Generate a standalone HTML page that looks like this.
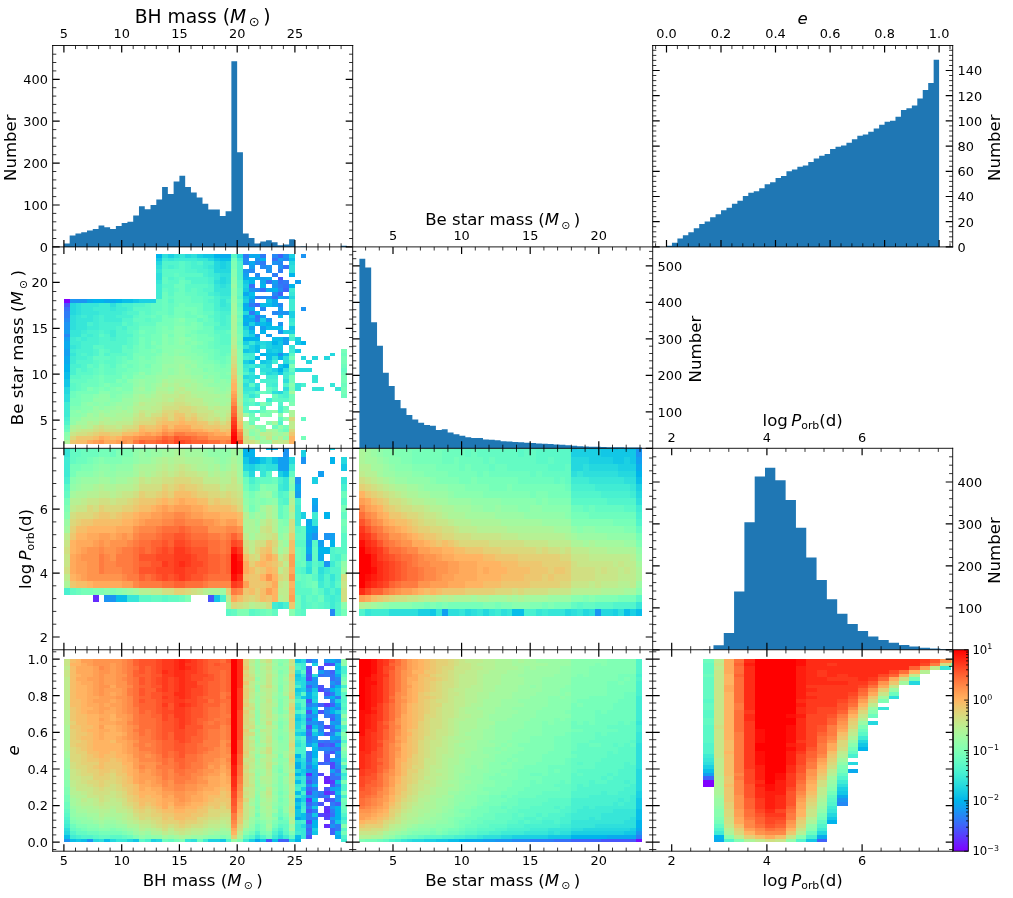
<!DOCTYPE html>
<html lang="en"><head><meta charset="utf-8"><title>Be-BH binaries corner plot</title>
<style>html,body{margin:0;padding:0;background:#fff}svg{display:block}</style></head>
<body>
<svg width="1013" height="898" viewBox="0 0 1013 898">
<rect width="1013" height="898" fill="#fff"/>
<defs>
<clipPath id="c00"><rect x="52.70" y="45.50" width="300.00" height="201.40"/></clipPath>
<clipPath id="c01"><rect x="352.70" y="45.50" width="300.00" height="201.40"/></clipPath>
<clipPath id="c02"><rect x="652.70" y="45.50" width="300.00" height="201.40"/></clipPath>
<clipPath id="c10"><rect x="52.70" y="246.90" width="300.00" height="201.40"/></clipPath>
<clipPath id="c11"><rect x="352.70" y="246.90" width="300.00" height="201.40"/></clipPath>
<clipPath id="c12"><rect x="652.70" y="246.90" width="300.00" height="201.40"/></clipPath>
<clipPath id="c20"><rect x="52.70" y="448.30" width="300.00" height="201.45"/></clipPath>
<clipPath id="c21"><rect x="352.70" y="448.30" width="300.00" height="201.45"/></clipPath>
<clipPath id="c22"><rect x="652.70" y="448.30" width="300.00" height="201.45"/></clipPath>
<clipPath id="c30"><rect x="52.70" y="649.75" width="300.00" height="201.45"/></clipPath>
<clipPath id="c31"><rect x="352.70" y="649.75" width="300.00" height="201.45"/></clipPath>
<clipPath id="c32"><rect x="652.70" y="649.75" width="300.00" height="201.45"/></clipPath>
<linearGradient id="cb" x1="0" y1="1" x2="0" y2="0">
<stop offset="0.000" stop-color="#8000ff"/>
<stop offset="0.025" stop-color="#7314ff"/>
<stop offset="0.050" stop-color="#6628fe"/>
<stop offset="0.075" stop-color="#593cfd"/>
<stop offset="0.100" stop-color="#4c4ffc"/>
<stop offset="0.125" stop-color="#4062fa"/>
<stop offset="0.150" stop-color="#3374f8"/>
<stop offset="0.175" stop-color="#2685f5"/>
<stop offset="0.200" stop-color="#1996f3"/>
<stop offset="0.225" stop-color="#0da6ef"/>
<stop offset="0.250" stop-color="#00b4ec"/>
<stop offset="0.275" stop-color="#0dc2e8"/>
<stop offset="0.300" stop-color="#19cee3"/>
<stop offset="0.325" stop-color="#26d9de"/>
<stop offset="0.350" stop-color="#33e3d9"/>
<stop offset="0.375" stop-color="#40ecd4"/>
<stop offset="0.400" stop-color="#4df3ce"/>
<stop offset="0.425" stop-color="#59f8c8"/>
<stop offset="0.450" stop-color="#66fcc2"/>
<stop offset="0.475" stop-color="#73febb"/>
<stop offset="0.500" stop-color="#80ffb4"/>
<stop offset="0.525" stop-color="#8cfead"/>
<stop offset="0.550" stop-color="#99fca6"/>
<stop offset="0.575" stop-color="#a6f89e"/>
<stop offset="0.600" stop-color="#b2f396"/>
<stop offset="0.625" stop-color="#bfec8e"/>
<stop offset="0.650" stop-color="#cce385"/>
<stop offset="0.675" stop-color="#d9d97d"/>
<stop offset="0.700" stop-color="#e5ce74"/>
<stop offset="0.725" stop-color="#f2c26b"/>
<stop offset="0.750" stop-color="#ffb462"/>
<stop offset="0.775" stop-color="#ffa658"/>
<stop offset="0.800" stop-color="#ff964f"/>
<stop offset="0.825" stop-color="#ff8545"/>
<stop offset="0.850" stop-color="#ff743c"/>
<stop offset="0.875" stop-color="#ff6232"/>
<stop offset="0.900" stop-color="#ff4f28"/>
<stop offset="0.925" stop-color="#ff3c1e"/>
<stop offset="0.950" stop-color="#ff2814"/>
<stop offset="0.975" stop-color="#ff140a"/>
<stop offset="1.000" stop-color="#ff0000"/>
</linearGradient>
</defs>
<g clip-path="url(#c10)" shape-rendering="crispEdges"><path fill="#8000ff" d="M63.9 299.3H69.7V303.1H63.9z"/><path fill="#4954fb" d="M63.9 303.1H69.7V306.9H63.9zM277.6 276.5H283.4V280.3H277.6z"/><path fill="#4062fa" d="M254.5 303.1H260.2V306.9H254.5zM277.6 291.7H283.4V295.5H277.6zM283.4 287.9H289.1V291.7H283.4zM277.6 253.7H283.4V257.5H277.6z"/><path fill="#376ff9" d="M254.5 314.5H260.2V318.3H254.5zM63.9 306.9H69.7V310.7H63.9zM271.8 295.5H277.6V299.3H271.8zM260.2 287.9H266V291.7H260.2zM248.7 284.1H254.5V287.9H248.7zM283.4 284.1H289.1V287.9H283.4zM266 280.3H271.8V284.1H266zM277.6 280.3H283.4V284.1H277.6zM283.4 265.1H289.1V268.9H283.4zM271.8 257.5H277.6V261.3H271.8z"/><path fill="#2e7bf7" d="M254.5 318.3H260.2V322.1H254.5zM63.9 314.5H69.7V318.3H63.9zM63.9 310.7H69.7V314.5H63.9zM248.7 310.7H254.5V314.5H248.7zM248.7 303.1H254.5V306.9H248.7zM254.5 295.5H260.2V299.3H254.5zM277.6 284.1H283.4V287.9H277.6zM283.4 280.3H289.1V284.1H283.4zM271.8 272.7H277.6V276.5H271.8zM277.6 268.9H283.4V272.7H277.6zM260.2 261.3H266V265.1H260.2zM242.9 253.7H248.7V257.5H242.9zM260.2 253.7H266V257.5H260.2z"/><path fill="#2488f5" d="M63.9 333.5H69.7V337.3H63.9zM63.9 318.3H69.7V322.1H63.9zM271.8 310.7H277.6V314.5H271.8zM260.2 306.9H266V310.7H260.2zM277.6 303.1H283.4V306.9H277.6zM260.2 295.5H266V299.3H260.2zM271.8 291.7H277.6V295.5H271.8zM254.5 287.9H260.2V291.7H254.5zM277.6 287.9H283.4V291.7H277.6zM254.5 272.7H260.2V276.5H254.5zM248.7 268.9H254.5V272.7H248.7zM260.2 265.1H266V268.9H260.2zM242.9 261.3H248.7V265.1H242.9zM254.5 261.3H260.2V265.1H254.5zM277.6 261.3H283.4V265.1H277.6zM242.9 257.5H248.7V261.3H242.9zM283.4 257.5H289.1V261.3H283.4zM271.8 253.7H277.6V257.5H271.8z"/><path fill="#1b94f3" d="M277.6 352.5H283.4V356.3H277.6zM254.5 333.5H260.2V337.3H254.5zM277.6 329.7H283.4V333.5H277.6zM63.9 325.9H69.7V329.7H63.9zM63.9 322.1H69.7V325.9H63.9zM277.6 322.1H283.4V325.9H277.6zM266 318.3H271.8V322.1H266zM277.6 310.7H289.1V314.5H277.6zM300.7 306.9H306.4V310.7H300.7zM69.7 299.3H87V303.1H69.7zM248.7 299.3H254.5V303.1H248.7zM266 295.5H271.8V299.3H266zM283.4 295.5H289.1V299.3H283.4zM248.7 287.9H254.5V291.7H248.7zM271.8 284.1H277.6V287.9H271.8zM242.9 268.9H248.7V272.7H242.9zM266 268.9H271.8V272.7H266zM266 265.1H271.8V268.9H266zM277.6 265.1H283.4V268.9H277.6zM271.8 261.3H277.6V265.1H271.8zM254.5 257.5H260.2V261.3H254.5zM283.4 253.7H289.1V257.5H283.4zM300.7 253.7H306.4V257.5H300.7z"/><path fill="#129ff1" d="M63.9 352.5H69.7V356.3H63.9zM63.9 348.7H69.7V352.5H63.9zM283.4 341.1H289.1V344.9H283.4zM63.9 337.3H69.7V341.1H63.9zM283.4 337.3H289.1V341.1H283.4zM266 333.5H271.8V337.3H266zM63.9 329.7H69.7V333.5H63.9zM248.7 325.9H254.5V329.7H248.7zM260.2 325.9H266V329.7H260.2zM260.2 314.5H266V318.3H260.2zM277.6 306.9H283.4V310.7H277.6zM271.8 280.3H277.6V284.1H271.8zM294.9 280.3H300.7V284.1H294.9zM260.2 276.5H266V280.3H260.2zM242.9 272.7H248.7V276.5H242.9zM248.7 265.1H254.5V268.9H248.7zM277.6 257.5H283.4V261.3H277.6z"/><path fill="#09aaee" d="M63.9 360.1H69.7V363.9H63.9zM63.9 356.3H69.7V360.1H63.9zM63.9 344.9H69.7V348.7H63.9zM63.9 341.1H69.7V344.9H63.9zM242.9 322.1H248.7V325.9H242.9zM254.5 322.1H260.2V325.9H254.5zM248.7 318.3H254.5V322.1H248.7zM242.9 314.5H248.7V318.3H242.9zM248.7 306.9H254.5V310.7H248.7zM242.9 303.1H248.7V306.9H242.9zM271.8 303.1H277.6V306.9H271.8zM87 299.3H92.8V303.1H87zM104.3 299.3H115.9V303.1H104.3zM271.8 299.3H277.6V303.1H271.8zM277.6 295.5H283.4V299.3H277.6zM242.9 291.7H248.7V295.5H242.9zM266 287.9H271.8V291.7H266zM260.2 280.3H266V284.1H260.2zM242.9 276.5H248.7V280.3H242.9zM254.5 276.5H260.2V280.3H254.5zM266 276.5H271.8V280.3H266zM248.7 261.3H254.5V265.1H248.7zM219.8 253.7H231.4V257.5H219.8zM248.7 253.7H260.2V257.5H248.7z"/><path fill="#00b4ec" d="M63.9 367.7H69.7V371.5H63.9zM277.6 367.7H283.4V371.5H277.6zM63.9 363.9H69.7V367.7H63.9zM283.4 363.9H289.1V367.7H283.4zM254.5 356.3H260.2V360.1H254.5zM277.6 356.3H283.4V360.1H277.6zM260.2 352.5H266V356.3H260.2zM271.8 341.1H277.6V344.9H271.8zM300.7 341.1H306.4V344.9H300.7zM242.9 337.3H260.2V341.1H242.9zM260.2 329.7H266V333.5H260.2zM266 322.1H271.8V325.9H266zM242.9 318.3H248.7V322.1H242.9zM254.5 310.7H260.2V314.5H254.5zM242.9 306.9H248.7V310.7H242.9zM92.8 299.3H104.3V303.1H92.8zM115.9 299.3H121.7V303.1H115.9zM248.7 295.5H254.5V299.3H248.7zM271.8 287.9H277.6V291.7H271.8zM260.2 284.1H266V287.9H260.2zM289.1 284.1H294.9V287.9H289.1zM248.7 280.3H254.5V284.1H248.7zM248.7 276.5H254.5V280.3H248.7zM289.1 272.7H294.9V276.5H289.1zM260.2 257.5H266V261.3H260.2zM156.3 253.7H162.1V257.5H156.3zM214.1 253.7H219.8V257.5H214.1z"/><path fill="#09bee9" d="M63.9 375.3H69.7V379.1H63.9zM63.9 371.5H69.7V375.3H63.9zM248.7 360.1H254.5V363.9H248.7zM266 356.3H271.8V360.1H266zM266 352.5H277.6V356.3H266zM283.4 352.5H289.1V356.3H283.4zM254.5 348.7H260.2V352.5H254.5zM254.5 344.9H260.2V348.7H254.5zM271.8 337.3H283.4V341.1H271.8zM248.7 329.7H254.5V333.5H248.7zM266 325.9H283.4V329.7H266zM260.2 322.1H266V325.9H260.2zM248.7 314.5H254.5V318.3H248.7zM277.6 314.5H283.4V318.3H277.6zM260.2 303.1H271.8V306.9H260.2zM121.7 299.3H133.2V303.1H121.7zM248.7 291.7H254.5V295.5H248.7zM219.8 257.5H231.4V261.3H219.8zM289.1 257.5H294.9V261.3H289.1z"/><path fill="#12c7e6" d="M63.9 382.9H69.7V386.7H63.9zM63.9 379.1H69.7V382.9H63.9zM277.6 371.5H283.4V375.3H277.6zM277.6 363.9H283.4V367.7H277.6zM260.2 360.1H266V363.9H260.2zM242.9 348.7H248.7V352.5H242.9zM266 348.7H271.8V352.5H266zM277.6 348.7H283.4V352.5H277.6zM294.9 348.7H300.7V352.5H294.9zM271.8 344.9H283.4V348.7H271.8zM277.6 341.1H283.4V344.9H277.6zM294.9 341.1H300.7V344.9H294.9zM289.1 325.9H294.9V329.7H289.1zM133.2 299.3H139V303.1H133.2zM266 299.3H271.8V303.1H266zM242.9 295.5H248.7V299.3H242.9zM242.9 287.9H248.7V291.7H242.9zM242.9 280.3H248.7V284.1H242.9zM156.3 257.5H162.1V261.3H156.3zM214.1 257.5H219.8V261.3H214.1zM202.5 253.7H214.1V257.5H202.5z"/><path fill="#1bd0e3" d="M248.7 367.7H254.5V371.5H248.7zM271.8 367.7H277.6V371.5H271.8zM242.9 360.1H248.7V363.9H242.9zM266 360.1H271.8V363.9H266zM248.7 348.7H254.5V352.5H248.7zM271.8 348.7H277.6V352.5H271.8zM248.7 344.9H254.5V348.7H248.7zM266 344.9H271.8V348.7H266zM242.9 341.1H248.7V344.9H242.9zM254.5 341.1H260.2V344.9H254.5zM266 341.1H271.8V344.9H266zM294.9 337.3H300.7V341.1H294.9zM248.7 333.5H254.5V337.3H248.7zM283.4 329.7H294.9V333.5H283.4zM242.9 325.9H248.7V329.7H242.9zM248.7 322.1H254.5V325.9H248.7zM260.2 318.3H266V322.1H260.2zM289.1 314.5H294.9V318.3H289.1zM289.1 310.7H294.9V314.5H289.1zM139 299.3H156.3V303.1H139zM242.9 299.3H248.7V303.1H242.9zM242.9 284.1H248.7V287.9H242.9zM219.8 265.1H225.6V268.9H219.8zM219.8 261.3H225.6V265.1H219.8zM167.8 253.7H173.6V257.5H167.8zM196.7 253.7H202.5V257.5H196.7zM289.1 253.7H294.9V257.5H289.1z"/><path fill="#24d8df" d="M63.9 390.5H69.7V394.3H63.9zM277.6 390.5H283.4V394.3H277.6zM63.9 386.7H69.7V390.5H63.9zM254.5 386.7H260.2V390.5H254.5zM242.9 375.3H248.7V379.1H242.9zM254.5 375.3H260.2V379.1H254.5zM266 371.5H271.8V375.3H266zM294.9 367.7H312.2V371.5H294.9zM266 363.9H271.8V367.7H266zM306.4 360.1H312.2V363.9H306.4zM300.7 356.3H306.4V360.1H300.7zM312.2 356.3H318V360.1H312.2zM323.8 356.3H329.6V360.1H323.8zM329.6 352.5H335.3V356.3H329.6zM260.2 341.1H266V344.9H260.2zM69.7 310.7H75.5V314.5H69.7zM242.9 310.7H248.7V314.5H242.9zM69.7 306.9H75.5V310.7H69.7zM69.7 303.1H75.5V306.9H69.7zM289.1 295.5H294.9V299.3H289.1zM219.8 280.3H225.6V284.1H219.8zM219.8 276.5H225.6V280.3H219.8zM214.1 268.9H231.4V272.7H214.1zM214.1 265.1H219.8V268.9H214.1zM225.6 265.1H231.4V268.9H225.6zM156.3 261.3H162.1V265.1H156.3zM214.1 261.3H219.8V265.1H214.1zM225.6 261.3H231.4V265.1H225.6zM289.1 261.3H294.9V265.1H289.1zM208.3 257.5H214.1V261.3H208.3zM185.2 253.7H191V257.5H185.2zM237.2 253.7H242.9V257.5H237.2z"/><path fill="#2edfdc" d="M63.9 398.1H69.7V401.9H63.9zM63.9 394.3H69.7V398.1H63.9zM271.8 390.5H277.6V394.3H271.8zM283.4 386.7H289.1V390.5H283.4zM242.9 382.9H248.7V386.7H242.9zM254.5 382.9H260.2V386.7H254.5zM248.7 379.1H254.5V382.9H248.7zM283.4 379.1H289.1V382.9H283.4zM248.7 375.3H254.5V379.1H248.7zM271.8 371.5H277.6V375.3H271.8zM260.2 367.7H271.8V371.5H260.2zM283.4 367.7H289.1V371.5H283.4zM254.5 363.9H260.2V367.7H254.5zM283.4 360.1H289.1V363.9H283.4zM271.8 356.3H277.6V360.1H271.8zM283.4 356.3H289.1V360.1H283.4zM260.2 344.9H266V348.7H260.2zM242.9 333.5H248.7V337.3H242.9zM242.9 329.7H248.7V333.5H242.9zM69.7 325.9H75.5V329.7H69.7zM69.7 322.1H75.5V325.9H69.7zM69.7 318.3H75.5V322.1H69.7zM69.7 314.5H75.5V318.3H69.7zM75.5 310.7H81.2V314.5H75.5zM75.5 306.9H81.2V310.7H75.5zM75.5 303.1H81.2V306.9H75.5zM110.1 303.1H115.9V306.9H110.1zM219.8 284.1H225.6V287.9H219.8zM214.1 280.3H219.8V284.1H214.1zM225.6 280.3H231.4V284.1H225.6zM156.3 276.5H162.1V280.3H156.3zM225.6 276.5H231.4V280.3H225.6zM156.3 272.7H162.1V276.5H156.3zM219.8 272.7H231.4V276.5H219.8zM289.1 268.9H294.9V272.7H289.1zM156.3 265.1H162.1V268.9H156.3zM289.1 265.1H294.9V268.9H289.1zM162.1 253.7H167.8V257.5H162.1zM173.6 253.7H179.4V257.5H173.6zM191 253.7H196.7V257.5H191z"/><path fill="#37e6d8" d="M248.7 394.3H254.5V398.1H248.7zM242.9 386.7H254.5V390.5H242.9zM294.9 386.7H300.7V390.5H294.9zM312.2 386.7H323.8V390.5H312.2zM335.3 386.7H341.1V390.5H335.3zM294.9 382.9H300.7V386.7H294.9zM329.6 382.9H335.3V386.7H329.6zM312.2 379.1H318V382.9H312.2zM312.2 375.3H318V379.1H312.2zM248.7 371.5H254.5V375.3H248.7zM242.9 363.9H248.7V367.7H242.9zM260.2 363.9H266V367.7H260.2zM69.7 352.5H75.5V356.3H69.7zM69.7 344.9H75.5V348.7H69.7zM242.9 344.9H248.7V348.7H242.9zM289.1 344.9H294.9V348.7H289.1zM248.7 341.1H254.5V344.9H248.7zM69.7 333.5H81.2V337.3H69.7zM69.7 329.7H81.2V333.5H69.7zM75.5 325.9H87V329.7H75.5zM75.5 322.1H87V325.9H75.5zM75.5 318.3H92.8V322.1H75.5zM289.1 318.3H294.9V322.1H289.1zM75.5 314.5H81.2V318.3H75.5zM87 314.5H92.8V318.3H87zM81.2 310.7H98.6V314.5H81.2zM81.2 306.9H92.8V310.7H81.2zM110.1 306.9H115.9V310.7H110.1zM81.2 303.1H98.6V306.9H81.2zM219.8 303.1H225.6V306.9H219.8zM219.8 299.3H225.6V303.1H219.8zM219.8 291.7H231.4V295.5H219.8zM289.1 291.7H294.9V295.5H289.1zM214.1 287.9H231.4V291.7H214.1zM214.1 284.1H219.8V287.9H214.1zM225.6 284.1H231.4V287.9H225.6zM156.3 280.3H162.1V284.1H156.3zM214.1 276.5H219.8V280.3H214.1zM214.1 272.7H219.8V276.5H214.1zM156.3 268.9H162.1V272.7H156.3zM208.3 265.1H214.1V268.9H208.3zM167.8 257.5H173.6V261.3H167.8zM196.7 257.5H208.3V261.3H196.7zM179.4 253.7H185.2V257.5H179.4z"/><path fill="#40ecd4" d="M63.9 413.3H69.7V417.1H63.9zM63.9 409.5H69.7V413.3H63.9zM63.9 405.7H69.7V409.5H63.9zM63.9 401.9H69.7V405.7H63.9zM266 398.1H271.8V401.9H266zM242.9 390.5H248.7V394.3H242.9zM271.8 382.9H277.6V386.7H271.8zM242.9 379.1H248.7V382.9H242.9zM266 375.3H277.6V379.1H266zM283.4 375.3H289.1V379.1H283.4zM260.2 371.5H266V375.3H260.2zM283.4 371.5H289.1V375.3H283.4zM242.9 367.7H248.7V371.5H242.9zM248.7 363.9H254.5V367.7H248.7zM69.7 360.1H75.5V363.9H69.7zM271.8 360.1H277.6V363.9H271.8zM69.7 356.3H75.5V360.1H69.7zM248.7 356.3H254.5V360.1H248.7zM242.9 352.5H254.5V356.3H242.9zM69.7 348.7H75.5V352.5H69.7zM289.1 348.7H294.9V352.5H289.1zM75.5 344.9H81.2V348.7H75.5zM69.7 341.1H81.2V344.9H69.7zM69.7 337.3H75.5V341.1H69.7zM81.2 337.3H87V341.1H81.2zM87 333.5H92.8V337.3H87zM110.1 333.5H115.9V337.3H110.1zM81.2 329.7H87V333.5H81.2zM110.1 329.7H115.9V333.5H110.1zM87 325.9H98.6V329.7H87zM92.8 322.1H98.6V325.9H92.8zM289.1 322.1H294.9V325.9H289.1zM92.8 318.3H98.6V322.1H92.8zM104.3 318.3H121.7V322.1H104.3zM81.2 314.5H87V318.3H81.2zM92.8 314.5H98.6V318.3H92.8zM104.3 314.5H115.9V318.3H104.3zM98.6 310.7H121.7V314.5H98.6zM92.8 306.9H110.1V310.7H92.8zM115.9 306.9H127.4V310.7H115.9zM219.8 306.9H231.4V310.7H219.8zM289.1 306.9H294.9V310.7H289.1zM98.6 303.1H110.1V306.9H98.6zM115.9 303.1H121.7V306.9H115.9zM225.6 303.1H231.4V306.9H225.6zM289.1 303.1H294.9V306.9H289.1zM289.1 299.3H294.9V303.1H289.1zM156.3 295.5H162.1V299.3H156.3zM219.8 295.5H231.4V299.3H219.8zM156.3 291.7H162.1V295.5H156.3zM214.1 291.7H219.8V295.5H214.1zM156.3 287.9H162.1V291.7H156.3zM289.1 287.9H294.9V291.7H289.1zM156.3 284.1H162.1V287.9H156.3zM208.3 272.7H214.1V276.5H208.3zM208.3 268.9H214.1V272.7H208.3zM202.5 265.1H208.3V268.9H202.5zM202.5 261.3H214.1V265.1H202.5zM162.1 257.5H167.8V261.3H162.1zM173.6 257.5H196.7V261.3H173.6zM237.2 257.5H242.9V261.3H237.2z"/><path fill="#49f1d0" d="M63.9 417.1H69.7V420.9H63.9zM254.5 409.5H260.2V413.3H254.5zM277.6 409.5H283.4V413.3H277.6zM277.6 405.7H283.4V409.5H277.6zM254.5 401.9H260.2V405.7H254.5zM254.5 394.3H260.2V398.1H254.5zM283.4 394.3H289.1V398.1H283.4zM248.7 390.5H254.5V394.3H248.7zM283.4 390.5H289.1V394.3H283.4zM266 382.9H271.8V386.7H266zM300.7 382.9H306.4V386.7H300.7zM260.2 379.1H277.6V382.9H260.2zM69.7 371.5H75.5V375.3H69.7zM69.7 367.7H75.5V371.5H69.7zM69.7 363.9H81.2V367.7H69.7zM75.5 356.3H87V360.1H75.5zM242.9 356.3H248.7V360.1H242.9zM75.5 352.5H81.2V356.3H75.5zM87 352.5H92.8V356.3H87zM75.5 348.7H92.8V352.5H75.5zM81.2 344.9H92.8V348.7H81.2zM81.2 341.1H98.6V344.9H81.2zM75.5 337.3H81.2V341.1H75.5zM87 337.3H98.6V341.1H87zM110.1 337.3H115.9V341.1H110.1zM289.1 337.3H294.9V341.1H289.1zM81.2 333.5H87V337.3H81.2zM92.8 333.5H98.6V337.3H92.8zM87 329.7H98.6V333.5H87zM104.3 329.7H110.1V333.5H104.3zM98.6 325.9H115.9V329.7H98.6zM121.7 325.9H127.4V329.7H121.7zM87 322.1H92.8V325.9H87zM98.6 322.1H121.7V325.9H98.6zM219.8 322.1H225.6V325.9H219.8zM98.6 318.3H104.3V322.1H98.6zM219.8 318.3H225.6V322.1H219.8zM98.6 314.5H104.3V318.3H98.6zM115.9 314.5H133.2V318.3H115.9zM219.8 314.5H225.6V318.3H219.8zM121.7 310.7H127.4V314.5H121.7zM219.8 310.7H231.4V314.5H219.8zM127.4 306.9H133.2V310.7H127.4zM214.1 306.9H219.8V310.7H214.1zM121.7 303.1H133.2V306.9H121.7zM214.1 303.1H219.8V306.9H214.1zM214.1 299.3H219.8V303.1H214.1zM225.6 299.3H231.4V303.1H225.6zM214.1 295.5H219.8V299.3H214.1zM208.3 291.7H214.1V295.5H208.3zM208.3 280.3H214.1V284.1H208.3zM208.3 276.5H214.1V280.3H208.3zM202.5 272.7H208.3V276.5H202.5zM196.7 268.9H208.3V272.7H196.7zM167.8 265.1H173.6V268.9H167.8zM191 265.1H202.5V268.9H191zM191 261.3H196.7V265.1H191z"/><path fill="#52f5cc" d="M63.9 420.9H69.7V424.7H63.9zM277.6 420.9H283.4V424.7H277.6zM248.7 409.5H254.5V413.3H248.7zM242.9 401.9H248.7V405.7H242.9zM277.6 401.9H283.4V405.7H277.6zM242.9 394.3H248.7V398.1H242.9zM277.6 394.3H283.4V398.1H277.6zM271.8 386.7H277.6V390.5H271.8zM283.4 382.9H289.1V386.7H283.4zM242.9 371.5H248.7V375.3H242.9zM289.1 371.5H294.9V375.3H289.1zM81.2 367.7H87V371.5H81.2zM81.2 363.9H87V367.7H81.2zM75.5 360.1H92.8V363.9H75.5zM289.1 360.1H294.9V363.9H289.1zM87 356.3H92.8V360.1H87zM81.2 352.5H87V356.3H81.2zM92.8 352.5H98.6V356.3H92.8zM104.3 352.5H110.1V356.3H104.3zM92.8 348.7H98.6V352.5H92.8zM110.1 348.7H121.7V352.5H110.1zM104.3 344.9H121.7V348.7H104.3zM98.6 341.1H127.4V344.9H98.6zM98.6 337.3H110.1V341.1H98.6zM115.9 337.3H127.4V341.1H115.9zM104.3 333.5H110.1V337.3H104.3zM115.9 333.5H133.2V337.3H115.9zM98.6 329.7H104.3V333.5H98.6zM115.9 329.7H127.4V333.5H115.9zM115.9 325.9H121.7V329.7H115.9zM214.1 325.9H231.4V329.7H214.1zM127.4 322.1H133.2V325.9H127.4zM225.6 322.1H231.4V325.9H225.6zM121.7 318.3H133.2V322.1H121.7zM214.1 318.3H219.8V322.1H214.1zM225.6 318.3H231.4V322.1H225.6zM214.1 314.5H219.8V318.3H214.1zM225.6 314.5H231.4V318.3H225.6zM127.4 310.7H139V314.5H127.4zM214.1 310.7H219.8V314.5H214.1zM133.2 303.1H144.8V306.9H133.2zM208.3 299.3H214.1V303.1H208.3zM202.5 287.9H214.1V291.7H202.5zM208.3 284.1H214.1V287.9H208.3zM191 280.3H208.3V284.1H191zM167.8 276.5H173.6V280.3H167.8zM185.2 276.5H208.3V280.3H185.2zM237.2 276.5H242.9V280.3H237.2zM237.2 272.7H242.9V276.5H237.2zM185.2 268.9H196.7V272.7H185.2zM237.2 268.9H242.9V272.7H237.2zM162.1 265.1H167.8V268.9H162.1zM173.6 265.1H179.4V268.9H173.6zM185.2 265.1H191V268.9H185.2zM237.2 265.1H242.9V268.9H237.2zM162.1 261.3H179.4V265.1H162.1zM185.2 261.3H191V265.1H185.2zM196.7 261.3H202.5V265.1H196.7zM237.2 261.3H242.9V265.1H237.2z"/><path fill="#5bf9c7" d="M242.9 409.5H248.7V413.3H242.9zM260.2 405.7H266V409.5H260.2zM248.7 401.9H254.5V405.7H248.7zM242.9 398.1H248.7V401.9H242.9zM277.6 398.1H289.1V401.9H277.6zM266 390.5H271.8V394.3H266zM69.7 386.7H75.5V390.5H69.7zM69.7 382.9H75.5V386.7H69.7zM248.7 382.9H254.5V386.7H248.7zM69.7 375.3H81.2V379.1H69.7zM75.5 371.5H92.8V375.3H75.5zM75.5 367.7H81.2V371.5H75.5zM87 367.7H92.8V371.5H87zM92.8 363.9H98.6V367.7H92.8zM110.1 363.9H115.9V367.7H110.1zM92.8 360.1H98.6V363.9H92.8zM104.3 360.1H115.9V363.9H104.3zM110.1 356.3H115.9V360.1H110.1zM110.1 352.5H127.4V356.3H110.1zM289.1 352.5H294.9V356.3H289.1zM104.3 348.7H110.1V352.5H104.3zM92.8 344.9H104.3V348.7H92.8zM127.4 344.9H133.2V348.7H127.4zM127.4 341.1H133.2V344.9H127.4zM219.8 341.1H231.4V344.9H219.8zM127.4 337.3H133.2V341.1H127.4zM219.8 337.3H231.4V341.1H219.8zM98.6 333.5H104.3V337.3H98.6zM219.8 333.5H231.4V337.3H219.8zM289.1 333.5H294.9V337.3H289.1zM127.4 329.7H133.2V333.5H127.4zM214.1 329.7H225.6V333.5H214.1zM127.4 325.9H139V329.7H127.4zM121.7 322.1H127.4V325.9H121.7zM133.2 322.1H139V325.9H133.2zM214.1 322.1H219.8V325.9H214.1zM144.8 318.3H150.5V322.1H144.8zM133.2 314.5H139V318.3H133.2zM208.3 314.5H214.1V318.3H208.3zM144.8 310.7H150.5V314.5H144.8zM133.2 306.9H150.5V310.7H133.2zM202.5 306.9H214.1V310.7H202.5zM144.8 303.1H150.5V306.9H144.8zM202.5 303.1H214.1V306.9H202.5zM167.8 299.3H173.6V303.1H167.8zM202.5 299.3H208.3V303.1H202.5zM202.5 295.5H214.1V299.3H202.5zM237.2 295.5H242.9V299.3H237.2zM167.8 291.7H173.6V295.5H167.8zM196.7 291.7H208.3V295.5H196.7zM167.8 287.9H173.6V291.7H167.8zM185.2 287.9H191V291.7H185.2zM196.7 287.9H202.5V291.7H196.7zM162.1 284.1H173.6V287.9H162.1zM185.2 284.1H208.3V287.9H185.2zM237.2 284.1H242.9V287.9H237.2zM167.8 280.3H179.4V284.1H167.8zM237.2 280.3H242.9V284.1H237.2zM173.6 276.5H179.4V280.3H173.6zM162.1 272.7H173.6V276.5H162.1zM179.4 272.7H202.5V276.5H179.4zM162.1 268.9H185.2V272.7H162.1zM179.4 265.1H185.2V268.9H179.4zM179.4 261.3H185.2V265.1H179.4zM231.4 253.7H237.2V257.5H231.4z"/><path fill="#64fbc3" d="M63.9 424.7H69.7V428.5H63.9zM277.6 417.1H283.4V420.9H277.6zM300.7 417.1H306.4V420.9H300.7zM242.9 405.7H248.7V409.5H242.9zM266 401.9H271.8V405.7H266zM271.8 398.1H277.6V401.9H271.8zM254.5 390.5H260.2V394.3H254.5zM75.5 386.7H81.2V390.5H75.5zM266 386.7H271.8V390.5H266zM75.5 382.9H81.2V386.7H75.5zM69.7 379.1H87V382.9H69.7zM81.2 375.3H92.8V379.1H81.2zM92.8 371.5H98.6V375.3H92.8zM104.3 371.5H115.9V375.3H104.3zM92.8 367.7H98.6V371.5H92.8zM104.3 367.7H115.9V371.5H104.3zM289.1 367.7H294.9V371.5H289.1zM341.1 367.7H346.9V371.5H341.1zM87 363.9H92.8V367.7H87zM104.3 363.9H110.1V367.7H104.3zM98.6 360.1H104.3V363.9H98.6zM115.9 360.1H121.7V363.9H115.9zM92.8 356.3H110.1V360.1H92.8zM115.9 356.3H121.7V360.1H115.9zM127.4 356.3H133.2V360.1H127.4zM98.6 352.5H104.3V356.3H98.6zM127.4 352.5H133.2V356.3H127.4zM219.8 352.5H225.6V356.3H219.8zM98.6 348.7H104.3V352.5H98.6zM121.7 348.7H133.2V352.5H121.7zM219.8 348.7H231.4V352.5H219.8zM121.7 344.9H127.4V348.7H121.7zM214.1 344.9H231.4V348.7H214.1zM133.2 341.1H139V344.9H133.2zM214.1 341.1H219.8V344.9H214.1zM133.2 337.3H139V341.1H133.2zM214.1 337.3H219.8V341.1H214.1zM133.2 333.5H139V337.3H133.2zM214.1 333.5H219.8V337.3H214.1zM133.2 329.7H139V333.5H133.2zM225.6 329.7H231.4V333.5H225.6zM139 322.1H156.3V325.9H139zM202.5 322.1H214.1V325.9H202.5zM133.2 318.3H144.8V322.1H133.2zM150.5 318.3H162.1V322.1H150.5zM196.7 318.3H202.5V322.1H196.7zM208.3 318.3H214.1V322.1H208.3zM139 314.5H150.5V318.3H139zM156.3 314.5H162.1V318.3H156.3zM139 310.7H144.8V314.5H139zM150.5 310.7H156.3V314.5H150.5zM167.8 310.7H173.6V314.5H167.8zM202.5 310.7H214.1V314.5H202.5zM150.5 306.9H162.1V310.7H150.5zM167.8 306.9H173.6V310.7H167.8zM150.5 303.1H162.1V306.9H150.5zM167.8 303.1H173.6V306.9H167.8zM237.2 303.1H242.9V306.9H237.2zM156.3 299.3H162.1V303.1H156.3zM191 299.3H202.5V303.1H191zM167.8 295.5H173.6V299.3H167.8zM191 295.5H202.5V299.3H191zM185.2 291.7H196.7V295.5H185.2zM237.2 291.7H242.9V295.5H237.2zM162.1 287.9H167.8V291.7H162.1zM173.6 287.9H179.4V291.7H173.6zM191 287.9H196.7V291.7H191zM237.2 287.9H242.9V291.7H237.2zM162.1 280.3H167.8V284.1H162.1zM185.2 280.3H191V284.1H185.2zM162.1 276.5H167.8V280.3H162.1zM179.4 276.5H185.2V280.3H179.4zM173.6 272.7H179.4V276.5H173.6z"/><path fill="#6dfdbe" d="M63.9 428.5H69.7V432.3H63.9zM283.4 428.5H289.1V432.3H283.4zM271.8 424.7H277.6V428.5H271.8zM248.7 420.9H254.5V424.7H248.7zM254.5 417.1H260.2V420.9H254.5zM248.7 413.3H254.5V417.1H248.7zM260.2 409.5H266V413.3H260.2zM283.4 405.7H289.1V409.5H283.4zM248.7 398.1H254.5V401.9H248.7zM69.7 394.3H75.5V398.1H69.7zM271.8 394.3H277.6V398.1H271.8zM341.1 394.3H346.9V398.1H341.1zM69.7 390.5H75.5V394.3H69.7zM260.2 390.5H266V394.3H260.2zM81.2 386.7H87V390.5H81.2zM81.2 382.9H98.6V386.7H81.2zM341.1 382.9H346.9V386.7H341.1zM87 379.1H98.6V382.9H87zM104.3 379.1H115.9V382.9H104.3zM92.8 375.3H98.6V379.1H92.8zM104.3 375.3H121.7V379.1H104.3zM98.6 371.5H104.3V375.3H98.6zM115.9 371.5H121.7V375.3H115.9zM341.1 371.5H346.9V375.3H341.1zM98.6 367.7H104.3V371.5H98.6zM115.9 367.7H127.4V371.5H115.9zM98.6 363.9H104.3V367.7H98.6zM115.9 363.9H121.7V367.7H115.9zM127.4 363.9H133.2V367.7H127.4zM341.1 363.9H346.9V367.7H341.1zM121.7 360.1H127.4V363.9H121.7zM219.8 360.1H225.6V363.9H219.8zM121.7 356.3H127.4V360.1H121.7zM214.1 356.3H225.6V360.1H214.1zM214.1 352.5H219.8V356.3H214.1zM225.6 352.5H231.4V356.3H225.6zM341.1 352.5H346.9V356.3H341.1zM133.2 348.7H139V352.5H133.2zM214.1 348.7H219.8V352.5H214.1zM133.2 344.9H139V348.7H133.2zM144.8 344.9H150.5V348.7H144.8zM208.3 344.9H214.1V348.7H208.3zM144.8 341.1H150.5V344.9H144.8zM208.3 341.1H214.1V344.9H208.3zM144.8 337.3H150.5V341.1H144.8zM139 333.5H150.5V337.3H139zM208.3 333.5H214.1V337.3H208.3zM144.8 329.7H156.3V333.5H144.8zM196.7 329.7H214.1V333.5H196.7zM139 325.9H156.3V329.7H139zM202.5 325.9H214.1V329.7H202.5zM237.2 322.1H242.9V325.9H237.2zM202.5 318.3H208.3V322.1H202.5zM150.5 314.5H156.3V318.3H150.5zM167.8 314.5H173.6V318.3H167.8zM185.2 314.5H196.7V318.3H185.2zM202.5 314.5H208.3V318.3H202.5zM237.2 314.5H242.9V318.3H237.2zM156.3 310.7H167.8V314.5H156.3zM185.2 310.7H191V314.5H185.2zM196.7 310.7H202.5V314.5H196.7zM162.1 306.9H167.8V310.7H162.1zM196.7 306.9H202.5V310.7H196.7zM237.2 306.9H242.9V310.7H237.2zM162.1 303.1H167.8V306.9H162.1zM173.6 303.1H179.4V306.9H173.6zM185.2 303.1H202.5V306.9H185.2zM162.1 299.3H167.8V303.1H162.1zM173.6 299.3H191V303.1H173.6zM237.2 299.3H242.9V303.1H237.2zM162.1 295.5H167.8V299.3H162.1zM173.6 295.5H191V299.3H173.6zM162.1 291.7H167.8V295.5H162.1zM173.6 291.7H185.2V295.5H173.6zM179.4 287.9H185.2V291.7H179.4zM173.6 284.1H185.2V287.9H173.6zM179.4 280.3H185.2V284.1H179.4z"/><path fill="#76ffb9" d="M300.7 436.1H306.4V439.9H300.7zM283.4 424.7H289.1V428.5H283.4zM248.7 417.1H254.5V420.9H248.7zM283.4 409.5H289.1V413.3H283.4zM69.7 401.9H81.2V405.7H69.7zM69.7 398.1H81.2V401.9H69.7zM289.1 398.1H294.9V401.9H289.1zM75.5 394.3H81.2V398.1H75.5zM289.1 394.3H294.9V398.1H289.1zM75.5 390.5H98.6V394.3H75.5zM341.1 390.5H346.9V394.3H341.1zM92.8 386.7H98.6V390.5H92.8zM104.3 386.7H110.1V390.5H104.3zM341.1 386.7H346.9V390.5H341.1zM98.6 382.9H104.3V386.7H98.6zM110.1 382.9H121.7V386.7H110.1zM98.6 379.1H104.3V382.9H98.6zM121.7 379.1H127.4V382.9H121.7zM289.1 379.1H294.9V382.9H289.1zM341.1 379.1H346.9V382.9H341.1zM98.6 375.3H104.3V379.1H98.6zM127.4 375.3H133.2V379.1H127.4zM289.1 375.3H294.9V379.1H289.1zM341.1 375.3H346.9V379.1H341.1zM121.7 371.5H133.2V375.3H121.7zM127.4 367.7H139V371.5H127.4zM121.7 363.9H127.4V367.7H121.7zM133.2 363.9H139V367.7H133.2zM144.8 363.9H150.5V367.7H144.8zM219.8 363.9H225.6V367.7H219.8zM127.4 360.1H139V363.9H127.4zM214.1 360.1H219.8V363.9H214.1zM225.6 360.1H231.4V363.9H225.6zM341.1 360.1H346.9V363.9H341.1zM133.2 356.3H139V360.1H133.2zM144.8 356.3H150.5V360.1H144.8zM208.3 356.3H214.1V360.1H208.3zM225.6 356.3H231.4V360.1H225.6zM289.1 356.3H294.9V360.1H289.1zM341.1 356.3H346.9V360.1H341.1zM133.2 352.5H156.3V356.3H133.2zM208.3 352.5H214.1V356.3H208.3zM139 348.7H150.5V352.5H139zM156.3 348.7H162.1V352.5H156.3zM202.5 348.7H214.1V352.5H202.5zM341.1 348.7H346.9V352.5H341.1zM139 344.9H144.8V348.7H139zM150.5 344.9H156.3V348.7H150.5zM196.7 344.9H208.3V348.7H196.7zM139 341.1H144.8V344.9H139zM156.3 341.1H162.1V344.9H156.3zM202.5 341.1H208.3V344.9H202.5zM237.2 341.1H242.9V344.9H237.2zM139 337.3H144.8V341.1H139zM150.5 337.3H162.1V341.1H150.5zM196.7 337.3H214.1V341.1H196.7zM150.5 333.5H162.1V337.3H150.5zM167.8 333.5H173.6V337.3H167.8zM185.2 333.5H191V337.3H185.2zM196.7 333.5H208.3V337.3H196.7zM139 329.7H144.8V333.5H139zM156.3 329.7H162.1V333.5H156.3zM191 329.7H196.7V333.5H191zM237.2 329.7H242.9V333.5H237.2zM156.3 325.9H162.1V329.7H156.3zM167.8 325.9H173.6V329.7H167.8zM196.7 325.9H202.5V329.7H196.7zM237.2 325.9H242.9V329.7H237.2zM156.3 322.1H173.6V325.9H156.3zM185.2 322.1H191V325.9H185.2zM196.7 322.1H202.5V325.9H196.7zM162.1 318.3H173.6V322.1H162.1zM185.2 318.3H196.7V322.1H185.2zM237.2 318.3H242.9V322.1H237.2zM162.1 314.5H167.8V318.3H162.1zM173.6 314.5H185.2V318.3H173.6zM196.7 314.5H202.5V318.3H196.7zM173.6 310.7H185.2V314.5H173.6zM191 310.7H196.7V314.5H191zM237.2 310.7H242.9V314.5H237.2zM173.6 306.9H196.7V310.7H173.6zM179.4 303.1H185.2V306.9H179.4zM231.4 257.5H237.2V261.3H231.4z"/><path fill="#80ffb4" d="M260.2 428.5H266V432.3H260.2zM277.6 428.5H283.4V432.3H277.6zM260.2 424.7H266V428.5H260.2zM266 413.3H271.8V417.1H266zM266 409.5H271.8V413.3H266zM69.7 405.7H81.2V409.5H69.7zM260.2 401.9H266V405.7H260.2zM289.1 401.9H294.9V405.7H289.1zM81.2 398.1H92.8V401.9H81.2zM81.2 394.3H92.8V398.1H81.2zM110.1 394.3H115.9V398.1H110.1zM110.1 390.5H121.7V394.3H110.1zM87 386.7H92.8V390.5H87zM98.6 386.7H104.3V390.5H98.6zM110.1 386.7H115.9V390.5H110.1zM121.7 386.7H133.2V390.5H121.7zM289.1 386.7H294.9V390.5H289.1zM104.3 382.9H110.1V386.7H104.3zM121.7 382.9H133.2V386.7H121.7zM115.9 379.1H121.7V382.9H115.9zM121.7 375.3H127.4V379.1H121.7zM219.8 375.3H231.4V379.1H219.8zM133.2 371.5H139V375.3H133.2zM144.8 371.5H150.5V375.3H144.8zM219.8 371.5H225.6V375.3H219.8zM139 367.7H150.5V371.5H139zM202.5 367.7H208.3V371.5H202.5zM214.1 367.7H231.4V371.5H214.1zM139 363.9H144.8V367.7H139zM214.1 363.9H219.8V367.7H214.1zM225.6 363.9H231.4V367.7H225.6zM289.1 363.9H294.9V367.7H289.1zM139 360.1H156.3V363.9H139zM202.5 360.1H214.1V363.9H202.5zM139 356.3H144.8V360.1H139zM150.5 356.3H156.3V360.1H150.5zM202.5 356.3H208.3V360.1H202.5zM156.3 352.5H162.1V356.3H156.3zM196.7 352.5H208.3V356.3H196.7zM150.5 348.7H156.3V352.5H150.5zM191 348.7H202.5V352.5H191zM156.3 344.9H162.1V348.7H156.3zM191 344.9H196.7V348.7H191zM237.2 344.9H242.9V348.7H237.2zM150.5 341.1H156.3V344.9H150.5zM167.8 341.1H173.6V344.9H167.8zM185.2 341.1H191V344.9H185.2zM196.7 341.1H202.5V344.9H196.7zM167.8 337.3H173.6V341.1H167.8zM191 337.3H196.7V341.1H191zM237.2 337.3H242.9V341.1H237.2zM191 333.5H196.7V337.3H191zM237.2 333.5H242.9V337.3H237.2zM162.1 329.7H173.6V333.5H162.1zM185.2 329.7H191V333.5H185.2zM162.1 325.9H167.8V329.7H162.1zM185.2 325.9H196.7V329.7H185.2zM173.6 322.1H185.2V325.9H173.6zM191 322.1H196.7V325.9H191zM173.6 318.3H179.4V322.1H173.6zM231.4 265.1H237.2V268.9H231.4zM231.4 261.3H237.2V265.1H231.4z"/><path fill="#89ffaf" d="M63.9 432.3H69.7V436.1H63.9zM248.7 432.3H254.5V436.1H248.7zM254.5 424.7H260.2V428.5H254.5zM266 420.9H271.8V424.7H266zM283.4 417.1H289.1V420.9H283.4zM69.7 413.3H81.2V417.1H69.7zM260.2 413.3H266V417.1H260.2zM277.6 413.3H283.4V417.1H277.6zM69.7 409.5H75.5V413.3H69.7zM81.2 409.5H87V413.3H81.2zM81.2 405.7H92.8V409.5H81.2zM81.2 401.9H87V405.7H81.2zM92.8 401.9H98.6V405.7H92.8zM104.3 401.9H110.1V405.7H104.3zM110.1 398.1H121.7V401.9H110.1zM92.8 394.3H98.6V398.1H92.8zM115.9 394.3H121.7V398.1H115.9zM98.6 390.5H110.1V394.3H98.6zM121.7 390.5H133.2V394.3H121.7zM115.9 386.7H121.7V390.5H115.9zM289.1 382.9H294.9V386.7H289.1zM127.4 379.1H133.2V382.9H127.4zM214.1 379.1H219.8V382.9H214.1zM225.6 379.1H231.4V382.9H225.6zM133.2 375.3H144.8V379.1H133.2zM202.5 375.3H208.3V379.1H202.5zM214.1 375.3H219.8V379.1H214.1zM150.5 371.5H156.3V375.3H150.5zM208.3 371.5H219.8V375.3H208.3zM225.6 371.5H231.4V375.3H225.6zM150.5 367.7H162.1V371.5H150.5zM208.3 367.7H214.1V371.5H208.3zM150.5 363.9H162.1V367.7H150.5zM196.7 363.9H214.1V367.7H196.7zM156.3 360.1H162.1V363.9H156.3zM196.7 360.1H202.5V363.9H196.7zM237.2 360.1H242.9V363.9H237.2zM156.3 356.3H162.1V360.1H156.3zM191 356.3H202.5V360.1H191zM237.2 356.3H242.9V360.1H237.2zM167.8 352.5H173.6V356.3H167.8zM179.4 352.5H196.7V356.3H179.4zM237.2 352.5H242.9V356.3H237.2zM162.1 348.7H173.6V352.5H162.1zM185.2 348.7H191V352.5H185.2zM237.2 348.7H242.9V352.5H237.2zM162.1 344.9H191V348.7H162.1zM162.1 341.1H167.8V344.9H162.1zM173.6 341.1H179.4V344.9H173.6zM191 341.1H196.7V344.9H191zM162.1 337.3H167.8V341.1H162.1zM173.6 337.3H179.4V341.1H173.6zM185.2 337.3H191V341.1H185.2zM162.1 333.5H167.8V337.3H162.1zM173.6 333.5H185.2V337.3H173.6zM173.6 329.7H185.2V333.5H173.6zM173.6 325.9H185.2V329.7H173.6zM179.4 318.3H185.2V322.1H179.4zM231.4 272.7H237.2V276.5H231.4zM231.4 268.9H237.2V272.7H231.4z"/><path fill="#92fdaa" d="M63.9 436.1H69.7V439.9H63.9zM254.5 436.1H260.2V439.9H254.5zM283.4 436.1H289.1V439.9H283.4zM248.7 428.5H254.5V432.3H248.7zM277.6 424.7H283.4V428.5H277.6zM69.7 420.9H75.5V424.7H69.7zM69.7 417.1H81.2V420.9H69.7zM81.2 413.3H87V417.1H81.2zM75.5 409.5H81.2V413.3H75.5zM87 409.5H92.8V413.3H87zM271.8 409.5H277.6V413.3H271.8zM98.6 405.7H104.3V409.5H98.6zM87 401.9H92.8V405.7H87zM98.6 401.9H104.3V405.7H98.6zM110.1 401.9H115.9V405.7H110.1zM92.8 398.1H110.1V401.9H92.8zM98.6 394.3H110.1V398.1H98.6zM121.7 394.3H133.2V398.1H121.7zM144.8 386.7H150.5V390.5H144.8zM219.8 386.7H225.6V390.5H219.8zM133.2 382.9H139V386.7H133.2zM144.8 382.9H150.5V386.7H144.8zM208.3 382.9H231.4V386.7H208.3zM133.2 379.1H139V382.9H133.2zM144.8 379.1H156.3V382.9H144.8zM219.8 379.1H225.6V382.9H219.8zM144.8 375.3H156.3V379.1H144.8zM208.3 375.3H214.1V379.1H208.3zM139 371.5H144.8V375.3H139zM156.3 371.5H162.1V375.3H156.3zM167.8 371.5H173.6V375.3H167.8zM191 371.5H208.3V375.3H191zM237.2 371.5H242.9V375.3H237.2zM167.8 367.7H173.6V371.5H167.8zM191 367.7H202.5V371.5H191zM237.2 367.7H242.9V371.5H237.2zM185.2 363.9H191V367.7H185.2zM237.2 363.9H242.9V367.7H237.2zM162.1 360.1H173.6V363.9H162.1zM191 360.1H196.7V363.9H191zM162.1 356.3H173.6V360.1H162.1zM185.2 356.3H191V360.1H185.2zM162.1 352.5H167.8V356.3H162.1zM173.6 352.5H179.4V356.3H173.6zM173.6 348.7H185.2V352.5H173.6zM179.4 341.1H185.2V344.9H179.4zM179.4 337.3H185.2V341.1H179.4zM231.4 291.7H237.2V295.5H231.4zM231.4 287.9H237.2V291.7H231.4zM231.4 280.3H237.2V284.1H231.4zM231.4 276.5H237.2V280.3H231.4z"/><path fill="#9bfba5" d="M260.2 439.9H271.8V443.7H260.2zM271.8 436.1H277.6V439.9H271.8zM254.5 432.3H260.2V436.1H254.5zM277.6 432.3H283.4V436.1H277.6zM92.8 413.3H98.6V417.1H92.8zM242.9 413.3H248.7V417.1H242.9zM92.8 409.5H98.6V413.3H92.8zM104.3 409.5H110.1V413.3H104.3zM92.8 405.7H98.6V409.5H92.8zM104.3 405.7H115.9V409.5H104.3zM121.7 405.7H127.4V409.5H121.7zM115.9 401.9H133.2V405.7H115.9zM121.7 398.1H133.2V401.9H121.7zM133.2 390.5H150.5V394.3H133.2zM214.1 390.5H225.6V394.3H214.1zM133.2 386.7H139V390.5H133.2zM150.5 386.7H156.3V390.5H150.5zM214.1 386.7H219.8V390.5H214.1zM225.6 386.7H231.4V390.5H225.6zM139 382.9H144.8V386.7H139zM150.5 382.9H156.3V386.7H150.5zM202.5 382.9H208.3V386.7H202.5zM139 379.1H144.8V382.9H139zM156.3 379.1H162.1V382.9H156.3zM196.7 379.1H214.1V382.9H196.7zM156.3 375.3H167.8V379.1H156.3zM191 375.3H202.5V379.1H191zM162.1 371.5H167.8V375.3H162.1zM173.6 371.5H179.4V375.3H173.6zM185.2 371.5H191V375.3H185.2zM162.1 367.7H167.8V371.5H162.1zM173.6 367.7H179.4V371.5H173.6zM185.2 367.7H191V371.5H185.2zM162.1 363.9H179.4V367.7H162.1zM191 363.9H196.7V367.7H191zM173.6 360.1H191V363.9H173.6zM173.6 356.3H185.2V360.1H173.6zM231.4 299.3H237.2V303.1H231.4zM231.4 295.5H237.2V299.3H231.4zM231.4 284.1H237.2V287.9H231.4z"/><path fill="#a4f99f" d="M260.2 436.1H266V439.9H260.2zM254.5 428.5H260.2V432.3H254.5zM271.8 428.5H277.6V432.3H271.8zM242.9 424.7H248.7V428.5H242.9zM75.5 420.9H87V424.7H75.5zM242.9 420.9H248.7V424.7H242.9zM271.8 420.9H277.6V424.7H271.8zM81.2 417.1H98.6V420.9H81.2zM87 413.3H92.8V417.1H87zM104.3 413.3H115.9V417.1H104.3zM98.6 409.5H104.3V413.3H98.6zM110.1 409.5H121.7V413.3H110.1zM127.4 409.5H133.2V413.3H127.4zM115.9 405.7H121.7V409.5H115.9zM127.4 405.7H133.2V409.5H127.4zM219.8 401.9H225.6V405.7H219.8zM133.2 398.1H139V401.9H133.2zM214.1 398.1H231.4V401.9H214.1zM133.2 394.3H139V398.1H133.2zM144.8 394.3H150.5V398.1H144.8zM219.8 394.3H225.6V398.1H219.8zM150.5 390.5H156.3V394.3H150.5zM208.3 390.5H214.1V394.3H208.3zM225.6 390.5H231.4V394.3H225.6zM289.1 390.5H294.9V394.3H289.1zM139 386.7H144.8V390.5H139zM167.8 386.7H173.6V390.5H167.8zM196.7 386.7H214.1V390.5H196.7zM156.3 382.9H162.1V386.7H156.3zM185.2 382.9H191V386.7H185.2zM196.7 382.9H202.5V386.7H196.7zM167.8 379.1H173.6V382.9H167.8zM191 379.1H196.7V382.9H191zM237.2 379.1H242.9V382.9H237.2zM167.8 375.3H191V379.1H167.8zM237.2 375.3H242.9V379.1H237.2zM179.4 371.5H185.2V375.3H179.4zM179.4 367.7H185.2V371.5H179.4zM179.4 363.9H185.2V367.7H179.4zM231.4 310.7H237.2V314.5H231.4zM231.4 306.9H237.2V310.7H231.4zM231.4 303.1H237.2V306.9H231.4z"/><path fill="#adf599" d="M63.9 439.9H69.7V443.7H63.9zM248.7 436.1H254.5V439.9H248.7zM271.8 432.3H277.6V436.1H271.8zM283.4 432.3H289.1V436.1H283.4zM266 428.5H271.8V432.3H266zM69.7 424.7H75.5V428.5H69.7zM81.2 424.7H87V428.5H81.2zM248.7 424.7H254.5V428.5H248.7zM92.8 420.9H98.6V424.7H92.8zM98.6 417.1H104.3V420.9H98.6zM110.1 417.1H121.7V420.9H110.1zM98.6 413.3H104.3V417.1H98.6zM115.9 413.3H133.2V417.1H115.9zM289.1 413.3H294.9V417.1H289.1zM121.7 409.5H127.4V413.3H121.7zM289.1 409.5H294.9V413.3H289.1zM133.2 401.9H139V405.7H133.2zM208.3 401.9H219.8V405.7H208.3zM225.6 401.9H231.4V405.7H225.6zM139 398.1H150.5V401.9H139zM202.5 398.1H214.1V401.9H202.5zM139 394.3H144.8V398.1H139zM150.5 394.3H156.3V398.1H150.5zM196.7 394.3H219.8V398.1H196.7zM225.6 394.3H231.4V398.1H225.6zM167.8 390.5H173.6V394.3H167.8zM191 390.5H208.3V394.3H191zM156.3 386.7H167.8V390.5H156.3zM185.2 386.7H196.7V390.5H185.2zM167.8 382.9H173.6V386.7H167.8zM179.4 382.9H185.2V386.7H179.4zM191 382.9H196.7V386.7H191zM237.2 382.9H242.9V386.7H237.2zM162.1 379.1H167.8V382.9H162.1zM173.6 379.1H191V382.9H173.6zM231.4 333.5H237.2V337.3H231.4zM231.4 329.7H237.2V333.5H231.4zM231.4 325.9H237.2V329.7H231.4zM231.4 322.1H237.2V325.9H231.4zM231.4 318.3H237.2V322.1H231.4zM231.4 314.5H237.2V318.3H231.4z"/><path fill="#b6f194" d="M277.6 436.1H283.4V439.9H277.6zM69.7 428.5H75.5V432.3H69.7zM75.5 424.7H81.2V428.5H75.5zM87 424.7H92.8V428.5H87zM87 420.9H92.8V424.7H87zM104.3 420.9H115.9V424.7H104.3zM104.3 417.1H110.1V420.9H104.3zM121.7 417.1H133.2V420.9H121.7zM219.8 413.3H225.6V417.1H219.8zM133.2 409.5H139V413.3H133.2zM214.1 409.5H225.6V413.3H214.1zM133.2 405.7H150.5V409.5H133.2zM208.3 405.7H214.1V409.5H208.3zM219.8 405.7H231.4V409.5H219.8zM144.8 401.9H156.3V405.7H144.8zM202.5 401.9H208.3V405.7H202.5zM150.5 398.1H162.1V401.9H150.5zM167.8 398.1H173.6V401.9H167.8zM237.2 398.1H242.9V401.9H237.2zM156.3 394.3H162.1V398.1H156.3zM191 394.3H196.7V398.1H191zM156.3 390.5H167.8V394.3H156.3zM179.4 390.5H185.2V394.3H179.4zM237.2 390.5H242.9V394.3H237.2zM173.6 386.7H179.4V390.5H173.6zM237.2 386.7H242.9V390.5H237.2zM162.1 382.9H167.8V386.7H162.1zM173.6 382.9H179.4V386.7H173.6zM231.4 341.1H237.2V344.9H231.4zM231.4 337.3H237.2V341.1H231.4z"/><path fill="#bfec8e" d="M254.5 439.9H260.2V443.7H254.5zM277.6 439.9H283.4V443.7H277.6zM242.9 432.3H248.7V436.1H242.9zM260.2 432.3H271.8V436.1H260.2zM75.5 428.5H81.2V432.3H75.5zM242.9 428.5H248.7V432.3H242.9zM115.9 424.7H121.7V428.5H115.9zM289.1 424.7H294.9V428.5H289.1zM98.6 420.9H104.3V424.7H98.6zM115.9 420.9H133.2V424.7H115.9zM289.1 420.9H294.9V424.7H289.1zM219.8 417.1H225.6V420.9H219.8zM133.2 413.3H139V417.1H133.2zM144.8 413.3H150.5V417.1H144.8zM214.1 413.3H219.8V417.1H214.1zM144.8 409.5H156.3V413.3H144.8zM225.6 409.5H231.4V413.3H225.6zM150.5 405.7H162.1V409.5H150.5zM214.1 405.7H219.8V409.5H214.1zM139 401.9H144.8V405.7H139zM156.3 401.9H162.1V405.7H156.3zM191 401.9H202.5V405.7H191zM237.2 401.9H242.9V405.7H237.2zM162.1 398.1H167.8V401.9H162.1zM185.2 398.1H202.5V401.9H185.2zM162.1 394.3H179.4V398.1H162.1zM185.2 394.3H191V398.1H185.2zM237.2 394.3H242.9V398.1H237.2zM173.6 390.5H179.4V394.3H173.6zM185.2 390.5H191V394.3H185.2zM179.4 386.7H185.2V390.5H179.4zM231.4 344.9H237.2V348.7H231.4z"/><path fill="#c8e688" d="M271.8 439.9H277.6V443.7H271.8zM283.4 439.9H289.1V443.7H283.4zM266 436.1H271.8V439.9H266zM69.7 432.3H75.5V436.1H69.7zM81.2 428.5H92.8V432.3H81.2zM92.8 424.7H98.6V428.5H92.8zM104.3 424.7H115.9V428.5H104.3zM133.2 417.1H139V420.9H133.2zM208.3 417.1H214.1V420.9H208.3zM208.3 413.3H214.1V417.1H208.3zM225.6 413.3H231.4V417.1H225.6zM139 409.5H144.8V413.3H139zM156.3 409.5H162.1V413.3H156.3zM196.7 409.5H214.1V413.3H196.7zM196.7 405.7H208.3V409.5H196.7zM162.1 401.9H173.6V405.7H162.1zM185.2 401.9H191V405.7H185.2zM173.6 398.1H185.2V401.9H173.6zM179.4 394.3H185.2V398.1H179.4zM231.4 352.5H237.2V356.3H231.4zM231.4 348.7H237.2V352.5H231.4z"/><path fill="#d1df82" d="M242.9 439.9H254.5V443.7H242.9zM242.9 436.1H248.7V439.9H242.9zM75.5 432.3H87V436.1H75.5zM92.8 428.5H98.6V432.3H92.8zM104.3 428.5H121.7V432.3H104.3zM98.6 424.7H104.3V428.5H98.6zM121.7 424.7H133.2V428.5H121.7zM133.2 420.9H139V424.7H133.2zM219.8 420.9H225.6V424.7H219.8zM139 417.1H150.5V420.9H139zM202.5 417.1H208.3V420.9H202.5zM214.1 417.1H219.8V420.9H214.1zM225.6 417.1H231.4V420.9H225.6zM139 413.3H144.8V417.1H139zM150.5 413.3H162.1V417.1H150.5zM196.7 413.3H208.3V417.1H196.7zM191 409.5H196.7V413.3H191zM237.2 409.5H242.9V413.3H237.2zM162.1 405.7H179.4V409.5H162.1zM191 405.7H196.7V409.5H191zM237.2 405.7H242.9V409.5H237.2zM173.6 401.9H185.2V405.7H173.6zM231.4 360.1H237.2V363.9H231.4zM231.4 356.3H237.2V360.1H231.4z"/><path fill="#dbd87b" d="M69.7 436.1H75.5V439.9H69.7zM87 432.3H92.8V436.1H87zM98.6 428.5H104.3V432.3H98.6zM121.7 428.5H127.4V432.3H121.7zM289.1 428.5H294.9V432.3H289.1zM133.2 424.7H139V428.5H133.2zM139 420.9H156.3V424.7H139zM208.3 420.9H214.1V424.7H208.3zM150.5 417.1H156.3V420.9H150.5zM167.8 417.1H173.6V420.9H167.8zM196.7 417.1H202.5V420.9H196.7zM289.1 417.1H294.9V420.9H289.1zM167.8 413.3H173.6V417.1H167.8zM185.2 413.3H191V417.1H185.2zM237.2 413.3H242.9V417.1H237.2zM162.1 409.5H173.6V413.3H162.1zM179.4 409.5H191V413.3H179.4zM179.4 405.7H191V409.5H179.4zM231.4 363.9H237.2V367.7H231.4z"/><path fill="#e4d075" d="M92.8 432.3H98.6V436.1H92.8zM110.1 432.3H121.7V436.1H110.1zM127.4 428.5H139V432.3H127.4zM219.8 424.7H231.4V428.5H219.8zM214.1 420.9H219.8V424.7H214.1zM225.6 420.9H231.4V424.7H225.6zM156.3 417.1H162.1V420.9H156.3zM185.2 417.1H191V420.9H185.2zM237.2 417.1H242.9V420.9H237.2zM162.1 413.3H167.8V417.1H162.1zM191 413.3H196.7V417.1H191zM173.6 409.5H179.4V413.3H173.6zM231.4 371.5H237.2V375.3H231.4zM231.4 367.7H237.2V371.5H231.4z"/><path fill="#edc76f" d="M69.7 439.9H75.5V443.7H69.7zM75.5 436.1H92.8V439.9H75.5zM98.6 432.3H110.1V436.1H98.6zM289.1 432.3H294.9V436.1H289.1zM219.8 428.5H225.6V432.3H219.8zM144.8 424.7H156.3V428.5H144.8zM202.5 424.7H219.8V428.5H202.5zM156.3 420.9H162.1V424.7H156.3zM196.7 420.9H208.3V424.7H196.7zM162.1 417.1H167.8V420.9H162.1zM173.6 417.1H179.4V420.9H173.6zM191 417.1H196.7V420.9H191zM173.6 413.3H185.2V417.1H173.6zM231.4 375.3H237.2V379.1H231.4z"/><path fill="#f6be68" d="M75.5 439.9H87V443.7H75.5zM92.8 436.1H98.6V439.9H92.8zM110.1 436.1H115.9V439.9H110.1zM121.7 432.3H133.2V436.1H121.7zM144.8 428.5H156.3V432.3H144.8zM208.3 428.5H214.1V432.3H208.3zM225.6 428.5H231.4V432.3H225.6zM139 424.7H144.8V428.5H139zM156.3 424.7H162.1V428.5H156.3zM167.8 424.7H173.6V428.5H167.8zM191 424.7H202.5V428.5H191zM162.1 420.9H179.4V424.7H162.1zM185.2 420.9H196.7V424.7H185.2zM237.2 420.9H242.9V424.7H237.2zM179.4 417.1H185.2V420.9H179.4zM231.4 379.1H237.2V382.9H231.4z"/><path fill="#ffb462" d="M289.1 439.9H294.9V443.7H289.1zM104.3 436.1H110.1V439.9H104.3zM115.9 436.1H121.7V439.9H115.9zM289.1 436.1H294.9V439.9H289.1zM133.2 432.3H139V436.1H133.2zM225.6 432.3H231.4V436.1H225.6zM139 428.5H144.8V432.3H139zM156.3 428.5H162.1V432.3H156.3zM202.5 428.5H208.3V432.3H202.5zM214.1 428.5H219.8V432.3H214.1zM237.2 424.7H242.9V428.5H237.2zM179.4 420.9H185.2V424.7H179.4zM231.4 386.7H237.2V390.5H231.4zM231.4 382.9H237.2V386.7H231.4z"/><path fill="#ffaa5b" d="M87 439.9H92.8V443.7H87zM104.3 439.9H115.9V443.7H104.3zM98.6 436.1H104.3V439.9H98.6zM139 432.3H144.8V436.1H139zM150.5 432.3H156.3V436.1H150.5zM214.1 432.3H225.6V436.1H214.1zM167.8 428.5H173.6V432.3H167.8zM191 428.5H202.5V432.3H191zM162.1 424.7H167.8V428.5H162.1zM173.6 424.7H191V428.5H173.6zM231.4 390.5H237.2V394.3H231.4z"/><path fill="#ff9f54" d="M92.8 439.9H98.6V443.7H92.8zM115.9 439.9H121.7V443.7H115.9zM127.4 439.9H133.2V443.7H127.4zM121.7 436.1H133.2V439.9H121.7zM144.8 432.3H150.5V436.1H144.8zM156.3 432.3H162.1V436.1H156.3zM208.3 432.3H214.1V436.1H208.3zM162.1 428.5H167.8V432.3H162.1zM173.6 428.5H191V432.3H173.6zM231.4 394.3H237.2V398.1H231.4z"/><path fill="#ff944d" d="M98.6 439.9H104.3V443.7H98.6zM121.7 439.9H127.4V443.7H121.7zM133.2 436.1H139V439.9H133.2zM208.3 436.1H231.4V439.9H208.3zM167.8 432.3H173.6V436.1H167.8zM196.7 432.3H208.3V436.1H196.7zM237.2 428.5H242.9V432.3H237.2zM231.4 398.1H237.2V401.9H231.4z"/><path fill="#ff8847" d="M219.8 439.9H225.6V443.7H219.8zM139 436.1H156.3V439.9H139zM162.1 432.3H167.8V436.1H162.1zM185.2 432.3H196.7V436.1H185.2zM231.4 401.9H237.2V405.7H231.4z"/><path fill="#ff7b40" d="M133.2 439.9H139V443.7H133.2zM225.6 439.9H231.4V443.7H225.6zM156.3 436.1H162.1V439.9H156.3zM196.7 436.1H208.3V439.9H196.7zM173.6 432.3H185.2V436.1H173.6zM237.2 432.3H242.9V436.1H237.2z"/><path fill="#ff6f39" d="M144.8 439.9H156.3V443.7H144.8zM208.3 439.9H219.8V443.7H208.3zM167.8 436.1H173.6V439.9H167.8zM191 436.1H196.7V439.9H191zM237.2 436.1H242.9V439.9H237.2zM231.4 409.5H237.2V413.3H231.4zM231.4 405.7H237.2V409.5H231.4z"/><path fill="#ff6232" d="M139 439.9H144.8V443.7H139zM156.3 439.9H162.1V443.7H156.3zM167.8 439.9H173.6V443.7H167.8zM191 439.9H208.3V443.7H191zM162.1 436.1H167.8V439.9H162.1zM179.4 436.1H191V439.9H179.4zM231.4 413.3H237.2V417.1H231.4z"/><path fill="#ff542b" d="M162.1 439.9H167.8V443.7H162.1zM185.2 439.9H191V443.7H185.2zM173.6 436.1H179.4V439.9H173.6z"/><path fill="#ff4724" d="M173.6 439.9H185.2V443.7H173.6zM237.2 439.9H242.9V443.7H237.2zM231.4 417.1H237.2V420.9H231.4z"/><path fill="#ff391d" d="M231.4 420.9H237.2V424.7H231.4z"/><path fill="#ff2b15" d="M231.4 424.7H237.2V428.5H231.4z"/><path fill="#ff1d0e" d="M231.4 428.5H237.2V432.3H231.4z"/><path fill="#ff0e07" d="M231.4 432.3H237.2V436.1H231.4z"/><path fill="#ff0000" d="M231.4 439.9H237.2V443.7H231.4zM231.4 436.1H237.2V439.9H231.4z"/></g>
<g clip-path="url(#c20)" shape-rendering="crispEdges"><path fill="#642bfe" d="M92.8 595.1H98.6V602H92.8z"/><path fill="#4954fb" d="M208.3 595.1H214.1V602H208.3z"/><path fill="#2488f5" d="M329.6 609H335.3V615.9H329.6z"/><path fill="#1b94f3" d="M104.3 595.1H115.9V602H104.3zM323.8 560.5H329.6V567.4H323.8zM306.4 553.6H312.2V560.5H306.4zM312.2 532.8H318V539.7H312.2zM323.8 532.8H329.6V539.7H323.8zM294.9 477.4H300.7V484.3H294.9zM300.7 456.6H306.4V463.5H300.7zM283.4 449.7H289.1V456.6H283.4zM283.4 442.8H289.1V449.7H283.4z"/><path fill="#129ff1" d="M306.4 539.7H312.2V546.6H306.4zM318 539.7H323.8V546.6H318zM329.6 532.8H335.3V539.7H329.6zM312.2 505.1H318V512H312.2zM294.9 491.2H300.7V498.2H294.9zM318 470.5H323.8V477.4H318zM277.6 463.5H289.1V470.5H277.6zM277.6 456.6H289.1V463.5H277.6zM248.7 442.8H254.5V449.7H248.7z"/><path fill="#09aaee" d="M318 553.6H323.8V560.5H318zM306.4 546.6H312.2V553.6H306.4zM306.4 532.8H312.2V539.7H306.4zM312.2 525.9H318V532.8H312.2zM306.4 518.9H312.2V525.9H306.4zM312.2 498.2H318V505.1H312.2zM294.9 484.3H300.7V491.2H294.9zM248.7 456.6H254.5V463.5H248.7zM242.9 442.8H248.7V449.7H242.9zM271.8 442.8H277.6V449.7H271.8z"/><path fill="#00b4ec" d="M318 546.6H329.6V553.6H318zM329.6 539.7H335.3V546.6H329.6zM306.4 525.9H312.2V532.8H306.4zM323.8 512H329.6V518.9H323.8zM254.5 456.6H260.2V463.5H254.5zM329.6 456.6H335.3V463.5H329.6zM242.9 449.7H254.5V456.6H242.9zM266 442.8H271.8V449.7H266z"/><path fill="#09bee9" d="M115.9 595.1H127.4V602H115.9zM283.4 470.5H289.1V477.4H283.4zM271.8 456.6H277.6V463.5H271.8z"/><path fill="#12c7e6" d="M214.1 595.1H219.8V602H214.1zM341.1 463.5H346.9V470.5H341.1zM242.9 456.6H248.7V463.5H242.9zM260.2 456.6H266V463.5H260.2z"/><path fill="#1bd0e3" d="M300.7 512H306.4V518.9H300.7zM312.2 477.4H318V484.3H312.2zM277.6 470.5H283.4V477.4H277.6zM248.7 463.5H254.5V470.5H248.7zM300.7 449.7H306.4V456.6H300.7zM329.6 442.8H335.3V449.7H329.6z"/><path fill="#24d8df" d="M248.7 470.5H254.5V477.4H248.7zM242.9 463.5H248.7V470.5H242.9zM266 456.6H271.8V463.5H266zM289.1 456.6H294.9V463.5H289.1zM341.1 456.6H346.9V463.5H341.1z"/><path fill="#2edfdc" d="M306.4 567.4H312.2V574.3H306.4zM318 567.4H323.8V574.3H318zM254.5 463.5H260.2V470.5H254.5zM266 463.5H277.6V470.5H266z"/><path fill="#37e6d8" d="M277.6 602H283.4V609H277.6zM127.4 595.1H139V602H127.4zM318 574.3H323.8V581.3H318zM329.6 574.3H335.3V581.3H329.6zM306.4 560.5H312.2V567.4H306.4zM312.2 518.9H318V525.9H312.2zM283.4 484.3H289.1V491.2H283.4zM283.4 477.4H289.1V484.3H283.4zM341.1 477.4H346.9V484.3H341.1zM260.2 470.5H266V477.4H260.2zM260.2 463.5H266V470.5H260.2zM63.9 449.7H69.7V456.6H63.9zM63.9 442.8H69.7V449.7H63.9z"/><path fill="#40ecd4" d="M271.8 602H277.6V609H271.8zM329.6 602H335.3V609H329.6zM329.6 595.1H335.3V602H329.6zM323.8 588.2H329.6V595.1H323.8zM335.3 588.2H341.1V595.1H335.3zM318 581.3H323.8V588.2H318zM329.6 581.3H335.3V588.2H329.6zM323.8 567.4H329.6V574.3H323.8zM329.6 560.5H335.3V567.4H329.6zM294.9 518.9H300.7V525.9H294.9zM294.9 512H300.7V518.9H294.9zM312.2 512H318V518.9H312.2zM294.9 505.1H300.7V512H294.9zM277.6 484.3H283.4V491.2H277.6zM63.9 470.5H69.7V477.4H63.9zM63.9 463.5H69.7V470.5H63.9zM289.1 463.5H294.9V470.5H289.1zM63.9 456.6H69.7V463.5H63.9z"/><path fill="#49f1d0" d="M283.4 602H289.1V609H283.4zM219.8 595.1H225.6V602H219.8zM323.8 595.1H329.6V602H323.8zM335.3 595.1H341.1V602H335.3zM63.9 588.2H69.7V595.1H63.9zM318 560.5H323.8V567.4H318zM335.3 553.6H341.1V560.5H335.3zM294.9 498.2H300.7V505.1H294.9zM341.1 484.3H346.9V491.2H341.1zM63.9 477.4H69.7V484.3H63.9zM248.7 477.4H254.5V484.3H248.7zM277.6 477.4H283.4V484.3H277.6zM242.9 470.5H248.7V477.4H242.9z"/><path fill="#52f5cc" d="M335.3 609H341.1V615.9H335.3zM300.7 602H306.4V609H300.7zM323.8 602H329.6V609H323.8zM335.3 602H341.1V609H335.3zM300.7 595.1H306.4V602H300.7zM329.6 588.2H335.3V595.1H329.6zM323.8 581.3H329.6V588.2H323.8zM323.8 574.3H329.6V581.3H323.8zM335.3 574.3H341.1V581.3H335.3zM300.7 567.4H306.4V574.3H300.7zM329.6 567.4H341.1V574.3H329.6zM329.6 553.6H335.3V560.5H329.6zM329.6 546.6H335.3V553.6H329.6zM283.4 498.2H289.1V505.1H283.4zM277.6 491.2H283.4V498.2H277.6zM69.7 442.8H75.5V449.7H69.7z"/><path fill="#5bf9c7" d="M225.6 609H231.4V615.9H225.6zM248.7 609H254.5V615.9H248.7zM300.7 609H306.4V615.9H300.7zM306.4 602H312.2V609H306.4zM318 602H323.8V609H318zM139 595.1H150.5V602H139zM162.1 595.1H167.8V602H162.1zM312.2 595.1H318V602H312.2zM294.9 588.2H312.2V595.1H294.9zM318 588.2H323.8V595.1H318zM294.9 581.3H300.7V588.2H294.9zM335.3 581.3H341.1V588.2H335.3zM312.2 574.3H318V581.3H312.2zM294.9 567.4H300.7V574.3H294.9zM312.2 560.5H318V567.4H312.2zM335.3 560.5H341.1V567.4H335.3zM335.3 546.6H346.9V553.6H335.3zM294.9 539.7H306.4V546.6H294.9zM312.2 539.7H318V546.6H312.2zM341.1 539.7H346.9V546.6H341.1zM341.1 532.8H346.9V539.7H341.1zM294.9 525.9H300.7V532.8H294.9zM277.6 498.2H283.4V505.1H277.6zM341.1 498.2H346.9V505.1H341.1zM283.4 491.2H289.1V498.2H283.4zM63.9 484.3H69.7V491.2H63.9zM248.7 484.3H254.5V491.2H248.7zM254.5 477.4H260.2V484.3H254.5zM266 470.5H271.8V477.4H266zM75.5 442.8H81.2V449.7H75.5z"/><path fill="#64fbc3" d="M231.4 609H237.2V615.9H231.4zM254.5 609H260.2V615.9H254.5zM271.8 609H277.6V615.9H271.8zM294.9 609H300.7V615.9H294.9zM312.2 602H318V609H312.2zM150.5 595.1H162.1V602H150.5zM167.8 595.1H179.4V602H167.8zM306.4 595.1H312.2V602H306.4zM69.7 588.2H75.5V595.1H69.7zM300.7 581.3H306.4V588.2H300.7zM300.7 574.3H306.4V581.3H300.7zM312.2 567.4H318V574.3H312.2zM294.9 560.5H300.7V567.4H294.9zM300.7 553.6H306.4V560.5H300.7zM312.2 553.6H318V560.5H312.2zM300.7 546.6H306.4V553.6H300.7zM312.2 546.6H318V553.6H312.2zM294.9 532.8H306.4V539.7H294.9zM300.7 525.9H306.4V532.8H300.7zM277.6 512H283.4V518.9H277.6zM341.1 512H346.9V518.9H341.1zM277.6 505.1H283.4V512H277.6zM63.9 491.2H69.7V498.2H63.9zM254.5 484.3H260.2V491.2H254.5zM260.2 477.4H271.8V484.3H260.2zM289.1 470.5H294.9V477.4H289.1zM69.7 456.6H75.5V463.5H69.7zM69.7 449.7H81.2V456.6H69.7zM81.2 442.8H98.6V449.7H81.2z"/><path fill="#6dfdbe" d="M260.2 609H266V615.9H260.2zM294.9 602H300.7V609H294.9zM179.4 595.1H185.2V602H179.4zM294.9 595.1H300.7V602H294.9zM318 595.1H323.8V602H318zM75.5 588.2H81.2V595.1H75.5zM312.2 588.2H318V595.1H312.2zM306.4 581.3H312.2V588.2H306.4zM294.9 574.3H300.7V581.3H294.9zM306.4 574.3H312.2V581.3H306.4zM300.7 560.5H306.4V567.4H300.7zM294.9 553.6H300.7V560.5H294.9zM341.1 553.6H346.9V560.5H341.1zM294.9 546.6H300.7V553.6H294.9zM341.1 525.9H346.9V532.8H341.1zM341.1 491.2H346.9V498.2H341.1zM242.9 477.4H248.7V484.3H242.9zM271.8 477.4H277.6V484.3H271.8zM75.5 456.6H87V463.5H75.5zM81.2 449.7H98.6V456.6H81.2zM110.1 449.7H115.9V456.6H110.1zM98.6 442.8H121.7V449.7H98.6z"/><path fill="#76ffb9" d="M266 609H271.8V615.9H266zM341.1 609H346.9V615.9H341.1zM81.2 588.2H92.8V595.1H81.2zM312.2 581.3H318V588.2H312.2zM341.1 518.9H346.9V525.9H341.1zM283.4 512H289.1V518.9H283.4zM248.7 505.1H254.5V512H248.7zM283.4 505.1H289.1V512H283.4zM341.1 505.1H346.9V512H341.1zM63.9 498.2H69.7V505.1H63.9zM248.7 491.2H254.5V498.2H248.7zM271.8 491.2H277.6V498.2H271.8zM242.9 484.3H248.7V491.2H242.9zM69.7 470.5H75.5V477.4H69.7zM69.7 463.5H81.2V470.5H69.7zM87 456.6H92.8V463.5H87zM98.6 449.7H110.1V456.6H98.6zM121.7 442.8H133.2V449.7H121.7z"/><path fill="#80ffb4" d="M237.2 609H248.7V615.9H237.2zM185.2 595.1H191V602H185.2zM92.8 588.2H104.3V595.1H92.8zM110.1 588.2H115.9V595.1H110.1zM283.4 518.9H289.1V525.9H283.4zM63.9 505.1H69.7V512H63.9zM248.7 498.2H254.5V505.1H248.7zM260.2 498.2H266V505.1H260.2zM266 484.3H277.6V491.2H266zM289.1 484.3H294.9V491.2H289.1zM81.2 463.5H92.8V470.5H81.2zM92.8 456.6H98.6V463.5H92.8zM104.3 456.6H121.7V463.5H104.3zM115.9 449.7H133.2V456.6H115.9zM133.2 442.8H139V449.7H133.2zM219.8 442.8H225.6V449.7H219.8z"/><path fill="#89ffaf" d="M289.1 609H294.9V615.9H289.1zM341.1 602H346.9V609H341.1zM104.3 588.2H110.1V595.1H104.3zM115.9 588.2H121.7V595.1H115.9zM277.6 525.9H283.4V532.8H277.6zM277.6 518.9H283.4V525.9H277.6zM63.9 512H69.7V518.9H63.9zM254.5 505.1H260.2V512H254.5zM254.5 498.2H260.2V505.1H254.5zM266 498.2H271.8V505.1H266zM242.9 491.2H248.7V498.2H242.9zM254.5 491.2H260.2V498.2H254.5zM260.2 484.3H266V491.2H260.2zM69.7 477.4H75.5V484.3H69.7zM289.1 477.4H294.9V484.3H289.1zM75.5 470.5H92.8V477.4H75.5zM92.8 463.5H98.6V470.5H92.8zM110.1 463.5H115.9V470.5H110.1zM98.6 456.6H104.3V463.5H98.6zM121.7 456.6H133.2V463.5H121.7zM139 442.8H150.5V449.7H139zM208.3 442.8H214.1V449.7H208.3zM225.6 442.8H231.4V449.7H225.6z"/><path fill="#92fdaa" d="M121.7 588.2H127.4V595.1H121.7zM341.1 560.5H346.9V567.4H341.1zM277.6 532.8H283.4V539.7H277.6zM283.4 525.9H289.1V532.8H283.4zM248.7 512H254.5V518.9H248.7zM242.9 498.2H248.7V505.1H242.9zM271.8 498.2H277.6V505.1H271.8zM260.2 491.2H266V498.2H260.2zM69.7 484.3H75.5V491.2H69.7zM75.5 477.4H81.2V484.3H75.5zM92.8 470.5H98.6V477.4H92.8zM104.3 470.5H115.9V477.4H104.3zM98.6 463.5H110.1V470.5H98.6zM115.9 463.5H133.2V470.5H115.9zM133.2 456.6H139V463.5H133.2zM219.8 456.6H225.6V463.5H219.8zM133.2 449.7H139V456.6H133.2zM144.8 449.7H150.5V456.6H144.8zM208.3 449.7H231.4V456.6H208.3zM150.5 442.8H156.3V449.7H150.5zM196.7 442.8H208.3V449.7H196.7zM214.1 442.8H219.8V449.7H214.1z"/><path fill="#9bfba5" d="M127.4 588.2H133.2V595.1H127.4zM219.8 588.2H225.6V595.1H219.8zM341.1 567.4H346.9V574.3H341.1zM283.4 539.7H289.1V546.6H283.4zM63.9 518.9H69.7V525.9H63.9zM254.5 518.9H260.2V525.9H254.5zM260.2 512H266V518.9H260.2zM242.9 505.1H248.7V512H242.9zM266 491.2H271.8V498.2H266zM75.5 484.3H81.2V491.2H75.5zM81.2 477.4H98.6V484.3H81.2zM110.1 477.4H115.9V484.3H110.1zM98.6 470.5H104.3V477.4H98.6zM115.9 470.5H133.2V477.4H115.9zM219.8 463.5H225.6V470.5H219.8zM139 456.6H150.5V463.5H139zM214.1 456.6H219.8V463.5H214.1zM225.6 456.6H231.4V463.5H225.6zM237.2 456.6H242.9V463.5H237.2zM139 449.7H144.8V456.6H139zM150.5 449.7H162.1V456.6H150.5zM202.5 449.7H208.3V456.6H202.5zM237.2 449.7H242.9V456.6H237.2zM156.3 442.8H173.6V449.7H156.3zM185.2 442.8H196.7V449.7H185.2zM237.2 442.8H242.9V449.7H237.2z"/><path fill="#a4f99f" d="M225.6 602H231.4V609H225.6zM133.2 588.2H139V595.1H133.2zM277.6 546.6H283.4V553.6H277.6zM248.7 532.8H254.5V539.7H248.7zM283.4 532.8H289.1V539.7H283.4zM63.9 525.9H69.7V532.8H63.9zM254.5 525.9H260.2V532.8H254.5zM254.5 512H260.2V518.9H254.5zM271.8 512H277.6V518.9H271.8zM260.2 505.1H266V512H260.2zM271.8 505.1H277.6V512H271.8zM69.7 491.2H75.5V498.2H69.7zM289.1 491.2H294.9V498.2H289.1zM81.2 484.3H92.8V491.2H81.2zM98.6 477.4H110.1V484.3H98.6zM115.9 477.4H127.4V484.3H115.9zM133.2 470.5H139V477.4H133.2zM237.2 470.5H242.9V477.4H237.2zM133.2 463.5H139V470.5H133.2zM208.3 463.5H214.1V470.5H208.3zM225.6 463.5H231.4V470.5H225.6zM237.2 463.5H242.9V470.5H237.2zM150.5 456.6H156.3V463.5H150.5zM202.5 456.6H214.1V463.5H202.5zM162.1 449.7H173.6V456.6H162.1zM185.2 449.7H202.5V456.6H185.2zM231.4 449.7H237.2V456.6H231.4zM173.6 442.8H179.4V449.7H173.6zM231.4 442.8H237.2V449.7H231.4z"/><path fill="#adf599" d="M208.3 588.2H219.8V595.1H208.3zM63.9 581.3H69.7V588.2H63.9zM277.6 539.7H283.4V546.6H277.6zM242.9 525.9H254.5V532.8H242.9zM242.9 518.9H254.5V525.9H242.9zM289.1 512H294.9V518.9H289.1zM75.5 491.2H87V498.2H75.5zM92.8 484.3H98.6V491.2H92.8zM104.3 484.3H115.9V491.2H104.3zM127.4 477.4H133.2V484.3H127.4zM237.2 477.4H242.9V484.3H237.2zM144.8 470.5H150.5V477.4H144.8zM208.3 470.5H214.1V477.4H208.3zM219.8 470.5H225.6V477.4H219.8zM139 463.5H156.3V470.5H139zM196.7 463.5H208.3V470.5H196.7zM214.1 463.5H219.8V470.5H214.1zM156.3 456.6H162.1V463.5H156.3zM167.8 456.6H173.6V463.5H167.8zM185.2 456.6H202.5V463.5H185.2zM231.4 456.6H237.2V463.5H231.4zM173.6 449.7H185.2V456.6H173.6zM179.4 442.8H185.2V449.7H179.4z"/><path fill="#b6f194" d="M248.7 602H254.5V609H248.7zM277.6 595.1H283.4V602H277.6zM139 588.2H150.5V595.1H139zM202.5 588.2H208.3V595.1H202.5zM283.4 546.6H289.1V553.6H283.4zM254.5 532.8H260.2V539.7H254.5zM271.8 525.9H277.6V532.8H271.8zM260.2 518.9H266V525.9H260.2zM271.8 518.9H277.6V525.9H271.8zM242.9 512H248.7V518.9H242.9zM266 512H271.8V518.9H266zM266 505.1H271.8V512H266zM69.7 498.2H81.2V505.1H69.7zM289.1 498.2H294.9V505.1H289.1zM87 491.2H98.6V498.2H87zM110.1 491.2H115.9V498.2H110.1zM98.6 484.3H104.3V491.2H98.6zM115.9 484.3H133.2V491.2H115.9zM133.2 477.4H139V484.3H133.2zM219.8 477.4H231.4V484.3H219.8zM139 470.5H144.8V477.4H139zM150.5 470.5H156.3V477.4H150.5zM214.1 470.5H219.8V477.4H214.1zM225.6 470.5H231.4V477.4H225.6zM156.3 463.5H162.1V470.5H156.3zM167.8 463.5H173.6V470.5H167.8zM191 463.5H196.7V470.5H191zM231.4 463.5H237.2V470.5H231.4zM162.1 456.6H167.8V463.5H162.1zM173.6 456.6H185.2V463.5H173.6z"/><path fill="#bfec8e" d="M254.5 602H266V609H254.5zM225.6 595.1H231.4V602H225.6zM283.4 595.1H289.1V602H283.4zM150.5 588.2H162.1V595.1H150.5zM277.6 588.2H289.1V595.1H277.6zM283.4 581.3H289.1V588.2H283.4zM63.9 574.3H69.7V581.3H63.9zM277.6 567.4H283.4V574.3H277.6zM283.4 560.5H289.1V567.4H283.4zM277.6 553.6H283.4V560.5H277.6zM248.7 546.6H254.5V553.6H248.7zM248.7 539.7H254.5V546.6H248.7zM63.9 532.8H69.7V539.7H63.9zM242.9 532.8H248.7V539.7H242.9zM260.2 532.8H266V539.7H260.2zM69.7 505.1H75.5V512H69.7zM289.1 505.1H294.9V512H289.1zM81.2 498.2H87V505.1H81.2zM98.6 491.2H110.1V498.2H98.6zM115.9 491.2H121.7V498.2H115.9zM133.2 484.3H139V491.2H133.2zM219.8 484.3H225.6V491.2H219.8zM237.2 484.3H242.9V491.2H237.2zM144.8 477.4H150.5V484.3H144.8zM202.5 477.4H219.8V484.3H202.5zM156.3 470.5H162.1V477.4H156.3zM167.8 470.5H173.6V477.4H167.8zM196.7 470.5H208.3V477.4H196.7zM231.4 470.5H237.2V477.4H231.4zM162.1 463.5H167.8V470.5H162.1zM173.6 463.5H179.4V470.5H173.6zM185.2 463.5H191V470.5H185.2z"/><path fill="#c8e688" d="M242.9 602H248.7V609H242.9zM196.7 588.2H202.5V595.1H196.7zM277.6 581.3H283.4V588.2H277.6zM341.1 581.3H346.9V588.2H341.1zM63.9 560.5H69.7V567.4H63.9zM63.9 553.6H69.7V560.5H63.9zM63.9 539.7H69.7V546.6H63.9zM266 532.8H271.8V539.7H266zM260.2 525.9H266V532.8H260.2zM266 518.9H271.8V525.9H266zM75.5 505.1H87V512H75.5zM87 498.2H98.6V505.1H87zM110.1 498.2H115.9V505.1H110.1zM121.7 491.2H133.2V498.2H121.7zM237.2 491.2H242.9V498.2H237.2zM225.6 484.3H237.2V491.2H225.6zM139 477.4H144.8V484.3H139zM150.5 477.4H162.1V484.3H150.5zM231.4 477.4H237.2V484.3H231.4zM162.1 470.5H167.8V477.4H162.1zM173.6 470.5H179.4V477.4H173.6zM185.2 470.5H196.7V477.4H185.2zM179.4 463.5H185.2V470.5H179.4z"/><path fill="#d1df82" d="M237.2 602H242.9V609H237.2zM266 602H271.8V609H266zM341.1 595.1H346.9V602H341.1zM162.1 588.2H173.6V595.1H162.1zM191 588.2H196.7V595.1H191zM341.1 588.2H346.9V595.1H341.1zM283.4 574.3H289.1V581.3H283.4zM341.1 574.3H346.9V581.3H341.1zM63.9 567.4H69.7V574.3H63.9zM283.4 567.4H289.1V574.3H283.4zM254.5 553.6H260.2V560.5H254.5zM283.4 553.6H289.1V560.5H283.4zM63.9 546.6H69.7V553.6H63.9zM271.8 546.6H277.6V553.6H271.8zM242.9 539.7H248.7V546.6H242.9zM254.5 539.7H266V546.6H254.5zM271.8 532.8H277.6V539.7H271.8zM266 525.9H271.8V532.8H266zM289.1 525.9H294.9V532.8H289.1zM289.1 518.9H294.9V525.9H289.1zM69.7 512H75.5V518.9H69.7zM92.8 505.1H98.6V512H92.8zM98.6 498.2H110.1V505.1H98.6zM115.9 498.2H127.4V505.1H115.9zM237.2 498.2H242.9V505.1H237.2zM133.2 491.2H139V498.2H133.2zM219.8 491.2H225.6V498.2H219.8zM231.4 491.2H237.2V498.2H231.4zM139 484.3H162.1V491.2H139zM202.5 484.3H219.8V491.2H202.5zM162.1 477.4H173.6V484.3H162.1zM191 477.4H202.5V484.3H191zM179.4 470.5H185.2V477.4H179.4z"/><path fill="#dbd87b" d="M231.4 602H237.2V609H231.4zM248.7 595.1H254.5V602H248.7zM185.2 588.2H191V595.1H185.2zM277.6 574.3H283.4V581.3H277.6zM277.6 560.5H283.4V567.4H277.6zM248.7 553.6H254.5V560.5H248.7zM242.9 546.6H248.7V553.6H242.9zM254.5 546.6H260.2V553.6H254.5zM271.8 539.7H277.6V546.6H271.8zM69.7 518.9H75.5V525.9H69.7zM75.5 512H92.8V518.9H75.5zM87 505.1H92.8V512H87zM104.3 505.1H121.7V512H104.3zM237.2 505.1H242.9V512H237.2zM127.4 498.2H133.2V505.1H127.4zM231.4 498.2H237.2V505.1H231.4zM144.8 491.2H156.3V498.2H144.8zM208.3 491.2H219.8V498.2H208.3zM225.6 491.2H231.4V498.2H225.6zM167.8 484.3H173.6V491.2H167.8zM196.7 484.3H202.5V491.2H196.7zM173.6 477.4H191V484.3H173.6z"/><path fill="#e4d075" d="M242.9 595.1H248.7V602H242.9zM254.5 595.1H260.2V602H254.5zM173.6 588.2H185.2V595.1H173.6zM225.6 588.2H231.4V595.1H225.6zM254.5 588.2H260.2V595.1H254.5zM254.5 567.4H260.2V574.3H254.5zM248.7 560.5H254.5V567.4H248.7zM289.1 532.8H294.9V539.7H289.1zM69.7 525.9H75.5V532.8H69.7zM75.5 518.9H81.2V525.9H75.5zM92.8 512H98.6V518.9H92.8zM110.1 512H115.9V518.9H110.1zM98.6 505.1H104.3V512H98.6zM121.7 505.1H133.2V512H121.7zM133.2 498.2H139V505.1H133.2zM208.3 498.2H214.1V505.1H208.3zM219.8 498.2H231.4V505.1H219.8zM139 491.2H144.8V498.2H139zM156.3 491.2H162.1V498.2H156.3zM167.8 491.2H173.6V498.2H167.8zM196.7 491.2H208.3V498.2H196.7zM162.1 484.3H167.8V491.2H162.1zM173.6 484.3H179.4V491.2H173.6zM185.2 484.3H196.7V491.2H185.2z"/><path fill="#edc76f" d="M289.1 602H294.9V609H289.1zM266 595.1H271.8V602H266zM242.9 588.2H248.7V595.1H242.9zM69.7 581.3H75.5V588.2H69.7zM248.7 581.3H266V588.2H248.7zM248.7 574.3H260.2V581.3H248.7zM260.2 567.4H266V574.3H260.2zM271.8 560.5H277.6V567.4H271.8zM260.2 546.6H266V553.6H260.2zM266 539.7H271.8V546.6H266zM69.7 532.8H75.5V539.7H69.7zM81.2 518.9H92.8V525.9H81.2zM98.6 512H110.1V518.9H98.6zM115.9 512H121.7V518.9H115.9zM133.2 505.1H139V512H133.2zM231.4 505.1H237.2V512H231.4zM139 498.2H156.3V505.1H139zM214.1 498.2H219.8V505.1H214.1zM162.1 491.2H167.8V498.2H162.1zM191 491.2H196.7V498.2H191zM179.4 484.3H185.2V491.2H179.4z"/><path fill="#f6be68" d="M237.2 595.1H242.9V602H237.2zM260.2 595.1H266V602H260.2zM248.7 588.2H254.5V595.1H248.7zM260.2 588.2H266V595.1H260.2zM75.5 581.3H87V588.2H75.5zM266 581.3H271.8V588.2H266zM242.9 574.3H248.7V581.3H242.9zM248.7 567.4H254.5V574.3H248.7zM271.8 567.4H277.6V574.3H271.8zM254.5 560.5H260.2V567.4H254.5zM266 560.5H271.8V567.4H266zM242.9 553.6H248.7V560.5H242.9zM260.2 553.6H266V560.5H260.2zM271.8 553.6H277.6V560.5H271.8zM266 546.6H271.8V553.6H266zM289.1 546.6H294.9V553.6H289.1zM289.1 539.7H294.9V546.6H289.1zM75.5 525.9H87V532.8H75.5zM92.8 518.9H121.7V525.9H92.8zM121.7 512H133.2V518.9H121.7zM237.2 512H242.9V518.9H237.2zM139 505.1H150.5V512H139zM208.3 505.1H231.4V512H208.3zM156.3 498.2H162.1V505.1H156.3zM167.8 498.2H173.6V505.1H167.8zM196.7 498.2H208.3V505.1H196.7zM173.6 491.2H191V498.2H173.6z"/><path fill="#ffb462" d="M271.8 595.1H277.6V602H271.8zM271.8 588.2H277.6V595.1H271.8zM87 581.3H92.8V588.2H87zM289.1 581.3H294.9V588.2H289.1zM69.7 574.3H75.5V581.3H69.7zM260.2 574.3H266V581.3H260.2zM271.8 574.3H277.6V581.3H271.8zM266 567.4H271.8V574.3H266zM260.2 560.5H266V567.4H260.2zM69.7 546.6H75.5V553.6H69.7zM69.7 539.7H75.5V546.6H69.7zM75.5 532.8H87V539.7H75.5zM87 525.9H115.9V532.8H87zM121.7 518.9H133.2V525.9H121.7zM237.2 518.9H242.9V525.9H237.2zM133.2 512H139V518.9H133.2zM219.8 512H237.2V518.9H219.8zM150.5 505.1H156.3V512H150.5zM202.5 505.1H208.3V512H202.5zM162.1 498.2H167.8V505.1H162.1zM173.6 498.2H179.4V505.1H173.6zM185.2 498.2H196.7V505.1H185.2z"/><path fill="#ffaa5b" d="M231.4 595.1H237.2V602H231.4zM289.1 588.2H294.9V595.1H289.1zM92.8 581.3H121.7V588.2H92.8zM271.8 581.3H277.6V588.2H271.8zM75.5 574.3H81.2V581.3H75.5zM69.7 567.4H75.5V574.3H69.7zM242.9 567.4H248.7V574.3H242.9zM289.1 567.4H294.9V574.3H289.1zM69.7 560.5H75.5V567.4H69.7zM242.9 560.5H248.7V567.4H242.9zM69.7 553.6H75.5V560.5H69.7zM266 553.6H271.8V560.5H266zM75.5 546.6H81.2V553.6H75.5zM75.5 539.7H92.8V546.6H75.5zM87 532.8H98.6V539.7H87zM110.1 532.8H115.9V539.7H110.1zM115.9 525.9H133.2V532.8H115.9zM133.2 518.9H139V525.9H133.2zM219.8 518.9H225.6V525.9H219.8zM139 512H150.5V518.9H139zM202.5 512H219.8V518.9H202.5zM156.3 505.1H162.1V512H156.3zM167.8 505.1H173.6V512H167.8zM191 505.1H202.5V512H191zM179.4 498.2H185.2V505.1H179.4z"/><path fill="#ff9f54" d="M289.1 595.1H294.9V602H289.1zM266 588.2H271.8V595.1H266zM121.7 581.3H133.2V588.2H121.7zM242.9 581.3H248.7V588.2H242.9zM81.2 574.3H87V581.3H81.2zM75.5 567.4H87V574.3H75.5zM75.5 560.5H87V567.4H75.5zM289.1 560.5H294.9V567.4H289.1zM75.5 553.6H81.2V560.5H75.5zM289.1 553.6H294.9V560.5H289.1zM81.2 546.6H87V553.6H81.2zM92.8 539.7H98.6V546.6H92.8zM104.3 539.7H110.1V546.6H104.3zM98.6 532.8H110.1V539.7H98.6zM115.9 532.8H121.7V539.7H115.9zM127.4 532.8H133.2V539.7H127.4zM139 518.9H144.8V525.9H139zM214.1 518.9H219.8V525.9H214.1zM225.6 518.9H237.2V525.9H225.6zM150.5 512H162.1V518.9H150.5zM191 512H202.5V518.9H191zM162.1 505.1H167.8V512H162.1zM173.6 505.1H191V512H173.6z"/><path fill="#ff944d" d="M87 574.3H121.7V581.3H87zM266 574.3H271.8V581.3H266zM289.1 574.3H294.9V581.3H289.1zM87 567.4H98.6V574.3H87zM87 560.5H98.6V567.4H87zM81.2 553.6H98.6V560.5H81.2zM110.1 553.6H115.9V560.5H110.1zM87 546.6H98.6V553.6H87zM104.3 546.6H115.9V553.6H104.3zM98.6 539.7H104.3V546.6H98.6zM110.1 539.7H127.4V546.6H110.1zM121.7 532.8H127.4V539.7H121.7zM133.2 525.9H139V532.8H133.2zM208.3 525.9H225.6V532.8H208.3zM237.2 525.9H242.9V532.8H237.2zM144.8 518.9H162.1V525.9H144.8zM202.5 518.9H214.1V525.9H202.5zM162.1 512H173.6V518.9H162.1zM185.2 512H191V518.9H185.2z"/><path fill="#ff8847" d="M237.2 588.2H242.9V595.1H237.2zM133.2 581.3H139V588.2H133.2zM208.3 581.3H231.4V588.2H208.3zM121.7 574.3H127.4V581.3H121.7zM104.3 567.4H121.7V574.3H104.3zM104.3 560.5H115.9V567.4H104.3zM104.3 553.6H110.1V560.5H104.3zM98.6 546.6H104.3V553.6H98.6zM115.9 546.6H121.7V553.6H115.9zM127.4 539.7H133.2V546.6H127.4zM133.2 532.8H139V539.7H133.2zM219.8 532.8H225.6V539.7H219.8zM139 525.9H156.3V532.8H139zM225.6 525.9H237.2V532.8H225.6zM162.1 518.9H173.6V525.9H162.1zM185.2 518.9H202.5V525.9H185.2zM173.6 512H185.2V518.9H173.6z"/><path fill="#ff7b40" d="M231.4 588.2H237.2V595.1H231.4zM139 581.3H162.1V588.2H139zM202.5 581.3H208.3V588.2H202.5zM127.4 574.3H139V581.3H127.4zM98.6 567.4H104.3V574.3H98.6zM121.7 567.4H133.2V574.3H121.7zM98.6 560.5H104.3V567.4H98.6zM115.9 560.5H133.2V567.4H115.9zM98.6 553.6H104.3V560.5H98.6zM115.9 553.6H133.2V560.5H115.9zM121.7 546.6H133.2V553.6H121.7zM219.8 546.6H225.6V553.6H219.8zM133.2 539.7H139V546.6H133.2zM219.8 539.7H225.6V546.6H219.8zM139 532.8H156.3V539.7H139zM208.3 532.8H219.8V539.7H208.3zM225.6 532.8H231.4V539.7H225.6zM237.2 532.8H242.9V539.7H237.2zM156.3 525.9H162.1V532.8H156.3zM191 525.9H208.3V532.8H191zM173.6 518.9H185.2V525.9H173.6z"/><path fill="#ff6f39" d="M162.1 581.3H173.6V588.2H162.1zM185.2 581.3H202.5V588.2H185.2zM144.8 574.3H150.5V581.3H144.8zM208.3 574.3H231.4V581.3H208.3zM133.2 567.4H139V574.3H133.2zM219.8 567.4H225.6V574.3H219.8zM133.2 560.5H139V567.4H133.2zM219.8 560.5H225.6V567.4H219.8zM133.2 553.6H139V560.5H133.2zM219.8 553.6H225.6V560.5H219.8zM133.2 546.6H139V553.6H133.2zM144.8 546.6H150.5V553.6H144.8zM208.3 546.6H219.8V553.6H208.3zM225.6 546.6H231.4V553.6H225.6zM139 539.7H150.5V546.6H139zM208.3 539.7H219.8V546.6H208.3zM225.6 539.7H231.4V546.6H225.6zM156.3 532.8H162.1V539.7H156.3zM191 532.8H208.3V539.7H191zM162.1 525.9H179.4V532.8H162.1zM185.2 525.9H191V532.8H185.2z"/><path fill="#ff6232" d="M173.6 581.3H185.2V588.2H173.6zM139 574.3H144.8V581.3H139zM150.5 574.3H156.3V581.3H150.5zM202.5 574.3H208.3V581.3H202.5zM208.3 567.4H219.8V574.3H208.3zM225.6 567.4H231.4V574.3H225.6zM139 560.5H150.5V567.4H139zM208.3 560.5H219.8V567.4H208.3zM225.6 560.5H231.4V567.4H225.6zM208.3 553.6H219.8V560.5H208.3zM225.6 553.6H231.4V560.5H225.6zM139 546.6H144.8V553.6H139zM150.5 546.6H156.3V553.6H150.5zM150.5 539.7H162.1V546.6H150.5zM167.8 539.7H173.6V546.6H167.8zM191 539.7H208.3V546.6H191zM162.1 532.8H173.6V539.7H162.1zM185.2 532.8H191V539.7H185.2zM231.4 532.8H237.2V539.7H231.4zM179.4 525.9H185.2V532.8H179.4z"/><path fill="#ff542b" d="M156.3 574.3H162.1V581.3H156.3zM167.8 574.3H173.6V581.3H167.8zM191 574.3H202.5V581.3H191zM139 567.4H156.3V574.3H139zM196.7 567.4H208.3V574.3H196.7zM150.5 560.5H162.1V567.4H150.5zM202.5 560.5H208.3V567.4H202.5zM139 553.6H156.3V560.5H139zM196.7 553.6H208.3V560.5H196.7zM156.3 546.6H162.1V553.6H156.3zM167.8 546.6H173.6V553.6H167.8zM191 546.6H208.3V553.6H191zM162.1 539.7H167.8V546.6H162.1zM185.2 539.7H191V546.6H185.2zM237.2 539.7H242.9V546.6H237.2zM173.6 532.8H185.2V539.7H173.6z"/><path fill="#ff4724" d="M237.2 581.3H242.9V588.2H237.2zM162.1 574.3H167.8V581.3H162.1zM173.6 574.3H179.4V581.3H173.6zM185.2 574.3H191V581.3H185.2zM156.3 567.4H173.6V574.3H156.3zM185.2 567.4H196.7V574.3H185.2zM167.8 560.5H173.6V567.4H167.8zM191 560.5H202.5V567.4H191zM156.3 553.6H173.6V560.5H156.3zM191 553.6H196.7V560.5H191zM162.1 546.6H167.8V553.6H162.1zM185.2 546.6H191V553.6H185.2zM173.6 539.7H185.2V546.6H173.6zM231.4 539.7H237.2V546.6H231.4z"/><path fill="#ff391d" d="M231.4 581.3H237.2V588.2H231.4zM179.4 574.3H185.2V581.3H179.4zM173.6 567.4H185.2V574.3H173.6zM162.1 560.5H167.8V567.4H162.1zM173.6 560.5H179.4V567.4H173.6zM185.2 560.5H191V567.4H185.2zM173.6 553.6H191V560.5H173.6zM173.6 546.6H185.2V553.6H173.6zM237.2 546.6H242.9V553.6H237.2z"/><path fill="#ff2b15" d="M237.2 574.3H242.9V581.3H237.2zM179.4 560.5H185.2V567.4H179.4z"/><path fill="#ff1d0e" d="M237.2 553.6H242.9V560.5H237.2zM231.4 546.6H237.2V553.6H231.4z"/><path fill="#ff0e07" d="M231.4 574.3H237.2V581.3H231.4zM237.2 567.4H242.9V574.3H237.2zM237.2 560.5H242.9V567.4H237.2z"/><path fill="#ff0000" d="M231.4 567.4H237.2V574.3H231.4zM231.4 560.5H237.2V567.4H231.4zM231.4 553.6H237.2V560.5H231.4z"/></g>
<g clip-path="url(#c30)" shape-rendering="crispEdges"><path fill="#6d1dff" d="M323.8 779.9H329.6V783.6H323.8z"/><path fill="#642bfe" d="M323.8 823.9H329.6V827.6H323.8zM323.8 809.2H329.6V812.9H323.8zM323.8 790.9H329.6V794.6H323.8zM323.8 776.3H329.6V779.9H323.8zM306.4 772.6H312.2V776.3H306.4z"/><path fill="#5b39fd" d="M323.8 812.9H329.6V816.6H323.8zM323.8 805.6H329.6V809.2H323.8zM306.4 798.3H312.2V801.9H306.4zM329.6 779.9H335.3V783.6H329.6zM323.8 703H329.6V706.7H323.8z"/><path fill="#5247fc" d="M306.4 820.2H312.2V823.9H306.4zM323.8 816.6H329.6V820.2H323.8zM318 812.9H323.8V816.6H318zM323.8 798.3H329.6V801.9H323.8zM306.4 790.9H312.2V794.6H306.4zM329.6 790.9H335.3V794.6H329.6zM318 772.6H323.8V776.3H318zM329.6 765.3H335.3V769H329.6zM329.6 761.6H335.3V765.3H329.6zM306.4 725H312.2V728.7H306.4zM323.8 725H329.6V728.7H323.8zM318 688.4H323.8V692.1H318zM306.4 677.4H312.2V681.1H306.4zM306.4 670.1H312.2V673.7H306.4zM318 666.4H323.8V670.1H318zM323.8 662.8H329.6V666.4H323.8z"/><path fill="#4954fb" d="M266 838.5H271.8V842.2H266zM306.4 834.9H312.2V838.5H306.4zM306.4 809.2H312.2V812.9H306.4zM318 801.9H323.8V805.6H318zM323.8 787.3H329.6V790.9H323.8zM329.6 783.6H335.3V787.3H329.6zM306.4 779.9H312.2V783.6H306.4zM323.8 758H329.6V761.6H323.8zM323.8 754.3H329.6V758H323.8zM329.6 750.7H335.3V754.3H329.6zM318 743.3H323.8V747H318zM329.6 743.3H335.3V747H329.6zM323.8 732.3H329.6V736H323.8zM306.4 710.4H312.2V714H306.4zM318 710.4H323.8V714H318zM306.4 699.4H312.2V703H306.4zM323.8 692.1H329.6V695.7H323.8zM318 684.7H323.8V688.4H318zM306.4 673.7H312.2V677.4H306.4zM306.4 666.4H312.2V670.1H306.4zM329.6 662.8H335.3V666.4H329.6z"/><path fill="#4062fa" d="M277.6 838.5H289.1V842.2H277.6zM329.6 831.2H335.3V834.9H329.6zM306.4 827.6H312.2V831.2H306.4zM329.6 827.6H335.3V831.2H329.6zM306.4 801.9H312.2V805.6H306.4zM335.3 801.9H341.1V805.6H335.3zM329.6 798.3H335.3V801.9H329.6zM306.4 787.3H312.2V790.9H306.4zM318 761.6H323.8V765.3H318zM323.8 743.3H329.6V747H323.8zM306.4 732.3H312.2V736H306.4zM306.4 717.7H312.2V721.4H306.4zM329.6 717.7H335.3V721.4H329.6zM318 703H323.8V706.7H318zM329.6 703H335.3V706.7H329.6zM306.4 684.7H312.2V688.4H306.4zM329.6 670.1H335.3V673.7H329.6z"/><path fill="#376ff9" d="M306.4 831.2H312.2V834.9H306.4zM329.6 812.9H335.3V816.6H329.6zM318 794.6H323.8V798.3H318zM306.4 776.3H312.2V779.9H306.4zM329.6 776.3H341.1V779.9H329.6zM329.6 772.6H335.3V776.3H329.6zM335.3 769H341.1V772.6H335.3zM323.8 761.6H329.6V765.3H323.8zM323.8 750.7H329.6V754.3H323.8zM335.3 747H341.1V750.7H335.3zM323.8 739.7H329.6V743.3H323.8zM306.4 728.7H312.2V732.3H306.4zM329.6 728.7H335.3V732.3H329.6zM329.6 714H335.3V717.7H329.6zM323.8 688.4H329.6V692.1H323.8zM329.6 677.4H335.3V681.1H329.6zM318 673.7H323.8V677.4H318zM329.6 673.7H335.3V677.4H329.6zM306.4 659.1H312.2V662.8H306.4z"/><path fill="#2e7bf7" d="M335.3 827.6H341.1V831.2H335.3zM306.4 823.9H312.2V827.6H306.4zM335.3 823.9H341.1V827.6H335.3zM329.6 820.2H335.3V823.9H329.6zM306.4 816.6H312.2V820.2H306.4zM306.4 812.9H312.2V816.6H306.4zM312.2 809.2H318V812.9H312.2zM329.6 809.2H335.3V812.9H329.6zM306.4 805.6H312.2V809.2H306.4zM329.6 801.9H335.3V805.6H329.6zM323.8 794.6H329.6V798.3H323.8zM318 790.9H323.8V794.6H318zM312.2 787.3H318V790.9H312.2zM306.4 765.3H312.2V769H306.4zM306.4 758H312.2V761.6H306.4zM306.4 754.3H312.2V758H306.4zM306.4 750.7H312.2V754.3H306.4zM329.6 747H335.3V750.7H329.6zM318 739.7H323.8V743.3H318zM335.3 739.7H341.1V743.3H335.3zM306.4 736H312.2V739.7H306.4zM329.6 725H335.3V728.7H329.6zM318 721.4H323.8V725H318zM323.8 714H329.6V717.7H323.8zM323.8 706.7H329.6V710.4H323.8zM306.4 703H312.2V706.7H306.4zM335.3 695.7H341.1V699.4H335.3zM329.6 692.1H335.3V695.7H329.6zM329.6 684.7H335.3V688.4H329.6zM335.3 681.1H341.1V684.7H335.3zM323.8 673.7H329.6V677.4H323.8zM323.8 670.1H329.6V673.7H323.8z"/><path fill="#2488f5" d="M312.2 816.6H318V820.2H312.2zM312.2 801.9H318V805.6H312.2zM306.4 783.6H312.2V787.3H306.4zM335.3 783.6H341.1V787.3H335.3zM312.2 779.9H318V783.6H312.2zM312.2 776.3H318V779.9H312.2zM335.3 765.3H341.1V769H335.3zM335.3 754.3H341.1V758H335.3zM318 747H329.6V750.7H318zM306.4 739.7H312.2V743.3H306.4zM329.6 739.7H335.3V743.3H329.6zM329.6 732.3H335.3V736H329.6zM318 728.7H323.8V732.3H318zM335.3 728.7H341.1V732.3H335.3zM318 725H323.8V728.7H318zM306.4 721.4H312.2V725H306.4zM306.4 714H312.2V717.7H306.4zM323.8 710.4H329.6V714H323.8zM335.3 706.7H341.1V710.4H335.3zM329.6 699.4H335.3V703H329.6zM323.8 695.7H329.6V699.4H323.8zM306.4 688.4H312.2V692.1H306.4zM335.3 677.4H341.1V681.1H335.3z"/><path fill="#1b94f3" d="M63.9 838.5H69.7V842.2H63.9zM87 838.5H92.8V842.2H87zM329.6 823.9H335.3V827.6H329.6zM329.6 805.6H335.3V809.2H329.6zM306.4 794.6H318V798.3H306.4zM335.3 794.6H341.1V798.3H335.3zM312.2 790.9H318V794.6H312.2zM312.2 772.6H318V776.3H312.2zM335.3 772.6H341.1V776.3H335.3zM312.2 769H318V772.6H312.2zM306.4 761.6H312.2V765.3H306.4zM335.3 761.6H341.1V765.3H335.3zM329.6 758H335.3V761.6H329.6zM312.2 736H318V739.7H312.2zM312.2 721.4H318V725H312.2zM335.3 721.4H341.1V725H335.3zM312.2 714H318V717.7H312.2zM312.2 703H318V706.7H312.2zM312.2 684.7H318V688.4H312.2zM306.4 681.1H318V684.7H306.4zM329.6 681.1H335.3V684.7H329.6zM312.2 677.4H318V681.1H312.2zM312.2 659.1H318V662.8H312.2zM323.8 659.1H329.6V662.8H323.8zM335.3 659.1H341.1V662.8H335.3z"/><path fill="#129ff1" d="M329.6 816.6H335.3V820.2H329.6zM335.3 798.3H341.1V801.9H335.3zM329.6 787.3H335.3V790.9H329.6zM306.4 769H312.2V772.6H306.4zM329.6 769H335.3V772.6H329.6zM335.3 758H341.1V761.6H335.3zM335.3 750.7H341.1V754.3H335.3zM306.4 743.3H312.2V747H306.4zM312.2 739.7H318V743.3H312.2zM335.3 736H341.1V739.7H335.3zM318 732.3H323.8V736H318zM329.6 721.4H335.3V725H329.6zM335.3 717.7H341.1V721.4H335.3zM335.3 714H341.1V717.7H335.3zM306.4 706.7H312.2V710.4H306.4zM318 670.1H323.8V673.7H318z"/><path fill="#09aaee" d="M254.5 838.5H260.2V842.2H254.5zM335.3 834.9H341.1V838.5H335.3zM294.9 816.6H300.7V820.2H294.9zM294.9 798.3H300.7V801.9H294.9zM335.3 787.3H341.1V790.9H335.3zM294.9 765.3H300.7V769H294.9zM335.3 743.3H341.1V747H335.3zM329.6 736H335.3V739.7H329.6zM329.6 706.7H335.3V710.4H329.6zM335.3 703H341.1V706.7H335.3zM306.4 695.7H312.2V699.4H306.4zM306.4 692.1H312.2V695.7H306.4zM335.3 673.7H341.1V677.4H335.3zM329.6 659.1H335.3V662.8H329.6z"/><path fill="#00b4ec" d="M294.9 838.5H300.7V842.2H294.9zM312.2 823.9H318V827.6H312.2zM312.2 820.2H318V823.9H312.2zM335.3 816.6H341.1V820.2H335.3zM335.3 812.9H341.1V816.6H335.3zM335.3 809.2H341.1V812.9H335.3zM294.9 805.6H300.7V809.2H294.9zM335.3 805.6H341.1V809.2H335.3zM294.9 772.6H300.7V776.3H294.9zM312.2 765.3H318V769H312.2zM294.9 761.6H300.7V765.3H294.9zM294.9 754.3H300.7V758H294.9zM312.2 754.3H318V758H312.2zM312.2 750.7H318V754.3H312.2zM312.2 717.7H318V721.4H312.2zM329.6 710.4H335.3V714H329.6zM329.6 695.7H335.3V699.4H329.6zM329.6 688.4H335.3V692.1H329.6zM335.3 684.7H341.1V688.4H335.3z"/><path fill="#09bee9" d="M69.7 838.5H75.5V842.2H69.7zM81.2 838.5H87V842.2H81.2zM104.3 838.5H110.1V842.2H104.3zM271.8 838.5H277.6V842.2H271.8zM63.9 834.9H69.7V838.5H63.9zM294.9 834.9H300.7V838.5H294.9zM335.3 831.2H341.1V834.9H335.3zM300.7 816.6H306.4V820.2H300.7zM300.7 812.9H306.4V816.6H300.7zM312.2 798.3H318V801.9H312.2zM294.9 790.9H300.7V794.6H294.9zM335.3 790.9H341.1V794.6H335.3zM312.2 783.6H318V787.3H312.2zM294.9 779.9H300.7V783.6H294.9zM335.3 779.9H341.1V783.6H335.3zM312.2 747H318V750.7H312.2zM312.2 725H318V728.7H312.2zM335.3 725H341.1V728.7H335.3zM312.2 710.4H318V714H312.2zM312.2 706.7H318V710.4H312.2zM335.3 666.4H341.1V670.1H335.3z"/><path fill="#12c7e6" d="M75.5 838.5H81.2V842.2H75.5zM133.2 838.5H139V842.2H133.2zM219.8 838.5H225.6V842.2H219.8zM260.2 838.5H266V842.2H260.2zM312.2 831.2H318V834.9H312.2zM335.3 820.2H341.1V823.9H335.3zM294.9 812.9H300.7V816.6H294.9zM312.2 812.9H318V816.6H312.2zM294.9 809.2H300.7V812.9H294.9zM312.2 805.6H318V809.2H312.2zM294.9 801.9H300.7V805.6H294.9zM300.7 769H306.4V772.6H300.7zM312.2 761.6H318V765.3H312.2zM312.2 743.3H318V747H312.2zM300.7 732.3H306.4V736H300.7zM312.2 732.3H318V736H312.2zM294.9 717.7H300.7V721.4H294.9zM300.7 695.7H306.4V699.4H300.7zM335.3 692.1H341.1V695.7H335.3zM294.9 688.4H300.7V692.1H294.9zM312.2 688.4H318V692.1H312.2zM335.3 688.4H341.1V692.1H335.3zM294.9 673.7H300.7V677.4H294.9zM335.3 670.1H341.1V673.7H335.3zM335.3 662.8H341.1V666.4H335.3zM294.9 659.1H300.7V662.8H294.9z"/><path fill="#1bd0e3" d="M150.5 838.5H156.3V842.2H150.5zM208.3 838.5H219.8V842.2H208.3zM248.7 838.5H254.5V842.2H248.7zM312.2 827.6H318V831.2H312.2zM300.7 798.3H306.4V801.9H300.7zM300.7 787.3H306.4V790.9H300.7zM300.7 772.6H306.4V776.3H300.7zM294.9 758H300.7V761.6H294.9zM312.2 758H318V761.6H312.2zM294.9 732.3H300.7V736H294.9zM335.3 732.3H341.1V736H335.3zM294.9 714H300.7V717.7H294.9zM335.3 710.4H341.1V714H335.3zM335.3 699.4H341.1V703H335.3zM312.2 695.7H318V699.4H312.2zM300.7 688.4H306.4V692.1H300.7zM294.9 677.4H300.7V681.1H294.9zM312.2 662.8H318V666.4H312.2z"/><path fill="#24d8df" d="M92.8 838.5H98.6V842.2H92.8zM110.1 838.5H115.9V842.2H110.1zM127.4 838.5H133.2V842.2H127.4zM156.3 838.5H162.1V842.2H156.3zM289.1 838.5H294.9V842.2H289.1zM277.6 834.9H283.4V838.5H277.6zM63.9 831.2H69.7V834.9H63.9zM300.7 823.9H306.4V827.6H300.7zM300.7 794.6H306.4V798.3H300.7zM294.9 769H300.7V772.6H294.9zM300.7 765.3H306.4V769H300.7zM300.7 761.6H306.4V765.3H300.7zM294.9 725H300.7V728.7H294.9zM294.9 721.4H300.7V725H294.9zM312.2 699.4H318V703H312.2zM294.9 692.1H300.7V695.7H294.9zM312.2 692.1H318V695.7H312.2zM300.7 684.7H306.4V688.4H300.7zM300.7 681.1H306.4V684.7H300.7zM300.7 677.4H306.4V681.1H300.7zM300.7 659.1H306.4V662.8H300.7z"/><path fill="#2edfdc" d="M98.6 838.5H104.3V842.2H98.6zM191 838.5H196.7V842.2H191zM63.9 827.6H69.7V831.2H63.9zM294.9 776.3H300.7V779.9H294.9zM300.7 758H306.4V761.6H300.7zM294.9 743.3H300.7V747H294.9zM300.7 717.7H306.4V721.4H300.7zM294.9 706.7H300.7V710.4H294.9zM294.9 681.1H300.7V684.7H294.9zM312.2 673.7H318V677.4H312.2zM294.9 670.1H300.7V673.7H294.9z"/><path fill="#37e6d8" d="M115.9 838.5H127.4V842.2H115.9zM185.2 838.5H191V842.2H185.2zM254.5 834.9H260.2V838.5H254.5zM300.7 834.9H306.4V838.5H300.7zM277.6 831.2H283.4V834.9H277.6zM300.7 831.2H306.4V834.9H300.7zM294.9 827.6H306.4V831.2H294.9zM294.9 823.9H300.7V827.6H294.9zM300.7 801.9H306.4V805.6H300.7zM300.7 779.9H306.4V783.6H300.7zM300.7 776.3H306.4V779.9H300.7zM341.1 772.6H346.9V776.3H341.1zM294.9 739.7H300.7V743.3H294.9zM294.9 728.7H306.4V732.3H294.9zM312.2 728.7H318V732.3H312.2zM300.7 721.4H306.4V725H300.7zM300.7 714H306.4V717.7H300.7zM294.9 703H300.7V706.7H294.9zM294.9 695.7H300.7V699.4H294.9zM300.7 673.7H306.4V677.4H300.7z"/><path fill="#40ecd4" d="M202.5 838.5H208.3V842.2H202.5zM242.9 838.5H248.7V842.2H242.9zM341.1 838.5H346.9V842.2H341.1zM69.7 834.9H75.5V838.5H69.7zM271.8 834.9H277.6V838.5H271.8zM283.4 834.9H289.1V838.5H283.4zM294.9 831.2H300.7V834.9H294.9zM63.9 823.9H69.7V827.6H63.9zM294.9 820.2H300.7V823.9H294.9zM341.1 816.6H346.9V820.2H341.1zM300.7 805.6H306.4V809.2H300.7zM294.9 794.6H300.7V798.3H294.9zM294.9 783.6H300.7V787.3H294.9zM300.7 754.3H306.4V758H300.7zM300.7 666.4H306.4V670.1H300.7zM300.7 662.8H306.4V666.4H300.7z"/><path fill="#49f1d0" d="M144.8 838.5H150.5V842.2H144.8zM75.5 834.9H81.2V838.5H75.5zM277.6 827.6H283.4V831.2H277.6zM63.9 820.2H69.7V823.9H63.9zM300.7 820.2H306.4V823.9H300.7zM300.7 809.2H306.4V812.9H300.7zM341.1 794.6H346.9V798.3H341.1zM300.7 790.9H306.4V794.6H300.7zM294.9 787.3H300.7V790.9H294.9zM300.7 783.6H306.4V787.3H300.7zM341.1 776.3H346.9V779.9H341.1zM341.1 765.3H346.9V769H341.1zM294.9 750.7H306.4V754.3H294.9zM294.9 747H306.4V750.7H294.9zM300.7 743.3H306.4V747H300.7zM294.9 736H300.7V739.7H294.9zM300.7 725H306.4V728.7H300.7zM300.7 706.7H306.4V710.4H300.7zM294.9 684.7H300.7V688.4H294.9zM341.1 684.7H346.9V688.4H341.1zM341.1 670.1H346.9V673.7H341.1zM341.1 666.4H346.9V670.1H341.1zM294.9 662.8H300.7V666.4H294.9z"/><path fill="#52f5cc" d="M225.6 838.5H231.4V842.2H225.6zM81.2 834.9H92.8V838.5H81.2zM260.2 834.9H266V838.5H260.2zM341.1 834.9H346.9V838.5H341.1zM69.7 831.2H75.5V834.9H69.7zM254.5 831.2H260.2V834.9H254.5zM271.8 831.2H277.6V834.9H271.8zM341.1 820.2H346.9V823.9H341.1zM63.9 816.6H69.7V820.2H63.9zM341.1 812.9H346.9V816.6H341.1zM341.1 787.3H346.9V790.9H341.1zM341.1 783.6H346.9V787.3H341.1zM300.7 739.7H306.4V743.3H300.7zM341.1 739.7H346.9V743.3H341.1zM341.1 725H346.9V728.7H341.1zM294.9 710.4H300.7V714H294.9zM341.1 706.7H346.9V710.4H341.1zM294.9 699.4H300.7V703H294.9zM341.1 699.4H346.9V703H341.1zM294.9 666.4H300.7V670.1H294.9z"/><path fill="#5bf9c7" d="M139 838.5H144.8V842.2H139zM92.8 834.9H98.6V838.5H92.8zM110.1 834.9H121.7V838.5H110.1zM248.7 834.9H254.5V838.5H248.7zM283.4 831.2H289.1V834.9H283.4zM341.1 827.6H346.9V831.2H341.1zM277.6 823.9H283.4V827.6H277.6zM277.6 816.6H283.4V820.2H277.6zM63.9 812.9H69.7V816.6H63.9zM341.1 758H346.9V761.6H341.1zM300.7 736H306.4V739.7H300.7zM300.7 703H306.4V706.7H300.7zM341.1 703H346.9V706.7H341.1zM300.7 699.4H306.4V703H300.7zM341.1 695.7H346.9V699.4H341.1zM300.7 692.1H306.4V695.7H300.7zM341.1 692.1H346.9V695.7H341.1zM300.7 670.1H306.4V673.7H300.7z"/><path fill="#64fbc3" d="M167.8 838.5H173.6V842.2H167.8zM98.6 834.9H110.1V838.5H98.6zM121.7 834.9H127.4V838.5H121.7zM289.1 834.9H294.9V838.5H289.1zM75.5 831.2H87V834.9H75.5zM69.7 827.6H75.5V831.2H69.7zM271.8 827.6H277.6V831.2H271.8zM283.4 827.6H289.1V831.2H283.4zM283.4 823.9H289.1V827.6H283.4zM63.9 809.2H69.7V812.9H63.9zM341.1 809.2H346.9V812.9H341.1zM341.1 769H346.9V772.6H341.1zM341.1 728.7H346.9V732.3H341.1zM300.7 710.4H306.4V714H300.7zM341.1 710.4H346.9V714H341.1zM341.1 673.7H346.9V677.4H341.1z"/><path fill="#6dfdbe" d="M162.1 838.5H167.8V842.2H162.1zM196.7 838.5H202.5V842.2H196.7zM127.4 834.9H133.2V838.5H127.4zM242.9 834.9H248.7V838.5H242.9zM266 834.9H271.8V838.5H266zM87 831.2H98.6V834.9H87zM75.5 827.6H81.2V831.2H75.5zM254.5 827.6H260.2V831.2H254.5zM69.7 823.9H75.5V827.6H69.7zM254.5 823.9H260.2V827.6H254.5zM277.6 820.2H289.1V823.9H277.6zM277.6 812.9H283.4V816.6H277.6zM277.6 809.2H283.4V812.9H277.6zM63.9 805.6H69.7V809.2H63.9zM341.1 805.6H346.9V809.2H341.1zM63.9 801.9H69.7V805.6H63.9zM341.1 801.9H346.9V805.6H341.1zM341.1 717.7H346.9V721.4H341.1z"/><path fill="#76ffb9" d="M173.6 838.5H179.4V842.2H173.6zM98.6 831.2H121.7V834.9H98.6zM248.7 831.2H254.5V834.9H248.7zM260.2 831.2H266V834.9H260.2zM341.1 831.2H346.9V834.9H341.1zM81.2 827.6H87V831.2H81.2zM271.8 823.9H277.6V827.6H271.8zM283.4 816.6H289.1V820.2H283.4zM254.5 812.9H260.2V816.6H254.5zM277.6 805.6H283.4V809.2H277.6zM63.9 798.3H69.7V801.9H63.9zM277.6 798.3H283.4V801.9H277.6zM341.1 798.3H346.9V801.9H341.1zM63.9 794.6H69.7V798.3H63.9zM277.6 790.9H283.4V794.6H277.6zM277.6 769H283.4V772.6H277.6zM341.1 754.3H346.9V758H341.1zM341.1 736H346.9V739.7H341.1zM341.1 677.4H346.9V681.1H341.1z"/><path fill="#80ffb4" d="M179.4 838.5H185.2V842.2H179.4zM237.2 838.5H242.9V842.2H237.2zM133.2 834.9H139V838.5H133.2zM219.8 834.9H225.6V838.5H219.8zM121.7 831.2H127.4V834.9H121.7zM266 831.2H271.8V834.9H266zM289.1 831.2H294.9V834.9H289.1zM87 827.6H98.6V831.2H87zM110.1 827.6H115.9V831.2H110.1zM260.2 827.6H266V831.2H260.2zM75.5 823.9H87V827.6H75.5zM260.2 823.9H266V827.6H260.2zM69.7 820.2H75.5V823.9H69.7zM254.5 820.2H260.2V823.9H254.5zM271.8 820.2H277.6V823.9H271.8zM271.8 812.9H277.6V816.6H271.8zM283.4 812.9H289.1V816.6H283.4zM254.5 805.6H260.2V809.2H254.5zM277.6 801.9H283.4V805.6H277.6zM277.6 794.6H283.4V798.3H277.6zM63.9 790.9H69.7V794.6H63.9zM341.1 790.9H346.9V794.6H341.1zM63.9 787.3H69.7V790.9H63.9zM277.6 787.3H283.4V790.9H277.6zM277.6 783.6H283.4V787.3H277.6zM277.6 779.9H283.4V783.6H277.6zM341.1 779.9H346.9V783.6H341.1zM277.6 776.3H283.4V779.9H277.6zM277.6 765.3H283.4V769H277.6zM277.6 754.3H283.4V758H277.6zM341.1 750.7H346.9V754.3H341.1zM341.1 743.3H346.9V747H341.1zM277.6 736H283.4V739.7H277.6zM277.6 725H283.4V728.7H277.6zM277.6 721.4H283.4V725H277.6zM277.6 710.4H283.4V714H277.6zM277.6 706.7H283.4V710.4H277.6zM277.6 703H283.4V706.7H277.6zM277.6 699.4H283.4V703H277.6zM277.6 688.4H283.4V692.1H277.6zM341.1 688.4H346.9V692.1H341.1zM277.6 684.7H283.4V688.4H277.6zM277.6 670.1H283.4V673.7H277.6zM277.6 662.8H283.4V666.4H277.6z"/><path fill="#89ffaf" d="M144.8 834.9H150.5V838.5H144.8zM208.3 834.9H219.8V838.5H208.3zM225.6 834.9H231.4V838.5H225.6zM127.4 831.2H133.2V834.9H127.4zM242.9 831.2H248.7V834.9H242.9zM98.6 827.6H110.1V831.2H98.6zM115.9 827.6H121.7V831.2H115.9zM248.7 827.6H254.5V831.2H248.7zM87 823.9H98.6V827.6H87zM341.1 823.9H346.9V827.6H341.1zM75.5 820.2H81.2V823.9H75.5zM260.2 820.2H266V823.9H260.2zM69.7 816.6H75.5V820.2H69.7zM254.5 816.6H260.2V820.2H254.5zM254.5 809.2H260.2V812.9H254.5zM271.8 805.6H277.6V809.2H271.8zM254.5 801.9H260.2V805.6H254.5zM283.4 801.9H289.1V805.6H283.4zM254.5 798.3H260.2V801.9H254.5zM283.4 798.3H289.1V801.9H283.4zM254.5 794.6H260.2V798.3H254.5zM283.4 790.9H289.1V794.6H283.4zM63.9 783.6H69.7V787.3H63.9zM63.9 779.9H69.7V783.6H63.9zM277.6 772.6H289.1V776.3H277.6zM277.6 761.6H283.4V765.3H277.6zM341.1 761.6H346.9V765.3H341.1zM277.6 758H283.4V761.6H277.6zM277.6 739.7H283.4V743.3H277.6zM277.6 732.3H283.4V736H277.6zM341.1 732.3H346.9V736H341.1zM277.6 728.7H283.4V732.3H277.6zM277.6 717.7H283.4V721.4H277.6zM277.6 695.7H283.4V699.4H277.6zM277.6 692.1H283.4V695.7H277.6zM277.6 681.1H283.4V684.7H277.6zM341.1 681.1H346.9V684.7H341.1zM277.6 677.4H283.4V681.1H277.6zM277.6 673.7H283.4V677.4H277.6zM277.6 659.1H283.4V662.8H277.6z"/><path fill="#92fdaa" d="M139 834.9H144.8V838.5H139zM150.5 834.9H162.1V838.5H150.5zM202.5 834.9H208.3V838.5H202.5zM121.7 827.6H127.4V831.2H121.7zM104.3 823.9H115.9V827.6H104.3zM248.7 823.9H254.5V827.6H248.7zM81.2 820.2H92.8V823.9H81.2zM75.5 816.6H87V820.2H75.5zM271.8 816.6H277.6V820.2H271.8zM69.7 812.9H75.5V816.6H69.7zM69.7 809.2H75.5V812.9H69.7zM283.4 809.2H289.1V812.9H283.4zM283.4 805.6H289.1V809.2H283.4zM271.8 801.9H277.6V805.6H271.8zM283.4 794.6H289.1V798.3H283.4zM254.5 790.9H260.2V794.6H254.5zM271.8 790.9H277.6V794.6H271.8zM283.4 787.3H289.1V790.9H283.4zM254.5 783.6H260.2V787.3H254.5zM271.8 783.6H277.6V787.3H271.8zM283.4 783.6H289.1V787.3H283.4zM254.5 779.9H260.2V783.6H254.5zM63.9 776.3H69.7V779.9H63.9zM63.9 772.6H69.7V776.3H63.9zM254.5 772.6H260.2V776.3H254.5zM63.9 769H69.7V772.6H63.9zM271.8 769H277.6V772.6H271.8zM271.8 765.3H277.6V769H271.8zM283.4 758H289.1V761.6H283.4zM254.5 754.3H260.2V758H254.5zM277.6 750.7H283.4V754.3H277.6zM277.6 747H289.1V750.7H277.6zM341.1 747H346.9V750.7H341.1zM277.6 743.3H289.1V747H277.6zM254.5 739.7H260.2V743.3H254.5zM283.4 739.7H289.1V743.3H283.4zM254.5 736H260.2V739.7H254.5zM283.4 736H289.1V739.7H283.4zM283.4 732.3H289.1V736H283.4zM254.5 728.7H260.2V732.3H254.5zM254.5 721.4H260.2V725H254.5zM283.4 721.4H289.1V725H283.4zM341.1 721.4H346.9V725H341.1zM254.5 717.7H260.2V721.4H254.5zM254.5 714H260.2V717.7H254.5zM277.6 714H283.4V717.7H277.6zM341.1 714H346.9V717.7H341.1zM254.5 710.4H260.2V714H254.5zM283.4 710.4H289.1V714H283.4zM283.4 695.7H289.1V699.4H283.4zM254.5 688.4H260.2V692.1H254.5zM254.5 684.7H260.2V688.4H254.5zM254.5 677.4H260.2V681.1H254.5zM283.4 670.1H289.1V673.7H283.4zM277.6 666.4H289.1V670.1H277.6zM341.1 662.8H346.9V666.4H341.1zM283.4 659.1H289.1V662.8H283.4zM341.1 659.1H346.9V662.8H341.1z"/><path fill="#9bfba5" d="M231.4 838.5H237.2V842.2H231.4zM167.8 834.9H173.6V838.5H167.8zM191 834.9H202.5V838.5H191zM133.2 831.2H139V834.9H133.2zM144.8 831.2H150.5V834.9H144.8zM214.1 831.2H231.4V834.9H214.1zM127.4 827.6H133.2V831.2H127.4zM242.9 827.6H248.7V831.2H242.9zM266 827.6H271.8V831.2H266zM98.6 823.9H104.3V827.6H98.6zM115.9 823.9H127.4V827.6H115.9zM289.1 823.9H294.9V827.6H289.1zM92.8 820.2H98.6V823.9H92.8zM104.3 820.2H115.9V823.9H104.3zM248.7 820.2H254.5V823.9H248.7zM266 820.2H271.8V823.9H266zM87 816.6H92.8V820.2H87zM248.7 816.6H254.5V820.2H248.7zM260.2 816.6H266V820.2H260.2zM75.5 812.9H87V816.6H75.5zM260.2 812.9H266V816.6H260.2zM271.8 809.2H277.6V812.9H271.8zM69.7 805.6H75.5V809.2H69.7zM271.8 798.3H277.6V801.9H271.8zM271.8 794.6H277.6V798.3H271.8zM254.5 787.3H266V790.9H254.5zM271.8 787.3H277.6V790.9H271.8zM271.8 779.9H277.6V783.6H271.8zM283.4 779.9H289.1V783.6H283.4zM254.5 776.3H260.2V779.9H254.5zM271.8 776.3H277.6V779.9H271.8zM283.4 776.3H289.1V779.9H283.4zM271.8 772.6H277.6V776.3H271.8zM254.5 769H260.2V772.6H254.5zM283.4 769H289.1V772.6H283.4zM63.9 765.3H69.7V769H63.9zM283.4 765.3H289.1V769H283.4zM63.9 761.6H69.7V765.3H63.9zM254.5 761.6H260.2V765.3H254.5zM283.4 761.6H289.1V765.3H283.4zM63.9 758H69.7V761.6H63.9zM254.5 758H260.2V761.6H254.5zM271.8 758H277.6V761.6H271.8zM271.8 750.7H277.6V754.3H271.8zM254.5 743.3H260.2V747H254.5zM271.8 736H277.6V739.7H271.8zM254.5 732.3H260.2V736H254.5zM271.8 732.3H277.6V736H271.8zM271.8 728.7H277.6V732.3H271.8zM283.4 728.7H289.1V732.3H283.4zM283.4 725H289.1V728.7H283.4zM271.8 721.4H277.6V725H271.8zM283.4 717.7H289.1V721.4H283.4zM271.8 710.4H277.6V714H271.8zM254.5 706.7H260.2V710.4H254.5zM271.8 706.7H277.6V710.4H271.8zM254.5 703H260.2V706.7H254.5zM283.4 703H289.1V706.7H283.4zM254.5 699.4H260.2V703H254.5zM283.4 699.4H289.1V703H283.4zM254.5 695.7H260.2V699.4H254.5zM271.8 695.7H277.6V699.4H271.8zM283.4 681.1H289.1V684.7H283.4zM283.4 673.7H289.1V677.4H283.4zM254.5 670.1H260.2V673.7H254.5zM254.5 666.4H260.2V670.1H254.5zM271.8 666.4H277.6V670.1H271.8zM254.5 662.8H260.2V666.4H254.5zM283.4 662.8H289.1V666.4H283.4zM254.5 659.1H260.2V662.8H254.5zM271.8 659.1H277.6V662.8H271.8z"/><path fill="#a4f99f" d="M162.1 834.9H167.8V838.5H162.1zM173.6 834.9H179.4V838.5H173.6zM185.2 834.9H191V838.5H185.2zM139 831.2H144.8V834.9H139zM208.3 831.2H214.1V834.9H208.3zM133.2 827.6H139V831.2H133.2zM219.8 827.6H225.6V831.2H219.8zM289.1 827.6H294.9V831.2H289.1zM266 823.9H271.8V827.6H266zM98.6 820.2H104.3V823.9H98.6zM115.9 820.2H121.7V823.9H115.9zM92.8 816.6H98.6V820.2H92.8zM104.3 816.6H115.9V820.2H104.3zM266 816.6H271.8V820.2H266zM87 812.9H98.6V816.6H87zM75.5 809.2H87V812.9H75.5zM260.2 809.2H266V812.9H260.2zM75.5 805.6H81.2V809.2H75.5zM260.2 805.6H266V809.2H260.2zM69.7 801.9H75.5V805.6H69.7zM248.7 801.9H254.5V805.6H248.7zM69.7 798.3H75.5V801.9H69.7zM260.2 798.3H266V801.9H260.2zM260.2 783.6H266V787.3H260.2zM260.2 772.6H266V776.3H260.2zM260.2 769H266V772.6H260.2zM254.5 765.3H260.2V769H254.5zM63.9 754.3H69.7V758H63.9zM260.2 754.3H266V758H260.2zM283.4 754.3H289.1V758H283.4zM63.9 750.7H69.7V754.3H63.9zM254.5 750.7H260.2V754.3H254.5zM283.4 750.7H289.1V754.3H283.4zM254.5 747H260.2V750.7H254.5zM271.8 747H277.6V750.7H271.8zM260.2 743.3H266V747H260.2zM271.8 743.3H277.6V747H271.8zM271.8 739.7H277.6V743.3H271.8zM254.5 725H266V728.7H254.5zM283.4 714H289.1V717.7H283.4zM283.4 706.7H289.1V710.4H283.4zM271.8 699.4H277.6V703H271.8zM254.5 692.1H260.2V695.7H254.5zM271.8 692.1H277.6V695.7H271.8zM283.4 688.4H289.1V692.1H283.4zM283.4 684.7H289.1V688.4H283.4zM254.5 681.1H260.2V684.7H254.5zM271.8 681.1H277.6V684.7H271.8zM271.8 677.4H277.6V681.1H271.8zM283.4 677.4H289.1V681.1H283.4zM254.5 673.7H260.2V677.4H254.5zM271.8 670.1H277.6V673.7H271.8zM271.8 662.8H277.6V666.4H271.8z"/><path fill="#adf599" d="M179.4 834.9H185.2V838.5H179.4zM237.2 834.9H242.9V838.5H237.2zM150.5 831.2H162.1V834.9H150.5zM202.5 831.2H208.3V834.9H202.5zM144.8 827.6H150.5V831.2H144.8zM208.3 827.6H214.1V831.2H208.3zM225.6 827.6H231.4V831.2H225.6zM127.4 823.9H139V827.6H127.4zM121.7 820.2H127.4V823.9H121.7zM98.6 816.6H104.3V820.2H98.6zM115.9 816.6H121.7V820.2H115.9zM289.1 816.6H294.9V820.2H289.1zM104.3 812.9H121.7V816.6H104.3zM248.7 812.9H254.5V816.6H248.7zM266 812.9H271.8V816.6H266zM87 809.2H98.6V812.9H87zM110.1 809.2H115.9V812.9H110.1zM248.7 809.2H254.5V812.9H248.7zM266 809.2H271.8V812.9H266zM81.2 805.6H92.8V809.2H81.2zM75.5 801.9H81.2V805.6H75.5zM260.2 801.9H271.8V805.6H260.2zM75.5 798.3H81.2V801.9H75.5zM248.7 798.3H254.5V801.9H248.7zM69.7 794.6H75.5V798.3H69.7zM260.2 794.6H266V798.3H260.2zM260.2 790.9H266V794.6H260.2zM266 783.6H271.8V787.3H266zM260.2 779.9H266V783.6H260.2zM260.2 765.3H266V769H260.2zM260.2 761.6H266V765.3H260.2zM271.8 761.6H277.6V765.3H271.8zM271.8 754.3H277.6V758H271.8zM63.9 747H69.7V750.7H63.9zM63.9 743.3H69.7V747H63.9zM63.9 739.7H69.7V743.3H63.9zM63.9 736H69.7V739.7H63.9zM260.2 736H266V739.7H260.2zM63.9 732.3H69.7V736H63.9zM260.2 732.3H266V736H260.2zM63.9 728.7H69.7V732.3H63.9zM63.9 725H69.7V728.7H63.9zM271.8 725H277.6V728.7H271.8zM260.2 721.4H266V725H260.2zM271.8 717.7H277.6V721.4H271.8zM260.2 714H266V717.7H260.2zM271.8 714H277.6V717.7H271.8zM271.8 703H277.6V706.7H271.8zM260.2 699.4H266V703H260.2zM260.2 692.1H266V695.7H260.2zM283.4 692.1H289.1V695.7H283.4zM271.8 688.4H277.6V692.1H271.8zM271.8 684.7H277.6V688.4H271.8zM260.2 681.1H266V684.7H260.2zM260.2 677.4H266V681.1H260.2zM260.2 673.7H266V677.4H260.2zM271.8 673.7H277.6V677.4H271.8zM260.2 670.1H266V673.7H260.2zM260.2 662.8H266V666.4H260.2z"/><path fill="#b6f194" d="M167.8 831.2H173.6V834.9H167.8zM191 831.2H202.5V834.9H191zM139 827.6H144.8V831.2H139zM150.5 827.6H156.3V831.2H150.5zM202.5 827.6H208.3V831.2H202.5zM214.1 827.6H219.8V831.2H214.1zM219.8 823.9H225.6V827.6H219.8zM242.9 823.9H248.7V827.6H242.9zM127.4 820.2H133.2V823.9H127.4zM242.9 820.2H248.7V823.9H242.9zM289.1 820.2H294.9V823.9H289.1zM121.7 816.6H127.4V820.2H121.7zM98.6 812.9H104.3V816.6H98.6zM121.7 812.9H127.4V816.6H121.7zM98.6 809.2H110.1V812.9H98.6zM92.8 805.6H98.6V809.2H92.8zM110.1 805.6H115.9V809.2H110.1zM248.7 805.6H254.5V809.2H248.7zM266 805.6H271.8V809.2H266zM81.2 801.9H92.8V805.6H81.2zM87 798.3H92.8V801.9H87zM266 798.3H271.8V801.9H266zM75.5 794.6H87V798.3H75.5zM69.7 790.9H81.2V794.6H69.7zM69.7 787.3H75.5V790.9H69.7zM266 779.9H271.8V783.6H266zM260.2 776.3H271.8V779.9H260.2zM248.7 769H254.5V772.6H248.7zM260.2 758H266V761.6H260.2zM248.7 750.7H254.5V754.3H248.7zM260.2 747H266V750.7H260.2zM260.2 739.7H266V743.3H260.2zM248.7 736H254.5V739.7H248.7zM248.7 728.7H254.5V732.3H248.7zM63.9 721.4H69.7V725H63.9zM63.9 717.7H69.7V721.4H63.9zM260.2 717.7H266V721.4H260.2zM63.9 714H69.7V717.7H63.9zM63.9 710.4H69.7V714H63.9zM260.2 710.4H266V714H260.2zM260.2 706.7H266V710.4H260.2zM260.2 703H266V706.7H260.2zM248.7 699.4H254.5V703H248.7zM260.2 695.7H266V699.4H260.2zM260.2 688.4H266V692.1H260.2zM260.2 666.4H266V670.1H260.2zM248.7 662.8H254.5V666.4H248.7z"/><path fill="#bfec8e" d="M162.1 831.2H167.8V834.9H162.1zM173.6 831.2H179.4V834.9H173.6zM185.2 831.2H191V834.9H185.2zM237.2 831.2H242.9V834.9H237.2zM156.3 827.6H162.1V831.2H156.3zM167.8 827.6H173.6V831.2H167.8zM191 827.6H202.5V831.2H191zM139 823.9H150.5V827.6H139zM208.3 823.9H219.8V827.6H208.3zM225.6 823.9H231.4V827.6H225.6zM133.2 820.2H139V823.9H133.2zM219.8 820.2H225.6V823.9H219.8zM127.4 816.6H133.2V820.2H127.4zM127.4 812.9H133.2V816.6H127.4zM289.1 812.9H294.9V816.6H289.1zM115.9 809.2H127.4V812.9H115.9zM98.6 805.6H110.1V809.2H98.6zM115.9 805.6H121.7V809.2H115.9zM92.8 801.9H98.6V805.6H92.8zM104.3 801.9H121.7V805.6H104.3zM289.1 801.9H294.9V805.6H289.1zM81.2 798.3H87V801.9H81.2zM92.8 798.3H98.6V801.9H92.8zM110.1 798.3H115.9V801.9H110.1zM289.1 798.3H294.9V801.9H289.1zM248.7 794.6H254.5V798.3H248.7zM266 794.6H271.8V798.3H266zM81.2 790.9H87V794.6H81.2zM248.7 790.9H254.5V794.6H248.7zM289.1 790.9H294.9V794.6H289.1zM248.7 787.3H254.5V790.9H248.7zM266 787.3H271.8V790.9H266zM289.1 787.3H294.9V790.9H289.1zM69.7 783.6H75.5V787.3H69.7zM289.1 783.6H294.9V787.3H289.1zM69.7 779.9H75.5V783.6H69.7zM248.7 779.9H254.5V783.6H248.7zM248.7 776.3H254.5V779.9H248.7zM266 772.6H271.8V776.3H266zM266 769H271.8V772.6H266zM289.1 769H294.9V772.6H289.1zM248.7 765.3H254.5V769H248.7zM248.7 761.6H254.5V765.3H248.7zM266 758H271.8V761.6H266zM248.7 754.3H254.5V758H248.7zM266 754.3H271.8V758H266zM260.2 750.7H266V754.3H260.2zM248.7 743.3H254.5V747H248.7zM266 743.3H271.8V747H266zM266 732.3H271.8V736H266zM260.2 728.7H271.8V732.3H260.2zM266 725H271.8V728.7H266zM248.7 717.7H254.5V721.4H248.7zM266 717.7H271.8V721.4H266zM248.7 710.4H254.5V714H248.7zM63.9 706.7H69.7V710.4H63.9zM266 706.7H271.8V710.4H266zM63.9 703H69.7V706.7H63.9zM266 703H271.8V706.7H266zM63.9 699.4H69.7V703H63.9zM63.9 695.7H69.7V699.4H63.9zM248.7 695.7H254.5V699.4H248.7zM266 695.7H271.8V699.4H266zM63.9 692.1H69.7V695.7H63.9zM248.7 692.1H254.5V695.7H248.7zM266 692.1H271.8V695.7H266zM63.9 688.4H69.7V692.1H63.9zM266 688.4H271.8V692.1H266zM63.9 684.7H69.7V688.4H63.9zM248.7 684.7H254.5V688.4H248.7zM260.2 684.7H266V688.4H260.2zM63.9 681.1H69.7V684.7H63.9zM248.7 681.1H254.5V684.7H248.7zM63.9 677.4H69.7V681.1H63.9zM248.7 670.1H254.5V673.7H248.7zM266 670.1H271.8V673.7H266zM63.9 666.4H69.7V670.1H63.9zM248.7 666.4H254.5V670.1H248.7zM266 662.8H271.8V666.4H266zM248.7 659.1H254.5V662.8H248.7zM260.2 659.1H266V662.8H260.2z"/><path fill="#c8e688" d="M179.4 831.2H185.2V834.9H179.4zM185.2 827.6H191V831.2H185.2zM150.5 823.9H156.3V827.6H150.5zM202.5 823.9H208.3V827.6H202.5zM139 820.2H150.5V823.9H139zM208.3 820.2H219.8V823.9H208.3zM225.6 820.2H231.4V823.9H225.6zM133.2 816.6H139V820.2H133.2zM219.8 816.6H231.4V820.2H219.8zM242.9 816.6H248.7V820.2H242.9zM242.9 812.9H248.7V816.6H242.9zM127.4 809.2H133.2V812.9H127.4zM242.9 809.2H248.7V812.9H242.9zM289.1 809.2H294.9V812.9H289.1zM121.7 805.6H127.4V809.2H121.7zM242.9 805.6H248.7V809.2H242.9zM289.1 805.6H294.9V809.2H289.1zM98.6 801.9H104.3V805.6H98.6zM242.9 801.9H248.7V805.6H242.9zM104.3 798.3H110.1V801.9H104.3zM115.9 798.3H121.7V801.9H115.9zM87 794.6H98.6V798.3H87zM104.3 794.6H115.9V798.3H104.3zM242.9 794.6H248.7V798.3H242.9zM289.1 794.6H294.9V798.3H289.1zM87 790.9H92.8V794.6H87zM110.1 790.9H115.9V794.6H110.1zM266 790.9H271.8V794.6H266zM75.5 787.3H92.8V790.9H75.5zM242.9 787.3H248.7V790.9H242.9zM75.5 783.6H87V787.3H75.5zM248.7 783.6H254.5V787.3H248.7zM75.5 779.9H81.2V783.6H75.5zM289.1 779.9H294.9V783.6H289.1zM69.7 776.3H81.2V779.9H69.7zM289.1 776.3H294.9V779.9H289.1zM69.7 772.6H75.5V776.3H69.7zM248.7 772.6H254.5V776.3H248.7zM69.7 769H75.5V772.6H69.7zM266 765.3H271.8V769H266zM289.1 765.3H294.9V769H289.1zM266 761.6H271.8V765.3H266zM242.9 758H254.5V761.6H242.9zM289.1 750.7H294.9V754.3H289.1zM248.7 747H254.5V750.7H248.7zM248.7 739.7H254.5V743.3H248.7zM266 739.7H271.8V743.3H266zM266 736H271.8V739.7H266zM289.1 736H294.9V739.7H289.1zM289.1 732.3H294.9V736H289.1zM248.7 721.4H254.5V725H248.7zM248.7 714H254.5V717.7H248.7zM266 714H271.8V717.7H266zM266 710.4H271.8V714H266zM248.7 703H254.5V706.7H248.7zM266 699.4H271.8V703H266zM289.1 699.4H294.9V703H289.1zM248.7 688.4H254.5V692.1H248.7zM266 681.1H271.8V684.7H266zM266 677.4H271.8V681.1H266zM63.9 673.7H69.7V677.4H63.9zM248.7 673.7H254.5V677.4H248.7zM266 673.7H271.8V677.4H266zM63.9 670.1H69.7V673.7H63.9zM266 666.4H271.8V670.1H266zM63.9 662.8H69.7V666.4H63.9zM289.1 662.8H294.9V666.4H289.1zM63.9 659.1H69.7V662.8H63.9z"/><path fill="#d1df82" d="M162.1 827.6H167.8V831.2H162.1zM173.6 827.6H185.2V831.2H173.6zM237.2 827.6H242.9V831.2H237.2zM156.3 823.9H162.1V827.6H156.3zM167.8 823.9H173.6V827.6H167.8zM191 823.9H202.5V827.6H191zM150.5 820.2H156.3V823.9H150.5zM202.5 820.2H208.3V823.9H202.5zM144.8 816.6H150.5V820.2H144.8zM208.3 816.6H219.8V820.2H208.3zM133.2 812.9H139V816.6H133.2zM219.8 812.9H231.4V816.6H219.8zM127.4 805.6H133.2V809.2H127.4zM121.7 801.9H127.4V805.6H121.7zM98.6 798.3H104.3V801.9H98.6zM121.7 798.3H127.4V801.9H121.7zM98.6 794.6H104.3V798.3H98.6zM115.9 794.6H121.7V798.3H115.9zM92.8 790.9H110.1V794.6H92.8zM115.9 790.9H121.7V794.6H115.9zM242.9 790.9H248.7V794.6H242.9zM92.8 787.3H98.6V790.9H92.8zM104.3 787.3H115.9V790.9H104.3zM87 783.6H92.8V787.3H87zM110.1 783.6H115.9V787.3H110.1zM81.2 779.9H87V783.6H81.2zM81.2 776.3H92.8V779.9H81.2zM75.5 772.6H81.2V776.3H75.5zM289.1 772.6H294.9V776.3H289.1zM75.5 769H81.2V772.6H75.5zM242.9 769H248.7V772.6H242.9zM69.7 765.3H75.5V769H69.7zM69.7 761.6H75.5V765.3H69.7zM242.9 761.6H248.7V765.3H242.9zM289.1 761.6H294.9V765.3H289.1zM289.1 754.3H294.9V758H289.1zM266 750.7H271.8V754.3H266zM266 747H271.8V750.7H266zM289.1 747H294.9V750.7H289.1zM289.1 739.7H294.9V743.3H289.1zM242.9 736H248.7V739.7H242.9zM248.7 732.3H254.5V736H248.7zM289.1 728.7H294.9V732.3H289.1zM242.9 725H254.5V728.7H242.9zM266 721.4H271.8V725H266zM289.1 714H294.9V717.7H289.1zM242.9 706.7H254.5V710.4H242.9zM289.1 688.4H294.9V692.1H289.1zM266 684.7H271.8V688.4H266zM289.1 684.7H294.9V688.4H289.1zM289.1 681.1H294.9V684.7H289.1zM248.7 677.4H254.5V681.1H248.7zM289.1 670.1H294.9V673.7H289.1zM266 659.1H271.8V662.8H266zM289.1 659.1H294.9V662.8H289.1z"/><path fill="#dbd87b" d="M162.1 823.9H167.8V827.6H162.1zM173.6 823.9H179.4V827.6H173.6zM185.2 823.9H191V827.6H185.2zM237.2 823.9H242.9V827.6H237.2zM156.3 820.2H162.1V823.9H156.3zM196.7 820.2H202.5V823.9H196.7zM139 816.6H144.8V820.2H139zM150.5 816.6H162.1V820.2H150.5zM196.7 816.6H208.3V820.2H196.7zM139 812.9H150.5V816.6H139zM208.3 812.9H219.8V816.6H208.3zM133.2 809.2H139V812.9H133.2zM144.8 809.2H150.5V812.9H144.8zM208.3 809.2H231.4V812.9H208.3zM219.8 805.6H225.6V809.2H219.8zM127.4 801.9H133.2V805.6H127.4zM242.9 798.3H248.7V801.9H242.9zM121.7 794.6H127.4V798.3H121.7zM121.7 790.9H127.4V794.6H121.7zM98.6 787.3H104.3V790.9H98.6zM115.9 787.3H121.7V790.9H115.9zM92.8 783.6H98.6V787.3H92.8zM104.3 783.6H110.1V787.3H104.3zM115.9 783.6H121.7V787.3H115.9zM242.9 783.6H248.7V787.3H242.9zM87 779.9H98.6V783.6H87zM104.3 779.9H115.9V783.6H104.3zM242.9 779.9H248.7V783.6H242.9zM110.1 776.3H115.9V779.9H110.1zM242.9 776.3H248.7V779.9H242.9zM81.2 772.6H92.8V776.3H81.2zM110.1 772.6H115.9V776.3H110.1zM242.9 772.6H248.7V776.3H242.9zM81.2 769H87V772.6H81.2zM75.5 765.3H87V769H75.5zM242.9 765.3H248.7V769H242.9zM75.5 761.6H81.2V765.3H75.5zM69.7 758H81.2V761.6H69.7zM289.1 758H294.9V761.6H289.1zM69.7 754.3H81.2V758H69.7zM242.9 754.3H248.7V758H242.9zM69.7 750.7H75.5V754.3H69.7zM69.7 747H75.5V750.7H69.7zM242.9 747H248.7V750.7H242.9zM242.9 743.3H248.7V747H242.9zM289.1 743.3H294.9V747H289.1zM242.9 739.7H248.7V743.3H242.9zM242.9 732.3H248.7V736H242.9zM289.1 725H294.9V728.7H289.1zM242.9 721.4H248.7V725H242.9zM289.1 721.4H294.9V725H289.1zM242.9 717.7H248.7V721.4H242.9zM289.1 717.7H294.9V721.4H289.1zM242.9 714H248.7V717.7H242.9zM289.1 710.4H294.9V714H289.1zM289.1 703H294.9V706.7H289.1zM242.9 699.4H248.7V703H242.9zM289.1 692.1H294.9V695.7H289.1zM242.9 684.7H248.7V688.4H242.9zM242.9 677.4H248.7V681.1H242.9zM289.1 677.4H294.9V681.1H289.1zM242.9 670.1H248.7V673.7H242.9zM289.1 666.4H294.9V670.1H289.1z"/><path fill="#e4d075" d="M231.4 834.9H237.2V838.5H231.4zM179.4 823.9H185.2V827.6H179.4zM162.1 820.2H179.4V823.9H162.1zM185.2 820.2H196.7V823.9H185.2zM167.8 816.6H173.6V820.2H167.8zM150.5 812.9H162.1V816.6H150.5zM202.5 812.9H208.3V816.6H202.5zM139 809.2H144.8V812.9H139zM150.5 809.2H156.3V812.9H150.5zM133.2 805.6H139V809.2H133.2zM144.8 805.6H150.5V809.2H144.8zM208.3 805.6H214.1V809.2H208.3zM133.2 801.9H139V805.6H133.2zM219.8 801.9H225.6V805.6H219.8zM127.4 798.3H133.2V801.9H127.4zM127.4 794.6H133.2V798.3H127.4zM121.7 787.3H127.4V790.9H121.7zM98.6 783.6H104.3V787.3H98.6zM98.6 779.9H104.3V783.6H98.6zM115.9 779.9H121.7V783.6H115.9zM92.8 776.3H110.1V779.9H92.8zM115.9 776.3H121.7V779.9H115.9zM92.8 772.6H98.6V776.3H92.8zM104.3 772.6H110.1V776.3H104.3zM87 769H98.6V772.6H87zM110.1 769H115.9V772.6H110.1zM87 765.3H92.8V769H87zM81.2 761.6H98.6V765.3H81.2zM81.2 758H87V761.6H81.2zM81.2 754.3H87V758H81.2zM75.5 750.7H87V754.3H75.5zM242.9 750.7H248.7V754.3H242.9zM75.5 747H81.2V750.7H75.5zM69.7 743.3H75.5V747H69.7zM69.7 739.7H81.2V743.3H69.7zM69.7 736H75.5V739.7H69.7zM69.7 732.3H75.5V736H69.7zM69.7 728.7H75.5V732.3H69.7zM242.9 728.7H248.7V732.3H242.9zM69.7 721.4H75.5V725H69.7zM242.9 710.4H248.7V714H242.9zM289.1 706.7H294.9V710.4H289.1zM242.9 703H248.7V706.7H242.9zM242.9 695.7H248.7V699.4H242.9zM289.1 695.7H294.9V699.4H289.1zM242.9 692.1H248.7V695.7H242.9zM242.9 688.4H248.7V692.1H242.9zM242.9 673.7H248.7V677.4H242.9zM289.1 673.7H294.9V677.4H289.1zM242.9 662.8H248.7V666.4H242.9zM242.9 659.1H248.7V662.8H242.9z"/><path fill="#edc76f" d="M179.4 820.2H185.2V823.9H179.4zM237.2 820.2H242.9V823.9H237.2zM162.1 816.6H167.8V820.2H162.1zM185.2 816.6H196.7V820.2H185.2zM237.2 816.6H242.9V820.2H237.2zM162.1 812.9H173.6V816.6H162.1zM191 812.9H202.5V816.6H191zM156.3 809.2H162.1V812.9H156.3zM196.7 809.2H208.3V812.9H196.7zM139 805.6H144.8V809.2H139zM150.5 805.6H156.3V809.2H150.5zM202.5 805.6H208.3V809.2H202.5zM214.1 805.6H219.8V809.2H214.1zM225.6 805.6H231.4V809.2H225.6zM144.8 801.9H150.5V805.6H144.8zM208.3 801.9H219.8V805.6H208.3zM225.6 801.9H231.4V805.6H225.6zM133.2 798.3H139V801.9H133.2zM214.1 798.3H231.4V801.9H214.1zM133.2 794.6H139V798.3H133.2zM219.8 794.6H225.6V798.3H219.8zM127.4 790.9H133.2V794.6H127.4zM219.8 790.9H225.6V794.6H219.8zM127.4 787.3H133.2V790.9H127.4zM121.7 783.6H133.2V787.3H121.7zM121.7 779.9H127.4V783.6H121.7zM121.7 776.3H127.4V779.9H121.7zM98.6 772.6H104.3V776.3H98.6zM115.9 772.6H127.4V776.3H115.9zM98.6 769H110.1V772.6H98.6zM115.9 769H121.7V772.6H115.9zM92.8 765.3H98.6V769H92.8zM104.3 765.3H121.7V769H104.3zM104.3 761.6H121.7V765.3H104.3zM87 758H98.6V761.6H87zM110.1 758H115.9V761.6H110.1zM87 754.3H92.8V758H87zM81.2 747H87V750.7H81.2zM75.5 743.3H87V747H75.5zM81.2 739.7H87V743.3H81.2zM75.5 736H81.2V739.7H75.5zM75.5 732.3H87V736H75.5zM75.5 728.7H81.2V732.3H75.5zM69.7 725H81.2V728.7H69.7zM69.7 717.7H75.5V721.4H69.7zM69.7 714H75.5V717.7H69.7zM69.7 710.4H75.5V714H69.7zM69.7 706.7H75.5V710.4H69.7zM242.9 681.1H248.7V684.7H242.9zM242.9 666.4H248.7V670.1H242.9z"/><path fill="#f6be68" d="M173.6 816.6H185.2V820.2H173.6zM173.6 812.9H191V816.6H173.6zM237.2 812.9H242.9V816.6H237.2zM162.1 809.2H173.6V812.9H162.1zM185.2 809.2H196.7V812.9H185.2zM156.3 805.6H162.1V809.2H156.3zM167.8 805.6H173.6V809.2H167.8zM196.7 805.6H202.5V809.2H196.7zM139 801.9H144.8V805.6H139zM150.5 801.9H156.3V805.6H150.5zM202.5 801.9H208.3V805.6H202.5zM139 798.3H156.3V801.9H139zM208.3 798.3H214.1V801.9H208.3zM144.8 794.6H150.5V798.3H144.8zM208.3 794.6H219.8V798.3H208.3zM225.6 794.6H231.4V798.3H225.6zM133.2 790.9H139V794.6H133.2zM225.6 790.9H231.4V794.6H225.6zM133.2 787.3H139V790.9H133.2zM219.8 787.3H225.6V790.9H219.8zM133.2 783.6H139V787.3H133.2zM127.4 779.9H133.2V783.6H127.4zM127.4 776.3H133.2V779.9H127.4zM121.7 769H127.4V772.6H121.7zM98.6 765.3H104.3V769H98.6zM121.7 765.3H127.4V769H121.7zM98.6 761.6H104.3V765.3H98.6zM98.6 758H110.1V761.6H98.6zM115.9 758H121.7V761.6H115.9zM92.8 754.3H98.6V758H92.8zM104.3 754.3H115.9V758H104.3zM87 750.7H98.6V754.3H87zM110.1 750.7H115.9V754.3H110.1zM87 747H92.8V750.7H87zM87 743.3H92.8V747H87zM87 739.7H92.8V743.3H87zM110.1 739.7H115.9V743.3H110.1zM81.2 736H92.8V739.7H81.2zM87 732.3H92.8V736H87zM81.2 728.7H87V732.3H81.2zM81.2 725H92.8V728.7H81.2zM75.5 721.4H87V725H75.5zM75.5 717.7H87V721.4H75.5zM75.5 714H87V717.7H75.5zM75.5 710.4H81.2V714H75.5zM75.5 706.7H81.2V710.4H75.5zM69.7 703H81.2V706.7H69.7zM69.7 699.4H81.2V703H69.7zM69.7 695.7H75.5V699.4H69.7zM69.7 692.1H75.5V695.7H69.7zM69.7 688.4H75.5V692.1H69.7zM69.7 684.7H75.5V688.4H69.7zM69.7 681.1H75.5V684.7H69.7zM69.7 677.4H75.5V681.1H69.7zM69.7 673.7H75.5V677.4H69.7zM69.7 670.1H75.5V673.7H69.7zM69.7 666.4H75.5V670.1H69.7zM69.7 659.1H75.5V662.8H69.7z"/><path fill="#ffb462" d="M231.4 831.2H237.2V834.9H231.4zM173.6 809.2H185.2V812.9H173.6zM237.2 809.2H242.9V812.9H237.2zM185.2 805.6H196.7V809.2H185.2zM156.3 801.9H162.1V805.6H156.3zM167.8 801.9H173.6V805.6H167.8zM191 801.9H202.5V805.6H191zM156.3 798.3H162.1V801.9H156.3zM202.5 798.3H208.3V801.9H202.5zM139 794.6H144.8V798.3H139zM150.5 794.6H162.1V798.3H150.5zM202.5 794.6H208.3V798.3H202.5zM139 790.9H156.3V794.6H139zM202.5 790.9H219.8V794.6H202.5zM144.8 787.3H150.5V790.9H144.8zM214.1 787.3H219.8V790.9H214.1zM225.6 787.3H231.4V790.9H225.6zM219.8 783.6H231.4V787.3H219.8zM219.8 779.9H225.6V783.6H219.8zM219.8 776.3H225.6V779.9H219.8zM127.4 772.6H133.2V776.3H127.4zM219.8 772.6H225.6V776.3H219.8zM127.4 769H133.2V772.6H127.4zM127.4 765.3H133.2V769H127.4zM121.7 761.6H133.2V765.3H121.7zM121.7 758H127.4V761.6H121.7zM98.6 754.3H104.3V758H98.6zM115.9 754.3H127.4V758H115.9zM98.6 750.7H110.1V754.3H98.6zM115.9 750.7H121.7V754.3H115.9zM92.8 747H121.7V750.7H92.8zM92.8 743.3H121.7V747H92.8zM92.8 739.7H110.1V743.3H92.8zM92.8 736H98.6V739.7H92.8zM104.3 736H115.9V739.7H104.3zM92.8 732.3H98.6V736H92.8zM104.3 732.3H121.7V736H104.3zM87 728.7H98.6V732.3H87zM110.1 728.7H115.9V732.3H110.1zM92.8 725H98.6V728.7H92.8zM104.3 725H115.9V728.7H104.3zM87 721.4H98.6V725H87zM87 717.7H98.6V721.4H87zM110.1 717.7H115.9V721.4H110.1zM87 714H98.6V717.7H87zM110.1 714H115.9V717.7H110.1zM81.2 710.4H87V714H81.2zM81.2 706.7H92.8V710.4H81.2zM81.2 703H87V706.7H81.2zM81.2 699.4H87V703H81.2zM75.5 695.7H87V699.4H75.5zM75.5 692.1H87V695.7H75.5zM75.5 688.4H87V692.1H75.5zM75.5 684.7H87V688.4H75.5zM75.5 681.1H81.2V684.7H75.5zM75.5 673.7H81.2V677.4H75.5zM69.7 662.8H81.2V666.4H69.7zM75.5 659.1H81.2V662.8H75.5z"/><path fill="#ffaa5b" d="M231.4 827.6H237.2V831.2H231.4zM162.1 805.6H167.8V809.2H162.1zM173.6 805.6H185.2V809.2H173.6zM237.2 805.6H242.9V809.2H237.2zM162.1 801.9H167.8V805.6H162.1zM185.2 801.9H191V805.6H185.2zM237.2 801.9H242.9V805.6H237.2zM162.1 798.3H173.6V801.9H162.1zM191 798.3H202.5V801.9H191zM167.8 794.6H173.6V798.3H167.8zM191 794.6H202.5V798.3H191zM156.3 790.9H162.1V794.6H156.3zM196.7 790.9H202.5V794.6H196.7zM139 787.3H144.8V790.9H139zM150.5 787.3H162.1V790.9H150.5zM202.5 787.3H214.1V790.9H202.5zM139 783.6H150.5V787.3H139zM208.3 783.6H219.8V787.3H208.3zM133.2 779.9H139V783.6H133.2zM144.8 779.9H150.5V783.6H144.8zM208.3 779.9H219.8V783.6H208.3zM225.6 779.9H231.4V783.6H225.6zM133.2 776.3H139V779.9H133.2zM208.3 776.3H219.8V779.9H208.3zM225.6 776.3H231.4V779.9H225.6zM133.2 772.6H139V776.3H133.2zM133.2 769H139V772.6H133.2zM219.8 769H225.6V772.6H219.8zM219.8 765.3H225.6V769H219.8zM127.4 758H133.2V761.6H127.4zM127.4 754.3H133.2V758H127.4zM121.7 750.7H127.4V754.3H121.7zM121.7 747H127.4V750.7H121.7zM121.7 743.3H127.4V747H121.7zM115.9 739.7H127.4V743.3H115.9zM98.6 736H104.3V739.7H98.6zM115.9 736H121.7V739.7H115.9zM98.6 732.3H104.3V736H98.6zM121.7 732.3H127.4V736H121.7zM98.6 728.7H110.1V732.3H98.6zM115.9 728.7H121.7V732.3H115.9zM115.9 725H121.7V728.7H115.9zM98.6 721.4H115.9V725H98.6zM104.3 717.7H110.1V721.4H104.3zM115.9 717.7H121.7V721.4H115.9zM98.6 714H110.1V717.7H98.6zM87 710.4H98.6V714H87zM104.3 710.4H115.9V714H104.3zM92.8 706.7H98.6V710.4H92.8zM110.1 706.7H115.9V710.4H110.1zM87 703H98.6V706.7H87zM104.3 703H110.1V706.7H104.3zM87 699.4H92.8V703H87zM110.1 699.4H115.9V703H110.1zM87 695.7H98.6V699.4H87zM87 692.1H92.8V695.7H87zM110.1 692.1H115.9V695.7H110.1zM87 688.4H92.8V692.1H87zM87 684.7H92.8V688.4H87zM110.1 684.7H115.9V688.4H110.1zM81.2 681.1H92.8V684.7H81.2zM75.5 677.4H87V681.1H75.5zM81.2 673.7H92.8V677.4H81.2zM75.5 670.1H92.8V673.7H75.5zM75.5 666.4H92.8V670.1H75.5zM81.2 662.8H87V666.4H81.2z"/><path fill="#ff9f54" d="M173.6 801.9H185.2V805.6H173.6zM173.6 798.3H179.4V801.9H173.6zM185.2 798.3H191V801.9H185.2zM237.2 798.3H242.9V801.9H237.2zM162.1 794.6H167.8V798.3H162.1zM185.2 794.6H191V798.3H185.2zM162.1 790.9H173.6V794.6H162.1zM185.2 790.9H196.7V794.6H185.2zM196.7 787.3H202.5V790.9H196.7zM150.5 783.6H162.1V787.3H150.5zM196.7 783.6H208.3V787.3H196.7zM139 779.9H144.8V783.6H139zM150.5 779.9H156.3V783.6H150.5zM139 776.3H156.3V779.9H139zM202.5 776.3H208.3V779.9H202.5zM139 772.6H150.5V776.3H139zM208.3 772.6H219.8V776.3H208.3zM225.6 772.6H231.4V776.3H225.6zM144.8 769H150.5V772.6H144.8zM214.1 769H219.8V772.6H214.1zM225.6 769H231.4V772.6H225.6zM133.2 765.3H139V769H133.2zM208.3 765.3H214.1V769H208.3zM133.2 761.6H139V765.3H133.2zM219.8 761.6H225.6V765.3H219.8zM133.2 758H139V761.6H133.2zM219.8 758H225.6V761.6H219.8zM127.4 750.7H133.2V754.3H127.4zM127.4 747H133.2V750.7H127.4zM127.4 743.3H133.2V747H127.4zM127.4 739.7H133.2V743.3H127.4zM121.7 736H127.4V739.7H121.7zM121.7 728.7H127.4V732.3H121.7zM98.6 725H104.3V728.7H98.6zM121.7 725H127.4V728.7H121.7zM115.9 721.4H127.4V725H115.9zM98.6 717.7H104.3V721.4H98.6zM121.7 717.7H127.4V721.4H121.7zM115.9 714H127.4V717.7H115.9zM98.6 710.4H104.3V714H98.6zM115.9 710.4H121.7V714H115.9zM98.6 706.7H110.1V710.4H98.6zM115.9 706.7H121.7V710.4H115.9zM98.6 703H104.3V706.7H98.6zM110.1 703H121.7V706.7H110.1zM92.8 699.4H110.1V703H92.8zM115.9 699.4H121.7V703H115.9zM98.6 695.7H115.9V699.4H98.6zM92.8 692.1H98.6V695.7H92.8zM104.3 692.1H110.1V695.7H104.3zM115.9 692.1H121.7V695.7H115.9zM92.8 688.4H98.6V692.1H92.8zM104.3 688.4H121.7V692.1H104.3zM92.8 684.7H98.6V688.4H92.8zM92.8 681.1H98.6V684.7H92.8zM104.3 681.1H115.9V684.7H104.3zM87 677.4H98.6V681.1H87zM104.3 677.4H115.9V681.1H104.3zM92.8 673.7H98.6V677.4H92.8zM104.3 673.7H115.9V677.4H104.3zM92.8 670.1H98.6V673.7H92.8zM110.1 670.1H115.9V673.7H110.1zM92.8 666.4H98.6V670.1H92.8zM110.1 666.4H115.9V670.1H110.1zM87 662.8H92.8V666.4H87zM110.1 662.8H115.9V666.4H110.1zM81.2 659.1H92.8V662.8H81.2z"/><path fill="#ff944d" d="M231.4 823.9H237.2V827.6H231.4zM179.4 798.3H185.2V801.9H179.4zM173.6 794.6H185.2V798.3H173.6zM237.2 794.6H242.9V798.3H237.2zM173.6 790.9H185.2V794.6H173.6zM237.2 790.9H242.9V794.6H237.2zM162.1 787.3H173.6V790.9H162.1zM185.2 787.3H196.7V790.9H185.2zM167.8 783.6H173.6V787.3H167.8zM185.2 783.6H196.7V787.3H185.2zM156.3 779.9H162.1V783.6H156.3zM167.8 779.9H173.6V783.6H167.8zM196.7 779.9H208.3V783.6H196.7zM156.3 776.3H162.1V779.9H156.3zM196.7 776.3H202.5V779.9H196.7zM150.5 772.6H156.3V776.3H150.5zM202.5 772.6H208.3V776.3H202.5zM139 769H144.8V772.6H139zM150.5 769H156.3V772.6H150.5zM202.5 769H214.1V772.6H202.5zM144.8 765.3H156.3V769H144.8zM214.1 765.3H219.8V769H214.1zM225.6 765.3H231.4V769H225.6zM139 761.6H156.3V765.3H139zM208.3 761.6H219.8V765.3H208.3zM225.6 761.6H231.4V765.3H225.6zM214.1 758H219.8V761.6H214.1zM133.2 754.3H139V758H133.2zM144.8 754.3H150.5V758H144.8zM219.8 754.3H231.4V758H219.8zM133.2 750.7H139V754.3H133.2zM219.8 750.7H225.6V754.3H219.8zM133.2 747H139V750.7H133.2zM219.8 747H225.6V750.7H219.8zM219.8 743.3H225.6V747H219.8zM133.2 739.7H139V743.3H133.2zM219.8 739.7H225.6V743.3H219.8zM127.4 736H133.2V739.7H127.4zM127.4 732.3H133.2V736H127.4zM127.4 728.7H133.2V732.3H127.4zM127.4 725H133.2V728.7H127.4zM127.4 717.7H133.2V721.4H127.4zM127.4 714H133.2V717.7H127.4zM121.7 710.4H127.4V714H121.7zM121.7 706.7H127.4V710.4H121.7zM121.7 703H127.4V706.7H121.7zM121.7 699.4H127.4V703H121.7zM115.9 695.7H127.4V699.4H115.9zM98.6 692.1H104.3V695.7H98.6zM121.7 692.1H127.4V695.7H121.7zM98.6 688.4H104.3V692.1H98.6zM121.7 688.4H127.4V692.1H121.7zM98.6 684.7H110.1V688.4H98.6zM115.9 684.7H127.4V688.4H115.9zM98.6 681.1H104.3V684.7H98.6zM115.9 681.1H127.4V684.7H115.9zM98.6 677.4H104.3V681.1H98.6zM115.9 677.4H121.7V681.1H115.9zM98.6 673.7H104.3V677.4H98.6zM115.9 673.7H127.4V677.4H115.9zM98.6 670.1H110.1V673.7H98.6zM115.9 670.1H121.7V673.7H115.9zM104.3 666.4H110.1V670.1H104.3zM115.9 666.4H121.7V670.1H115.9zM92.8 662.8H110.1V666.4H92.8zM115.9 662.8H121.7V666.4H115.9zM92.8 659.1H121.7V662.8H92.8z"/><path fill="#ff8847" d="M231.4 820.2H237.2V823.9H231.4zM173.6 787.3H185.2V790.9H173.6zM237.2 787.3H242.9V790.9H237.2zM162.1 783.6H167.8V787.3H162.1zM173.6 783.6H185.2V787.3H173.6zM237.2 783.6H242.9V787.3H237.2zM162.1 779.9H167.8V783.6H162.1zM185.2 779.9H196.7V783.6H185.2zM167.8 776.3H173.6V779.9H167.8zM191 776.3H196.7V779.9H191zM156.3 772.6H162.1V776.3H156.3zM167.8 772.6H173.6V776.3H167.8zM191 772.6H202.5V776.3H191zM156.3 769H162.1V772.6H156.3zM167.8 769H173.6V772.6H167.8zM196.7 769H202.5V772.6H196.7zM139 765.3H144.8V769H139zM202.5 765.3H208.3V769H202.5zM156.3 761.6H162.1V765.3H156.3zM202.5 761.6H208.3V765.3H202.5zM139 758H156.3V761.6H139zM202.5 758H214.1V761.6H202.5zM225.6 758H231.4V761.6H225.6zM139 754.3H144.8V758H139zM150.5 754.3H156.3V758H150.5zM202.5 754.3H219.8V758H202.5zM139 750.7H150.5V754.3H139zM208.3 750.7H219.8V754.3H208.3zM225.6 750.7H231.4V754.3H225.6zM214.1 747H219.8V750.7H214.1zM225.6 747H231.4V750.7H225.6zM133.2 743.3H139V747H133.2zM144.8 743.3H150.5V747H144.8zM225.6 739.7H231.4V743.3H225.6zM133.2 736H139V739.7H133.2zM219.8 736H225.6V739.7H219.8zM133.2 732.3H139V736H133.2zM219.8 732.3H225.6V736H219.8zM219.8 728.7H225.6V732.3H219.8zM133.2 725H139V728.7H133.2zM219.8 725H225.6V728.7H219.8zM127.4 721.4H133.2V725H127.4zM127.4 710.4H133.2V714H127.4zM127.4 706.7H133.2V710.4H127.4zM127.4 703H133.2V706.7H127.4zM127.4 699.4H133.2V703H127.4zM127.4 695.7H133.2V699.4H127.4zM127.4 684.7H133.2V688.4H127.4zM121.7 677.4H127.4V681.1H121.7zM121.7 670.1H127.4V673.7H121.7zM98.6 666.4H104.3V670.1H98.6zM121.7 666.4H127.4V670.1H121.7zM121.7 662.8H127.4V666.4H121.7zM121.7 659.1H127.4V662.8H121.7z"/><path fill="#ff7b40" d="M231.4 816.6H237.2V820.2H231.4zM231.4 812.9H237.2V816.6H231.4zM173.6 779.9H185.2V783.6H173.6zM237.2 779.9H242.9V783.6H237.2zM162.1 776.3H167.8V779.9H162.1zM173.6 776.3H191V779.9H173.6zM237.2 776.3H242.9V779.9H237.2zM162.1 772.6H167.8V776.3H162.1zM173.6 772.6H179.4V776.3H173.6zM185.2 772.6H191V776.3H185.2zM162.1 769H167.8V772.6H162.1zM185.2 769H196.7V772.6H185.2zM156.3 765.3H173.6V769H156.3zM191 765.3H202.5V769H191zM167.8 761.6H173.6V765.3H167.8zM191 761.6H202.5V765.3H191zM156.3 758H162.1V761.6H156.3zM167.8 758H173.6V761.6H167.8zM196.7 758H202.5V761.6H196.7zM156.3 754.3H162.1V758H156.3zM196.7 754.3H202.5V758H196.7zM150.5 750.7H156.3V754.3H150.5zM202.5 750.7H208.3V754.3H202.5zM139 747H156.3V750.7H139zM208.3 747H214.1V750.7H208.3zM139 743.3H144.8V747H139zM150.5 743.3H156.3V747H150.5zM202.5 743.3H219.8V747H202.5zM225.6 743.3H231.4V747H225.6zM139 739.7H156.3V743.3H139zM202.5 739.7H219.8V743.3H202.5zM139 736H150.5V739.7H139zM208.3 736H219.8V739.7H208.3zM225.6 736H231.4V739.7H225.6zM144.8 732.3H150.5V736H144.8zM208.3 732.3H219.8V736H208.3zM225.6 732.3H231.4V736H225.6zM133.2 728.7H139V732.3H133.2zM144.8 728.7H150.5V732.3H144.8zM208.3 728.7H219.8V732.3H208.3zM225.6 728.7H231.4V732.3H225.6zM225.6 725H231.4V728.7H225.6zM133.2 721.4H139V725H133.2zM208.3 721.4H214.1V725H208.3zM219.8 721.4H225.6V725H219.8zM133.2 717.7H139V721.4H133.2zM214.1 717.7H225.6V721.4H214.1zM133.2 714H139V717.7H133.2zM219.8 714H231.4V717.7H219.8zM133.2 710.4H139V714H133.2zM219.8 710.4H225.6V714H219.8zM133.2 706.7H139V710.4H133.2zM219.8 706.7H225.6V710.4H219.8zM219.8 703H225.6V706.7H219.8zM219.8 695.7H225.6V699.4H219.8zM127.4 692.1H133.2V695.7H127.4zM219.8 692.1H225.6V695.7H219.8zM127.4 688.4H133.2V692.1H127.4zM127.4 681.1H133.2V684.7H127.4zM127.4 677.4H133.2V681.1H127.4zM127.4 673.7H133.2V677.4H127.4zM127.4 670.1H133.2V673.7H127.4zM127.4 666.4H133.2V670.1H127.4zM127.4 662.8H133.2V666.4H127.4zM127.4 659.1H133.2V662.8H127.4z"/><path fill="#ff6f39" d="M179.4 772.6H185.2V776.3H179.4zM237.2 772.6H242.9V776.3H237.2zM173.6 769H185.2V772.6H173.6zM237.2 769H242.9V772.6H237.2zM173.6 765.3H179.4V769H173.6zM185.2 765.3H191V769H185.2zM237.2 765.3H242.9V769H237.2zM162.1 761.6H167.8V765.3H162.1zM173.6 761.6H179.4V765.3H173.6zM185.2 761.6H191V765.3H185.2zM162.1 758H167.8V761.6H162.1zM185.2 758H196.7V761.6H185.2zM167.8 754.3H173.6V758H167.8zM185.2 754.3H196.7V758H185.2zM156.3 750.7H162.1V754.3H156.3zM167.8 750.7H173.6V754.3H167.8zM196.7 750.7H202.5V754.3H196.7zM156.3 747H162.1V750.7H156.3zM196.7 747H208.3V750.7H196.7zM156.3 743.3H162.1V747H156.3zM196.7 743.3H202.5V747H196.7zM156.3 739.7H162.1V743.3H156.3zM150.5 736H156.3V739.7H150.5zM202.5 736H208.3V739.7H202.5zM139 732.3H144.8V736H139zM150.5 732.3H156.3V736H150.5zM202.5 732.3H208.3V736H202.5zM139 728.7H144.8V732.3H139zM150.5 728.7H156.3V732.3H150.5zM202.5 728.7H208.3V732.3H202.5zM139 725H156.3V728.7H139zM202.5 725H219.8V728.7H202.5zM139 721.4H156.3V725H139zM202.5 721.4H208.3V725H202.5zM214.1 721.4H219.8V725H214.1zM225.6 721.4H231.4V725H225.6zM139 717.7H156.3V721.4H139zM208.3 717.7H214.1V721.4H208.3zM225.6 717.7H231.4V721.4H225.6zM139 714H150.5V717.7H139zM208.3 714H219.8V717.7H208.3zM144.8 710.4H150.5V714H144.8zM208.3 710.4H219.8V714H208.3zM225.6 710.4H231.4V714H225.6zM208.3 706.7H219.8V710.4H208.3zM225.6 706.7H231.4V710.4H225.6zM133.2 703H139V706.7H133.2zM225.6 703H231.4V706.7H225.6zM133.2 699.4H139V703H133.2zM208.3 699.4H214.1V703H208.3zM219.8 699.4H231.4V703H219.8zM133.2 695.7H139V699.4H133.2zM133.2 692.1H139V695.7H133.2zM225.6 692.1H231.4V695.7H225.6zM133.2 688.4H139V692.1H133.2zM219.8 688.4H225.6V692.1H219.8zM133.2 684.7H139V688.4H133.2zM219.8 684.7H225.6V688.4H219.8zM133.2 681.1H139V684.7H133.2zM219.8 681.1H225.6V684.7H219.8zM133.2 677.4H139V681.1H133.2zM219.8 677.4H225.6V681.1H219.8zM219.8 673.7H225.6V677.4H219.8zM219.8 670.1H225.6V673.7H219.8zM133.2 666.4H139V670.1H133.2zM219.8 659.1H225.6V662.8H219.8z"/><path fill="#ff6232" d="M231.4 809.2H237.2V812.9H231.4zM231.4 805.6H237.2V809.2H231.4zM179.4 765.3H185.2V769H179.4zM179.4 761.6H185.2V765.3H179.4zM237.2 761.6H242.9V765.3H237.2zM173.6 758H185.2V761.6H173.6zM237.2 758H242.9V761.6H237.2zM162.1 754.3H167.8V758H162.1zM173.6 754.3H179.4V758H173.6zM237.2 754.3H242.9V758H237.2zM162.1 750.7H167.8V754.3H162.1zM173.6 750.7H179.4V754.3H173.6zM185.2 750.7H196.7V754.3H185.2zM162.1 747H173.6V750.7H162.1zM185.2 747H196.7V750.7H185.2zM162.1 743.3H173.6V747H162.1zM185.2 743.3H196.7V747H185.2zM162.1 739.7H173.6V743.3H162.1zM191 739.7H202.5V743.3H191zM156.3 736H162.1V739.7H156.3zM167.8 736H173.6V739.7H167.8zM191 736H202.5V739.7H191zM156.3 732.3H162.1V736H156.3zM167.8 732.3H173.6V736H167.8zM196.7 732.3H202.5V736H196.7zM156.3 728.7H162.1V732.3H156.3zM196.7 728.7H202.5V732.3H196.7zM156.3 725H162.1V728.7H156.3zM156.3 721.4H162.1V725H156.3zM196.7 721.4H202.5V725H196.7zM156.3 717.7H162.1V721.4H156.3zM196.7 717.7H208.3V721.4H196.7zM150.5 714H162.1V717.7H150.5zM202.5 714H208.3V717.7H202.5zM139 710.4H144.8V714H139zM150.5 710.4H156.3V714H150.5zM202.5 710.4H208.3V714H202.5zM139 706.7H156.3V710.4H139zM202.5 706.7H208.3V710.4H202.5zM139 703H156.3V706.7H139zM202.5 703H219.8V706.7H202.5zM144.8 699.4H156.3V703H144.8zM214.1 699.4H219.8V703H214.1zM139 695.7H150.5V699.4H139zM202.5 695.7H219.8V699.4H202.5zM225.6 695.7H231.4V699.4H225.6zM144.8 692.1H150.5V695.7H144.8zM208.3 692.1H219.8V695.7H208.3zM144.8 688.4H156.3V692.1H144.8zM208.3 688.4H219.8V692.1H208.3zM225.6 688.4H231.4V692.1H225.6zM139 684.7H150.5V688.4H139zM208.3 684.7H219.8V688.4H208.3zM225.6 684.7H231.4V688.4H225.6zM144.8 681.1H150.5V684.7H144.8zM208.3 681.1H219.8V684.7H208.3zM225.6 681.1H231.4V684.7H225.6zM144.8 677.4H150.5V681.1H144.8zM214.1 677.4H219.8V681.1H214.1zM225.6 677.4H231.4V681.1H225.6zM133.2 673.7H150.5V677.4H133.2zM214.1 673.7H219.8V677.4H214.1zM225.6 673.7H231.4V677.4H225.6zM133.2 670.1H139V673.7H133.2zM144.8 670.1H150.5V673.7H144.8zM208.3 670.1H219.8V673.7H208.3zM225.6 670.1H231.4V673.7H225.6zM144.8 666.4H150.5V670.1H144.8zM208.3 666.4H231.4V670.1H208.3zM133.2 662.8H139V666.4H133.2zM208.3 662.8H214.1V666.4H208.3zM219.8 662.8H231.4V666.4H219.8zM133.2 659.1H139V662.8H133.2zM208.3 659.1H219.8V662.8H208.3z"/><path fill="#ff542b" d="M231.4 801.9H237.2V805.6H231.4zM231.4 798.3H237.2V801.9H231.4zM179.4 754.3H185.2V758H179.4zM179.4 750.7H185.2V754.3H179.4zM237.2 750.7H242.9V754.3H237.2zM173.6 747H185.2V750.7H173.6zM237.2 747H242.9V750.7H237.2zM173.6 743.3H185.2V747H173.6zM237.2 743.3H242.9V747H237.2zM173.6 739.7H179.4V743.3H173.6zM185.2 739.7H191V743.3H185.2zM237.2 739.7H242.9V743.3H237.2zM162.1 736H167.8V739.7H162.1zM185.2 736H191V739.7H185.2zM162.1 732.3H167.8V736H162.1zM185.2 732.3H196.7V736H185.2zM162.1 728.7H173.6V732.3H162.1zM185.2 728.7H196.7V732.3H185.2zM162.1 725H173.6V728.7H162.1zM185.2 725H202.5V728.7H185.2zM162.1 721.4H173.6V725H162.1zM191 721.4H196.7V725H191zM167.8 717.7H173.6V721.4H167.8zM191 717.7H196.7V721.4H191zM167.8 714H173.6V717.7H167.8zM191 714H202.5V717.7H191zM156.3 710.4H162.1V714H156.3zM191 710.4H202.5V714H191zM156.3 706.7H162.1V710.4H156.3zM167.8 706.7H173.6V710.4H167.8zM191 706.7H202.5V710.4H191zM156.3 703H162.1V706.7H156.3zM167.8 703H173.6V706.7H167.8zM196.7 703H202.5V706.7H196.7zM139 699.4H144.8V703H139zM156.3 699.4H162.1V703H156.3zM196.7 699.4H208.3V703H196.7zM150.5 695.7H162.1V699.4H150.5zM196.7 695.7H202.5V699.4H196.7zM139 692.1H144.8V695.7H139zM150.5 692.1H162.1V695.7H150.5zM202.5 692.1H208.3V695.7H202.5zM139 688.4H144.8V692.1H139zM202.5 688.4H208.3V692.1H202.5zM150.5 684.7H162.1V688.4H150.5zM202.5 684.7H208.3V688.4H202.5zM139 681.1H144.8V684.7H139zM150.5 681.1H156.3V684.7H150.5zM196.7 681.1H208.3V684.7H196.7zM139 677.4H144.8V681.1H139zM150.5 677.4H156.3V681.1H150.5zM202.5 677.4H214.1V681.1H202.5zM150.5 673.7H162.1V677.4H150.5zM208.3 673.7H214.1V677.4H208.3zM139 670.1H144.8V673.7H139zM150.5 670.1H156.3V673.7H150.5zM202.5 670.1H208.3V673.7H202.5zM139 666.4H144.8V670.1H139zM150.5 666.4H156.3V670.1H150.5zM202.5 666.4H208.3V670.1H202.5zM139 662.8H156.3V666.4H139zM202.5 662.8H208.3V666.4H202.5zM214.1 662.8H219.8V666.4H214.1zM139 659.1H156.3V662.8H139zM202.5 659.1H208.3V662.8H202.5zM225.6 659.1H231.4V662.8H225.6z"/><path fill="#ff4724" d="M231.4 794.6H237.2V798.3H231.4zM231.4 790.9H237.2V794.6H231.4zM179.4 739.7H185.2V743.3H179.4zM173.6 736H185.2V739.7H173.6zM237.2 736H242.9V739.7H237.2zM173.6 732.3H185.2V736H173.6zM237.2 732.3H242.9V736H237.2zM173.6 728.7H185.2V732.3H173.6zM237.2 728.7H242.9V732.3H237.2zM173.6 725H179.4V728.7H173.6zM237.2 725H242.9V728.7H237.2zM173.6 721.4H179.4V725H173.6zM185.2 721.4H191V725H185.2zM237.2 721.4H242.9V725H237.2zM162.1 717.7H167.8V721.4H162.1zM173.6 717.7H179.4V721.4H173.6zM185.2 717.7H191V721.4H185.2zM237.2 717.7H242.9V721.4H237.2zM162.1 714H167.8V717.7H162.1zM185.2 714H191V717.7H185.2zM237.2 714H242.9V717.7H237.2zM162.1 710.4H173.6V714H162.1zM185.2 710.4H191V714H185.2zM237.2 710.4H242.9V714H237.2zM162.1 706.7H167.8V710.4H162.1zM185.2 706.7H191V710.4H185.2zM191 703H196.7V706.7H191zM162.1 699.4H173.6V703H162.1zM185.2 699.4H196.7V703H185.2zM167.8 695.7H173.6V699.4H167.8zM191 695.7H196.7V699.4H191zM162.1 692.1H173.6V695.7H162.1zM191 692.1H202.5V695.7H191zM156.3 688.4H162.1V692.1H156.3zM167.8 688.4H173.6V692.1H167.8zM191 688.4H202.5V692.1H191zM167.8 684.7H173.6V688.4H167.8zM196.7 684.7H202.5V688.4H196.7zM156.3 681.1H162.1V684.7H156.3zM167.8 681.1H173.6V684.7H167.8zM156.3 677.4H162.1V681.1H156.3zM167.8 677.4H173.6V681.1H167.8zM191 677.4H202.5V681.1H191zM191 673.7H208.3V677.4H191zM156.3 670.1H162.1V673.7H156.3zM196.7 670.1H202.5V673.7H196.7zM156.3 666.4H162.1V670.1H156.3zM196.7 666.4H202.5V670.1H196.7zM156.3 662.8H162.1V666.4H156.3zM196.7 662.8H202.5V666.4H196.7zM156.3 659.1H162.1V662.8H156.3zM196.7 659.1H202.5V662.8H196.7z"/><path fill="#ff391d" d="M231.4 787.3H237.2V790.9H231.4zM179.4 725H185.2V728.7H179.4zM179.4 721.4H185.2V725H179.4zM179.4 717.7H185.2V721.4H179.4zM173.6 714H185.2V717.7H173.6zM173.6 710.4H185.2V714H173.6zM173.6 706.7H185.2V710.4H173.6zM237.2 706.7H242.9V710.4H237.2zM162.1 703H167.8V706.7H162.1zM173.6 703H179.4V706.7H173.6zM185.2 703H191V706.7H185.2zM237.2 703H242.9V706.7H237.2zM173.6 699.4H185.2V703H173.6zM237.2 699.4H242.9V703H237.2zM162.1 695.7H167.8V699.4H162.1zM173.6 695.7H179.4V699.4H173.6zM185.2 695.7H191V699.4H185.2zM237.2 695.7H242.9V699.4H237.2zM185.2 692.1H191V695.7H185.2zM237.2 692.1H242.9V695.7H237.2zM162.1 688.4H167.8V692.1H162.1zM173.6 688.4H179.4V692.1H173.6zM185.2 688.4H191V692.1H185.2zM237.2 688.4H242.9V692.1H237.2zM162.1 684.7H167.8V688.4H162.1zM173.6 684.7H179.4V688.4H173.6zM185.2 684.7H196.7V688.4H185.2zM162.1 681.1H167.8V684.7H162.1zM173.6 681.1H179.4V684.7H173.6zM185.2 681.1H196.7V684.7H185.2zM162.1 677.4H167.8V681.1H162.1zM173.6 677.4H179.4V681.1H173.6zM185.2 677.4H191V681.1H185.2zM162.1 673.7H173.6V677.4H162.1zM185.2 673.7H191V677.4H185.2zM167.8 670.1H173.6V673.7H167.8zM185.2 670.1H196.7V673.7H185.2zM162.1 666.4H173.6V670.1H162.1zM191 666.4H196.7V670.1H191zM162.1 662.8H173.6V666.4H162.1zM185.2 662.8H196.7V666.4H185.2zM162.1 659.1H173.6V662.8H162.1zM191 659.1H196.7V662.8H191z"/><path fill="#ff2b15" d="M231.4 783.6H237.2V787.3H231.4zM231.4 779.9H237.2V783.6H231.4zM231.4 776.3H237.2V779.9H231.4zM179.4 703H185.2V706.7H179.4zM179.4 695.7H185.2V699.4H179.4zM173.6 692.1H185.2V695.7H173.6zM179.4 688.4H185.2V692.1H179.4zM179.4 684.7H185.2V688.4H179.4zM237.2 684.7H242.9V688.4H237.2zM179.4 681.1H185.2V684.7H179.4zM237.2 681.1H242.9V684.7H237.2zM179.4 677.4H185.2V681.1H179.4zM237.2 677.4H242.9V681.1H237.2zM173.6 673.7H185.2V677.4H173.6zM237.2 673.7H242.9V677.4H237.2zM162.1 670.1H167.8V673.7H162.1zM173.6 670.1H185.2V673.7H173.6zM237.2 670.1H242.9V673.7H237.2zM173.6 666.4H179.4V670.1H173.6zM185.2 666.4H191V670.1H185.2zM237.2 666.4H242.9V670.1H237.2zM173.6 662.8H179.4V666.4H173.6zM237.2 662.8H242.9V666.4H237.2zM173.6 659.1H179.4V662.8H173.6zM185.2 659.1H191V662.8H185.2zM237.2 659.1H242.9V662.8H237.2z"/><path fill="#ff1d0e" d="M231.4 772.6H237.2V776.3H231.4zM231.4 769H237.2V772.6H231.4zM231.4 765.3H237.2V769H231.4zM179.4 666.4H185.2V670.1H179.4zM179.4 662.8H185.2V666.4H179.4zM179.4 659.1H185.2V662.8H179.4z"/><path fill="#ff0e07" d="M231.4 761.6H237.2V765.3H231.4zM231.4 758H237.2V761.6H231.4zM231.4 754.3H237.2V758H231.4z"/><path fill="#ff0000" d="M231.4 750.7H237.2V754.3H231.4zM231.4 747H237.2V750.7H231.4zM231.4 743.3H237.2V747H231.4zM231.4 739.7H237.2V743.3H231.4zM231.4 736H237.2V739.7H231.4zM231.4 732.3H237.2V736H231.4zM231.4 728.7H237.2V732.3H231.4zM231.4 725H237.2V728.7H231.4zM231.4 721.4H237.2V725H231.4zM231.4 717.7H237.2V721.4H231.4zM231.4 714H237.2V717.7H231.4zM231.4 710.4H237.2V714H231.4zM231.4 706.7H237.2V710.4H231.4zM231.4 703H237.2V706.7H231.4zM231.4 699.4H237.2V703H231.4zM231.4 695.7H237.2V699.4H231.4zM231.4 692.1H237.2V695.7H231.4zM231.4 688.4H237.2V692.1H231.4zM231.4 684.7H237.2V688.4H231.4zM231.4 681.1H237.2V684.7H231.4zM231.4 677.4H237.2V681.1H231.4zM231.4 673.7H237.2V677.4H231.4zM231.4 670.1H237.2V673.7H231.4zM231.4 666.4H237.2V670.1H231.4zM231.4 662.8H237.2V666.4H231.4zM231.4 659.1H237.2V662.8H231.4z"/></g>
<g clip-path="url(#c21)" shape-rendering="crispEdges"><path fill="#1b94f3" d="M594.8 609H600.7V615.9H594.8zM636 449.7H641.9V456.6H636zM636 442.8H641.9V449.7H636z"/><path fill="#129ff1" d="M441.8 609H447.7V615.9H441.8zM636 456.6H641.9V463.5H636z"/><path fill="#09aaee" d="M636 463.5H641.9V470.5H636z"/><path fill="#00b4ec" d="M636 470.5H641.9V477.4H636z"/><path fill="#09bee9" d="M512.4 609H524.2V615.9H512.4zM624.2 609H630.1V615.9H624.2zM636 609H641.9V615.9H636zM636 477.4H641.9V484.3H636zM612.5 442.8H618.3V449.7H612.5zM624.2 442.8H636V449.7H624.2z"/><path fill="#12c7e6" d="M430 609H435.9V615.9H430zM612.5 456.6H624.2V463.5H612.5zM630.1 456.6H636V463.5H630.1zM600.7 449.7H636V456.6H600.7zM571.3 442.8H577.1V449.7H571.3zM588.9 442.8H612.5V449.7H588.9zM618.3 442.8H624.2V449.7H618.3z"/><path fill="#1bd0e3" d="M418.2 609H430V615.9H418.2zM612.5 609H618.3V615.9H612.5zM630.1 609H636V615.9H630.1zM636 484.3H641.9V491.2H636zM618.3 463.5H636V470.5H618.3zM588.9 456.6H612.5V463.5H588.9zM624.2 456.6H630.1V463.5H624.2zM571.3 449.7H600.7V456.6H571.3zM577.1 442.8H588.9V449.7H577.1z"/><path fill="#24d8df" d="M465.3 609H471.2V615.9H465.3zM483 609H488.9V615.9H483zM565.4 609H571.3V615.9H565.4zM583 609H588.9V615.9H583zM600.7 609H612.5V615.9H600.7zM636 491.2H641.9V498.2H636zM618.3 470.5H636V477.4H618.3zM571.3 463.5H583V470.5H571.3zM588.9 463.5H618.3V470.5H588.9zM571.3 456.6H588.9V463.5H571.3z"/><path fill="#2edfdc" d="M388.8 609H418.2V615.9H388.8zM447.7 609H459.4V615.9H447.7zM471.2 609H477.1V615.9H471.2zM500.6 609H506.5V615.9H500.6zM571.3 609H577.1V615.9H571.3zM588.9 609H594.8V615.9H588.9zM618.3 609H624.2V615.9H618.3zM636 498.2H641.9V505.1H636zM624.2 477.4H636V484.3H624.2zM571.3 470.5H577.1V477.4H571.3zM583 470.5H618.3V477.4H583zM583 463.5H588.9V470.5H583z"/><path fill="#37e6d8" d="M365.3 609H371.2V615.9H365.3zM435.9 609H441.8V615.9H435.9zM459.4 609H465.3V615.9H459.4zM477.1 609H483V615.9H477.1zM488.9 609H494.8V615.9H488.9zM506.5 609H512.4V615.9H506.5zM535.9 609H541.8V615.9H535.9zM547.7 609H565.4V615.9H547.7zM577.1 609H583V615.9H577.1zM636 602H641.9V609H636zM630.1 484.3H636V491.2H630.1zM588.9 477.4H624.2V484.3H588.9zM577.1 470.5H583V477.4H577.1z"/><path fill="#40ecd4" d="M371.2 609H388.8V615.9H371.2zM494.8 609H500.6V615.9H494.8zM541.8 609H547.7V615.9H541.8zM636 505.1H641.9V512H636zM630.1 491.2H636V498.2H630.1zM594.8 484.3H630.1V491.2H594.8zM571.3 477.4H588.9V484.3H571.3z"/><path fill="#49f1d0" d="M524.2 609H535.9V615.9H524.2zM636 512H641.9V518.9H636zM600.7 491.2H630.1V498.2H600.7zM571.3 484.3H594.8V491.2H571.3z"/><path fill="#52f5cc" d="M359.4 609H365.3V615.9H359.4zM612.5 602H636V609H612.5zM636 518.9H641.9V525.9H636zM606.6 498.2H636V505.1H606.6zM571.3 491.2H600.7V498.2H571.3z"/><path fill="#5bf9c7" d="M577.1 602H583V609H577.1zM594.8 602H612.5V609H594.8zM636 595.1H641.9V602H636zM624.2 505.1H636V512H624.2zM571.3 498.2H606.6V505.1H571.3zM547.7 463.5H565.4V470.5H547.7zM535.9 456.6H547.7V463.5H535.9zM553.6 456.6H571.3V463.5H553.6zM518.3 449.7H524.2V456.6H518.3zM535.9 449.7H571.3V456.6H535.9zM512.4 442.8H571.3V449.7H512.4z"/><path fill="#64fbc3" d="M571.3 602H577.1V609H571.3zM583 602H594.8V609H583zM636 525.9H641.9V532.8H636zM583 505.1H588.9V512H583zM594.8 505.1H624.2V512H594.8zM553.6 477.4H559.5V484.3H553.6zM565.4 477.4H571.3V484.3H565.4zM530.1 470.5H535.9V477.4H530.1zM541.8 470.5H571.3V477.4H541.8zM488.9 463.5H494.8V470.5H488.9zM506.5 463.5H547.7V470.5H506.5zM565.4 463.5H571.3V470.5H565.4zM483 456.6H488.9V463.5H483zM494.8 456.6H535.9V463.5H494.8zM547.7 456.6H553.6V463.5H547.7zM465.3 449.7H471.2V456.6H465.3zM477.1 449.7H518.3V456.6H477.1zM524.2 449.7H535.9V456.6H524.2zM453.6 442.8H512.4V449.7H453.6z"/><path fill="#6dfdbe" d="M588.9 512H636V518.9H588.9zM571.3 505.1H583V512H571.3zM588.9 505.1H594.8V512H588.9zM565.4 484.3H571.3V491.2H565.4zM518.3 477.4H553.6V484.3H518.3zM559.5 477.4H565.4V484.3H559.5zM477.1 470.5H483V477.4H477.1zM488.9 470.5H530.1V477.4H488.9zM535.9 470.5H541.8V477.4H535.9zM459.4 463.5H465.3V470.5H459.4zM471.2 463.5H488.9V470.5H471.2zM494.8 463.5H506.5V470.5H494.8zM441.8 456.6H453.6V463.5H441.8zM459.4 456.6H483V463.5H459.4zM488.9 456.6H494.8V463.5H488.9zM441.8 449.7H465.3V456.6H441.8zM471.2 449.7H477.1V456.6H471.2zM424.1 442.8H453.6V449.7H424.1z"/><path fill="#76ffb9" d="M424.1 602H430V609H424.1zM435.9 602H441.8V609H435.9zM447.7 602H483V609H447.7zM494.8 602H500.6V609H494.8zM541.8 602H547.7V609H541.8zM553.6 602H571.3V609H553.6zM618.3 595.1H636V602H618.3zM636 532.8H641.9V539.7H636zM612.5 518.9H636V525.9H612.5zM571.3 512H588.9V518.9H571.3zM530.1 491.2H535.9V498.2H530.1zM547.7 491.2H571.3V498.2H547.7zM488.9 484.3H506.5V491.2H488.9zM512.4 484.3H565.4V491.2H512.4zM459.4 477.4H471.2V484.3H459.4zM477.1 477.4H518.3V484.3H477.1zM447.7 470.5H477.1V477.4H447.7zM483 470.5H488.9V477.4H483zM435.9 463.5H459.4V470.5H435.9zM465.3 463.5H471.2V470.5H465.3zM412.4 456.6H441.8V463.5H412.4zM453.6 456.6H459.4V463.5H453.6zM412.4 449.7H441.8V456.6H412.4zM400.6 442.8H424.1V449.7H400.6z"/><path fill="#80ffb4" d="M412.4 602H424.1V609H412.4zM430 602H435.9V609H430zM441.8 602H447.7V609H441.8zM483 602H494.8V609H483zM500.6 602H512.4V609H500.6zM530.1 602H541.8V609H530.1zM547.7 602H553.6V609H547.7zM583 595.1H588.9V602H583zM594.8 595.1H618.3V602H594.8zM636 539.7H641.9V546.6H636zM624.2 525.9H636V532.8H624.2zM571.3 518.9H612.5V525.9H571.3zM535.9 498.2H541.8V505.1H535.9zM547.7 498.2H571.3V505.1H547.7zM483 491.2H530.1V498.2H483zM535.9 491.2H547.7V498.2H535.9zM465.3 484.3H488.9V491.2H465.3zM506.5 484.3H512.4V491.2H506.5zM435.9 477.4H459.4V484.3H435.9zM471.2 477.4H477.1V484.3H471.2zM424.1 470.5H447.7V477.4H424.1zM412.4 463.5H435.9V470.5H412.4zM400.6 456.6H412.4V463.5H400.6zM394.7 449.7H412.4V456.6H394.7zM388.8 442.8H400.6V449.7H388.8z"/><path fill="#89ffaf" d="M388.8 602H412.4V609H388.8zM512.4 602H530.1V609H512.4zM571.3 595.1H583V602H571.3zM588.9 595.1H594.8V602H588.9zM636 588.2H641.9V595.1H636zM577.1 525.9H583V532.8H577.1zM594.8 525.9H624.2V532.8H594.8zM565.4 512H571.3V518.9H565.4zM518.3 505.1H530.1V512H518.3zM541.8 505.1H571.3V512H541.8zM500.6 498.2H535.9V505.1H500.6zM541.8 498.2H547.7V505.1H541.8zM453.6 491.2H483V498.2H453.6zM447.7 484.3H465.3V491.2H447.7zM430 477.4H435.9V484.3H430zM412.4 470.5H424.1V477.4H412.4zM394.7 463.5H412.4V470.5H394.7zM388.8 456.6H400.6V463.5H388.8zM382.9 449.7H394.7V456.6H382.9zM382.9 442.8H388.8V449.7H382.9z"/><path fill="#92fdaa" d="M382.9 602H388.8V609H382.9zM636 546.6H641.9V553.6H636zM606.6 532.8H636V539.7H606.6zM571.3 525.9H577.1V532.8H571.3zM583 525.9H594.8V532.8H583zM524.2 512H565.4V518.9H524.2zM483 505.1H494.8V512H483zM500.6 505.1H518.3V512H500.6zM530.1 505.1H541.8V512H530.1zM471.2 498.2H500.6V505.1H471.2zM447.7 491.2H453.6V498.2H447.7zM424.1 484.3H447.7V491.2H424.1zM406.5 477.4H430V484.3H406.5zM394.7 470.5H412.4V477.4H394.7zM388.8 463.5H394.7V470.5H388.8zM382.9 456.6H388.8V463.5H382.9zM377.1 449.7H382.9V456.6H377.1zM377.1 442.8H382.9V449.7H377.1z"/><path fill="#9bfba5" d="M377.1 602H382.9V609H377.1zM547.7 595.1H571.3V602H547.7zM636 581.3H641.9V588.2H636zM636 553.6H641.9V560.5H636zM624.2 539.7H636V546.6H624.2zM577.1 532.8H606.6V539.7H577.1zM541.8 518.9H571.3V525.9H541.8zM494.8 512H524.2V518.9H494.8zM471.2 505.1H483V512H471.2zM494.8 505.1H500.6V512H494.8zM447.7 498.2H471.2V505.1H447.7zM430 491.2H447.7V498.2H430zM418.2 484.3H424.1V491.2H418.2zM394.7 477.4H406.5V484.3H394.7zM382.9 470.5H394.7V477.4H382.9zM382.9 463.5H388.8V470.5H382.9zM377.1 456.6H382.9V463.5H377.1zM371.2 449.7H377.1V456.6H371.2zM371.2 442.8H377.1V449.7H371.2z"/><path fill="#a4f99f" d="M371.2 602H377.1V609H371.2zM471.2 595.1H477.1V602H471.2zM488.9 595.1H506.5V602H488.9zM512.4 595.1H518.3V602H512.4zM524.2 595.1H547.7V602H524.2zM624.2 588.2H636V595.1H624.2zM636 560.5H641.9V567.4H636zM583 539.7H588.9V546.6H583zM594.8 539.7H624.2V546.6H594.8zM571.3 532.8H577.1V539.7H571.3zM553.6 525.9H571.3V532.8H553.6zM500.6 518.9H541.8V525.9H500.6zM465.3 512H494.8V518.9H465.3zM453.6 505.1H471.2V512H453.6zM435.9 498.2H447.7V505.1H435.9zM418.2 491.2H430V498.2H418.2zM406.5 484.3H418.2V491.2H406.5zM388.8 477.4H394.7V484.3H388.8zM377.1 470.5H382.9V477.4H377.1zM371.2 463.5H382.9V470.5H371.2zM365.3 456.6H377.1V463.5H365.3zM365.3 449.7H371.2V456.6H365.3zM359.4 442.8H371.2V449.7H359.4z"/><path fill="#adf599" d="M365.3 602H371.2V609H365.3zM441.8 595.1H447.7V602H441.8zM453.6 595.1H471.2V602H453.6zM477.1 595.1H488.9V602H477.1zM506.5 595.1H512.4V602H506.5zM518.3 595.1H524.2V602H518.3zM600.7 588.2H624.2V595.1H600.7zM636 574.3H641.9V581.3H636zM636 567.4H641.9V574.3H636zM606.6 546.6H636V553.6H606.6zM571.3 539.7H583V546.6H571.3zM588.9 539.7H594.8V546.6H588.9zM565.4 532.8H571.3V539.7H565.4zM506.5 525.9H553.6V532.8H506.5zM471.2 518.9H500.6V525.9H471.2zM447.7 512H465.3V518.9H447.7zM441.8 505.1H453.6V512H441.8zM424.1 498.2H435.9V505.1H424.1zM406.5 491.2H418.2V498.2H406.5zM394.7 484.3H406.5V491.2H394.7zM382.9 477.4H388.8V484.3H382.9zM359.4 456.6H365.3V463.5H359.4zM359.4 449.7H365.3V456.6H359.4z"/><path fill="#b6f194" d="M359.4 602H365.3V609H359.4zM424.1 595.1H430V602H424.1zM435.9 595.1H441.8V602H435.9zM447.7 595.1H453.6V602H447.7zM571.3 588.2H600.7V595.1H571.3zM618.3 581.3H630.1V588.2H618.3zM630.1 553.6H636V560.5H630.1zM588.9 546.6H606.6V553.6H588.9zM518.3 532.8H565.4V539.7H518.3zM477.1 525.9H506.5V532.8H477.1zM453.6 518.9H471.2V525.9H453.6zM441.8 512H447.7V518.9H441.8zM430 505.1H441.8V512H430zM412.4 498.2H424.1V505.1H412.4zM400.6 491.2H406.5V498.2H400.6zM388.8 484.3H394.7V491.2H388.8zM377.1 477.4H382.9V484.3H377.1zM365.3 470.5H377.1V477.4H365.3zM359.4 463.5H371.2V470.5H359.4z"/><path fill="#bfec8e" d="M418.2 595.1H424.1V602H418.2zM430 595.1H435.9V602H430zM588.9 581.3H594.8V588.2H588.9zM600.7 581.3H618.3V588.2H600.7zM630.1 581.3H636V588.2H630.1zM618.3 574.3H636V581.3H618.3zM618.3 567.4H624.2V574.3H618.3zM630.1 567.4H636V574.3H630.1zM612.5 560.5H618.3V567.4H612.5zM624.2 560.5H636V567.4H624.2zM588.9 553.6H630.1V560.5H588.9zM571.3 546.6H588.9V553.6H571.3zM547.7 539.7H571.3V546.6H547.7zM500.6 532.8H518.3V539.7H500.6zM459.4 525.9H477.1V532.8H459.4zM447.7 518.9H453.6V525.9H447.7zM435.9 512H441.8V518.9H435.9zM424.1 505.1H430V512H424.1zM406.5 498.2H412.4V505.1H406.5zM394.7 491.2H400.6V498.2H394.7zM382.9 484.3H388.8V491.2H382.9zM371.2 477.4H377.1V484.3H371.2zM359.4 470.5H365.3V477.4H359.4z"/><path fill="#c8e688" d="M406.5 595.1H418.2V602H406.5zM547.7 588.2H571.3V595.1H547.7zM571.3 581.3H588.9V588.2H571.3zM594.8 581.3H600.7V588.2H594.8zM594.8 574.3H618.3V581.3H594.8zM594.8 567.4H600.7V574.3H594.8zM606.6 567.4H618.3V574.3H606.6zM624.2 567.4H630.1V574.3H624.2zM577.1 560.5H612.5V567.4H577.1zM618.3 560.5H624.2V567.4H618.3zM571.3 553.6H588.9V560.5H571.3zM559.5 546.6H565.4V553.6H559.5zM524.2 539.7H547.7V546.6H524.2zM471.2 532.8H500.6V539.7H471.2zM453.6 525.9H459.4V532.8H453.6zM435.9 518.9H447.7V525.9H435.9zM424.1 512H435.9V518.9H424.1zM412.4 505.1H424.1V512H412.4zM400.6 498.2H406.5V505.1H400.6zM388.8 491.2H394.7V498.2H388.8zM377.1 484.3H382.9V491.2H377.1zM365.3 477.4H371.2V484.3H365.3z"/><path fill="#d1df82" d="M394.7 595.1H406.5V602H394.7zM512.4 588.2H518.3V595.1H512.4zM524.2 588.2H547.7V595.1H524.2zM571.3 574.3H594.8V581.3H571.3zM571.3 567.4H594.8V574.3H571.3zM600.7 567.4H606.6V574.3H600.7zM571.3 560.5H577.1V567.4H571.3zM535.9 546.6H541.8V553.6H535.9zM547.7 546.6H559.5V553.6H547.7zM565.4 546.6H571.3V553.6H565.4zM488.9 539.7H524.2V546.6H488.9zM453.6 532.8H471.2V539.7H453.6zM441.8 525.9H453.6V532.8H441.8zM424.1 518.9H435.9V525.9H424.1zM418.2 512H424.1V518.9H418.2zM400.6 505.1H412.4V512H400.6zM388.8 498.2H400.6V505.1H388.8zM382.9 491.2H388.8V498.2H382.9zM371.2 484.3H377.1V491.2H371.2zM359.4 477.4H365.3V484.3H359.4z"/><path fill="#dbd87b" d="M388.8 595.1H394.7V602H388.8zM494.8 588.2H512.4V595.1H494.8zM518.3 588.2H524.2V595.1H518.3zM559.5 581.3H571.3V588.2H559.5zM559.5 553.6H571.3V560.5H559.5zM500.6 546.6H535.9V553.6H500.6zM541.8 546.6H547.7V553.6H541.8zM459.4 539.7H488.9V546.6H459.4zM441.8 532.8H453.6V539.7H441.8zM430 525.9H441.8V532.8H430zM418.2 518.9H424.1V525.9H418.2zM406.5 512H418.2V518.9H406.5zM394.7 505.1H400.6V512H394.7zM377.1 491.2H382.9V498.2H377.1zM365.3 484.3H371.2V491.2H365.3z"/><path fill="#e4d075" d="M382.9 595.1H388.8V602H382.9zM465.3 588.2H494.8V595.1H465.3zM530.1 581.3H559.5V588.2H530.1zM541.8 574.3H547.7V581.3H541.8zM553.6 574.3H571.3V581.3H553.6zM547.7 567.4H553.6V574.3H547.7zM565.4 567.4H571.3V574.3H565.4zM541.8 560.5H571.3V567.4H541.8zM518.3 553.6H559.5V560.5H518.3zM483 546.6H500.6V553.6H483zM453.6 539.7H459.4V546.6H453.6zM435.9 532.8H441.8V539.7H435.9zM418.2 525.9H430V532.8H418.2zM412.4 518.9H418.2V525.9H412.4zM400.6 512H406.5V518.9H400.6zM388.8 505.1H394.7V512H388.8zM382.9 498.2H388.8V505.1H382.9zM371.2 491.2H377.1V498.2H371.2zM359.4 484.3H365.3V491.2H359.4z"/><path fill="#edc76f" d="M377.1 595.1H382.9V602H377.1zM441.8 588.2H465.3V595.1H441.8zM500.6 581.3H530.1V588.2H500.6zM524.2 574.3H541.8V581.3H524.2zM547.7 574.3H553.6V581.3H547.7zM530.1 567.4H547.7V574.3H530.1zM553.6 567.4H565.4V574.3H553.6zM518.3 560.5H541.8V567.4H518.3zM494.8 553.6H518.3V560.5H494.8zM465.3 546.6H483V553.6H465.3zM435.9 539.7H441.8V546.6H435.9zM447.7 539.7H453.6V546.6H447.7zM424.1 532.8H435.9V539.7H424.1zM412.4 525.9H418.2V532.8H412.4zM406.5 518.9H412.4V525.9H406.5zM388.8 512H400.6V518.9H388.8zM382.9 505.1H388.8V512H382.9zM377.1 498.2H382.9V505.1H377.1zM365.3 491.2H371.2V498.2H365.3z"/><path fill="#f6be68" d="M371.2 595.1H377.1V602H371.2zM424.1 588.2H430V595.1H424.1zM435.9 588.2H441.8V595.1H435.9zM483 581.3H500.6V588.2H483zM500.6 574.3H524.2V581.3H500.6zM506.5 567.4H530.1V574.3H506.5zM500.6 560.5H518.3V567.4H500.6zM483 553.6H494.8V560.5H483zM453.6 546.6H465.3V553.6H453.6zM430 539.7H435.9V546.6H430zM441.8 539.7H447.7V546.6H441.8zM418.2 532.8H424.1V539.7H418.2zM406.5 525.9H412.4V532.8H406.5zM394.7 518.9H406.5V525.9H394.7zM371.2 498.2H377.1V505.1H371.2z"/><path fill="#ffb462" d="M418.2 588.2H424.1V595.1H418.2zM430 588.2H435.9V595.1H430zM465.3 581.3H483V588.2H465.3zM477.1 574.3H500.6V581.3H477.1zM477.1 567.4H483V574.3H477.1zM488.9 567.4H506.5V574.3H488.9zM477.1 560.5H500.6V567.4H477.1zM453.6 553.6H483V560.5H453.6zM441.8 546.6H453.6V553.6H441.8zM424.1 539.7H430V546.6H424.1zM412.4 532.8H418.2V539.7H412.4zM400.6 525.9H406.5V532.8H400.6zM388.8 518.9H394.7V525.9H388.8zM382.9 512H388.8V518.9H382.9zM377.1 505.1H382.9V512H377.1zM359.4 491.2H365.3V498.2H359.4z"/><path fill="#ffaa5b" d="M365.3 595.1H371.2V602H365.3zM412.4 588.2H418.2V595.1H412.4zM447.7 581.3H465.3V588.2H447.7zM453.6 574.3H477.1V581.3H453.6zM459.4 567.4H477.1V574.3H459.4zM483 567.4H488.9V574.3H483zM459.4 560.5H477.1V567.4H459.4zM441.8 553.6H453.6V560.5H441.8zM430 546.6H441.8V553.6H430zM412.4 539.7H424.1V546.6H412.4zM406.5 532.8H412.4V539.7H406.5zM394.7 525.9H400.6V532.8H394.7zM382.9 518.9H388.8V525.9H382.9zM377.1 512H382.9V518.9H377.1zM371.2 505.1H377.1V512H371.2zM365.3 498.2H371.2V505.1H365.3z"/><path fill="#ff9f54" d="M359.4 595.1H365.3V602H359.4zM400.6 588.2H412.4V595.1H400.6zM430 581.3H447.7V588.2H430zM441.8 574.3H453.6V581.3H441.8zM447.7 567.4H459.4V574.3H447.7zM447.7 560.5H459.4V567.4H447.7zM435.9 553.6H441.8V560.5H435.9zM418.2 546.6H430V553.6H418.2zM400.6 532.8H406.5V539.7H400.6zM388.8 525.9H394.7V532.8H388.8zM365.3 505.1H371.2V512H365.3zM359.4 498.2H365.3V505.1H359.4z"/><path fill="#ff944d" d="M394.7 588.2H400.6V595.1H394.7zM418.2 581.3H430V588.2H418.2zM435.9 574.3H441.8V581.3H435.9zM435.9 567.4H447.7V574.3H435.9zM430 560.5H447.7V567.4H430zM424.1 553.6H435.9V560.5H424.1zM400.6 539.7H412.4V546.6H400.6zM388.8 532.8H400.6V539.7H388.8zM382.9 525.9H388.8V532.8H382.9zM377.1 518.9H382.9V525.9H377.1zM371.2 512H377.1V518.9H371.2z"/><path fill="#ff8847" d="M388.8 588.2H394.7V595.1H388.8zM424.1 574.3H435.9V581.3H424.1zM424.1 567.4H435.9V574.3H424.1zM418.2 560.5H430V567.4H418.2zM418.2 553.6H424.1V560.5H418.2zM406.5 546.6H418.2V553.6H406.5zM394.7 539.7H400.6V546.6H394.7zM371.2 518.9H377.1V525.9H371.2zM365.3 512H371.2V518.9H365.3zM359.4 505.1H365.3V512H359.4z"/><path fill="#ff7b40" d="M382.9 588.2H388.8V595.1H382.9zM400.6 581.3H418.2V588.2H400.6zM418.2 574.3H424.1V581.3H418.2zM418.2 567.4H424.1V574.3H418.2zM412.4 560.5H418.2V567.4H412.4zM412.4 553.6H418.2V560.5H412.4zM400.6 546.6H406.5V553.6H400.6zM388.8 539.7H394.7V546.6H388.8zM382.9 532.8H388.8V539.7H382.9zM377.1 525.9H382.9V532.8H377.1z"/><path fill="#ff6f39" d="M394.7 581.3H400.6V588.2H394.7zM406.5 574.3H418.2V581.3H406.5zM406.5 567.4H418.2V574.3H406.5zM406.5 560.5H412.4V567.4H406.5zM400.6 553.6H412.4V560.5H400.6zM388.8 546.6H400.6V553.6H388.8zM382.9 539.7H388.8V546.6H382.9zM377.1 532.8H382.9V539.7H377.1zM371.2 525.9H377.1V532.8H371.2zM365.3 518.9H371.2V525.9H365.3zM359.4 512H365.3V518.9H359.4z"/><path fill="#ff6232" d="M371.2 588.2H382.9V595.1H371.2zM388.8 581.3H394.7V588.2H388.8zM400.6 574.3H406.5V581.3H400.6zM400.6 567.4H406.5V574.3H400.6zM400.6 560.5H406.5V567.4H400.6zM394.7 553.6H400.6V560.5H394.7z"/><path fill="#ff542b" d="M394.7 574.3H400.6V581.3H394.7zM394.7 567.4H400.6V574.3H394.7zM394.7 560.5H400.6V567.4H394.7zM388.8 553.6H394.7V560.5H388.8zM382.9 546.6H388.8V553.6H382.9zM377.1 539.7H382.9V546.6H377.1zM371.2 532.8H377.1V539.7H371.2zM365.3 525.9H371.2V532.8H365.3zM359.4 518.9H365.3V525.9H359.4z"/><path fill="#ff4724" d="M365.3 588.2H371.2V595.1H365.3zM382.9 581.3H388.8V588.2H382.9zM388.8 574.3H394.7V581.3H388.8zM388.8 567.4H394.7V574.3H388.8zM388.8 560.5H394.7V567.4H388.8zM382.9 553.6H388.8V560.5H382.9z"/><path fill="#ff391d" d="M377.1 581.3H382.9V588.2H377.1zM382.9 574.3H388.8V581.3H382.9zM382.9 567.4H388.8V574.3H382.9zM382.9 560.5H388.8V567.4H382.9zM377.1 553.6H382.9V560.5H377.1zM377.1 546.6H382.9V553.6H377.1zM371.2 539.7H377.1V546.6H371.2zM365.3 532.8H371.2V539.7H365.3zM359.4 525.9H365.3V532.8H359.4z"/><path fill="#ff2b15" d="M359.4 588.2H365.3V595.1H359.4zM371.2 581.3H377.1V588.2H371.2zM377.1 574.3H382.9V581.3H377.1zM377.1 567.4H382.9V574.3H377.1zM377.1 560.5H382.9V567.4H377.1zM371.2 546.6H377.1V553.6H371.2zM365.3 539.7H371.2V546.6H365.3zM359.4 532.8H365.3V539.7H359.4z"/><path fill="#ff1d0e" d="M365.3 581.3H371.2V588.2H365.3zM371.2 574.3H377.1V581.3H371.2zM371.2 560.5H377.1V567.4H371.2zM371.2 553.6H377.1V560.5H371.2zM365.3 546.6H371.2V553.6H365.3z"/><path fill="#ff0e07" d="M365.3 574.3H371.2V581.3H365.3zM371.2 567.4H377.1V574.3H371.2zM359.4 539.7H365.3V546.6H359.4z"/><path fill="#ff0000" d="M359.4 581.3H365.3V588.2H359.4zM359.4 574.3H365.3V581.3H359.4zM359.4 567.4H371.2V574.3H359.4zM359.4 560.5H371.2V567.4H359.4zM359.4 553.6H371.2V560.5H359.4zM359.4 546.6H365.3V553.6H359.4z"/></g>
<g clip-path="url(#c31)" shape-rendering="crispEdges"><path fill="#760eff" d="M636 838.5H641.9V842.2H636z"/><path fill="#4954fb" d="M600.7 838.5H636V842.2H600.7z"/><path fill="#4062fa" d="M571.3 838.5H600.7V842.2H571.3z"/><path fill="#376ff9" d="M553.6 838.5H571.3V842.2H553.6z"/><path fill="#2e7bf7" d="M530.1 838.5H553.6V842.2H530.1zM636 834.9H641.9V838.5H636z"/><path fill="#2488f5" d="M512.4 838.5H530.1V842.2H512.4z"/><path fill="#1b94f3" d="M494.8 838.5H512.4V842.2H494.8zM636 831.2H641.9V834.9H636z"/><path fill="#129ff1" d="M483 838.5H494.8V842.2H483z"/><path fill="#09aaee" d="M465.3 838.5H483V842.2H465.3zM606.6 834.9H636V838.5H606.6zM636 827.6H641.9V831.2H636z"/><path fill="#00b4ec" d="M459.4 838.5H465.3V842.2H459.4zM571.3 834.9H606.6V838.5H571.3zM636 823.9H641.9V827.6H636zM636 820.2H641.9V823.9H636z"/><path fill="#09bee9" d="M447.7 838.5H459.4V842.2H447.7zM636 816.6H641.9V820.2H636zM636 812.9H641.9V816.6H636zM636 809.2H641.9V812.9H636z"/><path fill="#12c7e6" d="M435.9 838.5H447.7V842.2H435.9zM547.7 834.9H571.3V838.5H547.7zM624.2 831.2H636V834.9H624.2zM636 805.6H641.9V809.2H636zM636 801.9H641.9V805.6H636zM636 798.3H641.9V801.9H636z"/><path fill="#1bd0e3" d="M424.1 838.5H435.9V842.2H424.1zM512.4 834.9H547.7V838.5H512.4zM571.3 831.2H624.2V834.9H571.3zM630.1 827.6H636V831.2H630.1zM636 794.6H641.9V798.3H636zM636 790.9H641.9V794.6H636z"/><path fill="#24d8df" d="M412.4 838.5H424.1V842.2H412.4zM500.6 834.9H512.4V838.5H500.6zM583 827.6H630.1V831.2H583zM636 787.3H641.9V790.9H636zM636 783.6H641.9V787.3H636zM636 779.9H641.9V783.6H636zM636 776.3H641.9V779.9H636zM636 772.6H641.9V776.3H636zM636 769H641.9V772.6H636z"/><path fill="#2edfdc" d="M406.5 838.5H412.4V842.2H406.5zM483 834.9H500.6V838.5H483zM547.7 831.2H553.6V834.9H547.7zM559.5 831.2H571.3V834.9H559.5zM571.3 827.6H583V831.2H571.3zM594.8 823.9H636V827.6H594.8zM624.2 820.2H636V823.9H624.2zM630.1 816.6H636V820.2H630.1zM636 765.3H641.9V769H636zM636 761.6H641.9V765.3H636zM636 758H641.9V761.6H636zM636 754.3H641.9V758H636zM636 750.7H641.9V754.3H636zM636 747H641.9V750.7H636zM636 743.3H641.9V747H636z"/><path fill="#37e6d8" d="M400.6 838.5H406.5V842.2H400.6zM477.1 834.9H483V838.5H477.1zM524.2 831.2H547.7V834.9H524.2zM553.6 831.2H559.5V834.9H553.6zM547.7 827.6H571.3V831.2H547.7zM571.3 823.9H594.8V827.6H571.3zM571.3 820.2H624.2V823.9H571.3zM588.9 816.6H594.8V820.2H588.9zM600.7 816.6H630.1V820.2H600.7zM600.7 812.9H636V816.6H600.7zM612.5 809.2H636V812.9H612.5zM636 739.7H641.9V743.3H636zM636 736H641.9V739.7H636zM636 732.3H641.9V736H636zM636 721.4H641.9V725H636z"/><path fill="#40ecd4" d="M465.3 834.9H477.1V838.5H465.3zM500.6 831.2H524.2V834.9H500.6zM530.1 827.6H547.7V831.2H530.1zM559.5 823.9H571.3V827.6H559.5zM571.3 816.6H588.9V820.2H571.3zM594.8 816.6H600.7V820.2H594.8zM571.3 812.9H600.7V816.6H571.3zM577.1 809.2H612.5V812.9H577.1zM583 805.6H588.9V809.2H583zM594.8 805.6H636V809.2H594.8zM612.5 801.9H618.3V805.6H612.5zM624.2 801.9H636V805.6H624.2zM618.3 798.3H624.2V801.9H618.3zM630.1 798.3H636V801.9H630.1zM630.1 794.6H636V798.3H630.1zM636 728.7H641.9V732.3H636zM636 725H641.9V728.7H636zM636 717.7H641.9V721.4H636zM636 714H641.9V717.7H636zM636 710.4H641.9V714H636zM636 706.7H641.9V710.4H636zM636 703H641.9V706.7H636zM636 699.4H641.9V703H636zM636 695.7H641.9V699.4H636z"/><path fill="#49f1d0" d="M394.7 838.5H400.6V842.2H394.7zM453.6 834.9H465.3V838.5H453.6zM488.9 831.2H500.6V834.9H488.9zM506.5 827.6H530.1V831.2H506.5zM524.2 823.9H559.5V827.6H524.2zM541.8 820.2H553.6V823.9H541.8zM559.5 820.2H571.3V823.9H559.5zM559.5 816.6H571.3V820.2H559.5zM565.4 812.9H571.3V816.6H565.4zM571.3 809.2H577.1V812.9H571.3zM571.3 805.6H583V809.2H571.3zM588.9 805.6H594.8V809.2H588.9zM571.3 801.9H612.5V805.6H571.3zM618.3 801.9H624.2V805.6H618.3zM571.3 798.3H618.3V801.9H571.3zM624.2 798.3H630.1V801.9H624.2zM588.9 794.6H630.1V798.3H588.9zM600.7 790.9H606.6V794.6H600.7zM618.3 790.9H636V794.6H618.3zM624.2 787.3H636V790.9H624.2zM630.1 783.6H636V787.3H630.1zM624.2 779.9H630.1V783.6H624.2zM636 692.1H641.9V695.7H636zM636 688.4H641.9V692.1H636zM636 684.7H641.9V688.4H636zM636 681.1H641.9V684.7H636zM636 673.7H641.9V677.4H636z"/><path fill="#52f5cc" d="M388.8 838.5H394.7V842.2H388.8zM441.8 834.9H453.6V838.5H441.8zM477.1 831.2H488.9V834.9H477.1zM494.8 827.6H506.5V831.2H494.8zM506.5 823.9H524.2V827.6H506.5zM518.3 820.2H524.2V823.9H518.3zM530.1 820.2H541.8V823.9H530.1zM553.6 820.2H559.5V823.9H553.6zM524.2 816.6H535.9V820.2H524.2zM541.8 816.6H559.5V820.2H541.8zM535.9 812.9H541.8V816.6H535.9zM547.7 812.9H565.4V816.6H547.7zM559.5 809.2H571.3V812.9H559.5zM553.6 805.6H559.5V809.2H553.6zM565.4 805.6H571.3V809.2H565.4zM571.3 794.6H588.9V798.3H571.3zM571.3 790.9H600.7V794.6H571.3zM606.6 790.9H618.3V794.6H606.6zM577.1 787.3H624.2V790.9H577.1zM577.1 783.6H583V787.3H577.1zM588.9 783.6H630.1V787.3H588.9zM588.9 779.9H594.8V783.6H588.9zM606.6 779.9H624.2V783.6H606.6zM630.1 779.9H636V783.6H630.1zM600.7 776.3H606.6V779.9H600.7zM612.5 776.3H636V779.9H612.5zM606.6 772.6H612.5V776.3H606.6zM618.3 772.6H636V776.3H618.3zM618.3 769H636V772.6H618.3zM624.2 765.3H636V769H624.2zM624.2 761.6H630.1V765.3H624.2zM636 677.4H641.9V681.1H636zM636 670.1H641.9V673.7H636zM636 666.4H641.9V670.1H636zM636 662.8H641.9V666.4H636zM636 659.1H641.9V662.8H636z"/><path fill="#5bf9c7" d="M424.1 834.9H441.8V838.5H424.1zM465.3 831.2H477.1V834.9H465.3zM477.1 827.6H494.8V831.2H477.1zM488.9 823.9H506.5V827.6H488.9zM506.5 820.2H518.3V823.9H506.5zM524.2 820.2H530.1V823.9H524.2zM512.4 816.6H524.2V820.2H512.4zM535.9 816.6H541.8V820.2H535.9zM512.4 812.9H518.3V816.6H512.4zM524.2 812.9H535.9V816.6H524.2zM541.8 812.9H547.7V816.6H541.8zM518.3 809.2H559.5V812.9H518.3zM530.1 805.6H553.6V809.2H530.1zM559.5 805.6H565.4V809.2H559.5zM541.8 801.9H571.3V805.6H541.8zM547.7 798.3H571.3V801.9H547.7zM571.3 787.3H577.1V790.9H571.3zM571.3 783.6H577.1V787.3H571.3zM583 783.6H588.9V787.3H583zM571.3 779.9H588.9V783.6H571.3zM594.8 779.9H606.6V783.6H594.8zM571.3 776.3H600.7V779.9H571.3zM606.6 776.3H612.5V779.9H606.6zM571.3 772.6H577.1V776.3H571.3zM583 772.6H606.6V776.3H583zM612.5 772.6H618.3V776.3H612.5zM577.1 769H618.3V772.6H577.1zM594.8 765.3H624.2V769H594.8zM577.1 761.6H583V765.3H577.1zM594.8 761.6H624.2V765.3H594.8zM630.1 761.6H636V765.3H630.1zM600.7 758H636V761.6H600.7zM606.6 754.3H636V758H606.6zM606.6 750.7H612.5V754.3H606.6zM618.3 750.7H636V754.3H618.3zM618.3 747H636V750.7H618.3zM612.5 743.3H618.3V747H612.5zM624.2 743.3H630.1V747H624.2zM630.1 739.7H636V743.3H630.1z"/><path fill="#64fbc3" d="M382.9 838.5H388.8V842.2H382.9zM418.2 834.9H424.1V838.5H418.2zM459.4 831.2H465.3V834.9H459.4zM465.3 827.6H477.1V831.2H465.3zM477.1 823.9H488.9V827.6H477.1zM483 820.2H506.5V823.9H483zM494.8 816.6H512.4V820.2H494.8zM494.8 812.9H512.4V816.6H494.8zM518.3 812.9H524.2V816.6H518.3zM506.5 809.2H518.3V812.9H506.5zM500.6 805.6H506.5V809.2H500.6zM512.4 805.6H530.1V809.2H512.4zM518.3 801.9H541.8V805.6H518.3zM518.3 798.3H547.7V801.9H518.3zM535.9 794.6H571.3V798.3H535.9zM541.8 790.9H571.3V794.6H541.8zM559.5 787.3H571.3V790.9H559.5zM553.6 783.6H571.3V787.3H553.6zM559.5 779.9H565.4V783.6H559.5zM577.1 772.6H583V776.3H577.1zM571.3 769H577.1V772.6H571.3zM571.3 765.3H594.8V769H571.3zM571.3 761.6H577.1V765.3H571.3zM583 761.6H594.8V765.3H583zM571.3 758H600.7V761.6H571.3zM577.1 754.3H606.6V758H577.1zM571.3 750.7H606.6V754.3H571.3zM612.5 750.7H618.3V754.3H612.5zM577.1 747H618.3V750.7H577.1zM577.1 743.3H588.9V747H577.1zM600.7 743.3H612.5V747H600.7zM618.3 743.3H624.2V747H618.3zM630.1 743.3H636V747H630.1zM588.9 739.7H630.1V743.3H588.9zM594.8 736H636V739.7H594.8zM594.8 732.3H600.7V736H594.8zM606.6 732.3H636V736H606.6zM618.3 728.7H636V732.3H618.3zM606.6 725H636V728.7H606.6zM618.3 721.4H624.2V725H618.3zM630.1 721.4H636V725H630.1z"/><path fill="#6dfdbe" d="M377.1 838.5H382.9V842.2H377.1zM406.5 834.9H418.2V838.5H406.5zM447.7 831.2H459.4V834.9H447.7zM459.4 827.6H465.3V831.2H459.4zM465.3 823.9H477.1V827.6H465.3zM471.2 820.2H483V823.9H471.2zM477.1 816.6H494.8V820.2H477.1zM483 812.9H494.8V816.6H483zM488.9 809.2H506.5V812.9H488.9zM488.9 805.6H500.6V809.2H488.9zM506.5 805.6H512.4V809.2H506.5zM500.6 801.9H518.3V805.6H500.6zM506.5 798.3H518.3V801.9H506.5zM500.6 794.6H506.5V798.3H500.6zM512.4 794.6H535.9V798.3H512.4zM518.3 790.9H541.8V794.6H518.3zM524.2 787.3H559.5V790.9H524.2zM530.1 783.6H553.6V787.3H530.1zM530.1 779.9H535.9V783.6H530.1zM541.8 779.9H559.5V783.6H541.8zM565.4 779.9H571.3V783.6H565.4zM541.8 776.3H571.3V779.9H541.8zM530.1 772.6H541.8V776.3H530.1zM547.7 772.6H571.3V776.3H547.7zM547.7 769H553.6V772.6H547.7zM559.5 769H571.3V772.6H559.5zM547.7 765.3H571.3V769H547.7zM565.4 761.6H571.3V765.3H565.4zM565.4 758H571.3V761.6H565.4zM571.3 754.3H577.1V758H571.3zM571.3 747H577.1V750.7H571.3zM571.3 743.3H577.1V747H571.3zM588.9 743.3H600.7V747H588.9zM571.3 739.7H588.9V743.3H571.3zM571.3 736H594.8V739.7H571.3zM571.3 732.3H594.8V736H571.3zM600.7 732.3H606.6V736H600.7zM583 728.7H618.3V732.3H583zM571.3 725H606.6V728.7H571.3zM571.3 721.4H577.1V725H571.3zM583 721.4H588.9V725H583zM594.8 721.4H618.3V725H594.8zM624.2 721.4H630.1V725H624.2zM594.8 717.7H636V721.4H594.8zM594.8 714H636V717.7H594.8zM594.8 710.4H600.7V714H594.8zM606.6 710.4H636V714H606.6zM612.5 706.7H636V710.4H612.5zM612.5 703H636V706.7H612.5zM618.3 699.4H636V703H618.3zM624.2 695.7H636V699.4H624.2zM624.2 692.1H636V695.7H624.2z"/><path fill="#76ffb9" d="M365.3 838.5H377.1V842.2H365.3zM400.6 834.9H406.5V838.5H400.6zM430 831.2H435.9V834.9H430zM441.8 831.2H447.7V834.9H441.8zM447.7 827.6H459.4V831.2H447.7zM459.4 823.9H465.3V827.6H459.4zM459.4 820.2H471.2V823.9H459.4zM465.3 816.6H477.1V820.2H465.3zM471.2 812.9H483V816.6H471.2zM471.2 809.2H488.9V812.9H471.2zM477.1 805.6H488.9V809.2H477.1zM483 801.9H500.6V805.6H483zM488.9 798.3H506.5V801.9H488.9zM488.9 794.6H500.6V798.3H488.9zM506.5 794.6H512.4V798.3H506.5zM500.6 790.9H518.3V794.6H500.6zM506.5 787.3H524.2V790.9H506.5zM512.4 783.6H530.1V787.3H512.4zM512.4 779.9H530.1V783.6H512.4zM535.9 779.9H541.8V783.6H535.9zM518.3 776.3H541.8V779.9H518.3zM518.3 772.6H530.1V776.3H518.3zM541.8 772.6H547.7V776.3H541.8zM518.3 769H547.7V772.6H518.3zM553.6 769H559.5V772.6H553.6zM524.2 765.3H547.7V769H524.2zM535.9 761.6H565.4V765.3H535.9zM541.8 758H565.4V761.6H541.8zM541.8 754.3H571.3V758H541.8zM547.7 750.7H571.3V754.3H547.7zM553.6 747H571.3V750.7H553.6zM553.6 743.3H571.3V747H553.6zM553.6 739.7H571.3V743.3H553.6zM553.6 736H571.3V739.7H553.6zM565.4 732.3H571.3V736H565.4zM571.3 728.7H583V732.3H571.3zM577.1 721.4H583V725H577.1zM588.9 721.4H594.8V725H588.9zM571.3 717.7H594.8V721.4H571.3zM571.3 714H594.8V717.7H571.3zM571.3 710.4H594.8V714H571.3zM600.7 710.4H606.6V714H600.7zM571.3 706.7H612.5V710.4H571.3zM571.3 703H577.1V706.7H571.3zM583 703H612.5V706.7H583zM577.1 699.4H618.3V703H577.1zM588.9 695.7H624.2V699.4H588.9zM606.6 692.1H624.2V695.7H606.6zM606.6 688.4H636V692.1H606.6zM606.6 684.7H636V688.4H606.6zM606.6 681.1H618.3V684.7H606.6zM624.2 681.1H636V684.7H624.2zM618.3 677.4H624.2V681.1H618.3zM630.1 677.4H636V681.1H630.1zM618.3 673.7H636V677.4H618.3z"/><path fill="#80ffb4" d="M359.4 838.5H365.3V842.2H359.4zM394.7 834.9H400.6V838.5H394.7zM412.4 831.2H430V834.9H412.4zM435.9 831.2H441.8V834.9H435.9zM430 827.6H435.9V831.2H430zM441.8 827.6H447.7V831.2H441.8zM453.6 823.9H459.4V827.6H453.6zM453.6 820.2H459.4V823.9H453.6zM453.6 816.6H465.3V820.2H453.6zM465.3 812.9H471.2V816.6H465.3zM459.4 809.2H471.2V812.9H459.4zM471.2 805.6H477.1V809.2H471.2zM477.1 801.9H483V805.6H477.1zM477.1 798.3H488.9V801.9H477.1zM477.1 794.6H488.9V798.3H477.1zM488.9 790.9H500.6V794.6H488.9zM483 787.3H506.5V790.9H483zM494.8 783.6H512.4V787.3H494.8zM494.8 779.9H512.4V783.6H494.8zM488.9 776.3H518.3V779.9H488.9zM494.8 772.6H500.6V776.3H494.8zM506.5 772.6H518.3V776.3H506.5zM500.6 769H518.3V772.6H500.6zM512.4 765.3H524.2V769H512.4zM500.6 761.6H506.5V765.3H500.6zM512.4 761.6H535.9V765.3H512.4zM506.5 758H512.4V761.6H506.5zM518.3 758H541.8V761.6H518.3zM512.4 754.3H541.8V758H512.4zM518.3 750.7H547.7V754.3H518.3zM524.2 747H553.6V750.7H524.2zM518.3 743.3H553.6V747H518.3zM530.1 739.7H553.6V743.3H530.1zM530.1 736H553.6V739.7H530.1zM541.8 732.3H565.4V736H541.8zM541.8 728.7H571.3V732.3H541.8zM541.8 725H571.3V728.7H541.8zM541.8 721.4H547.7V725H541.8zM553.6 721.4H571.3V725H553.6zM553.6 717.7H559.5V721.4H553.6zM565.4 717.7H571.3V721.4H565.4zM565.4 710.4H571.3V714H565.4zM577.1 703H583V706.7H577.1zM571.3 699.4H577.1V703H571.3zM571.3 695.7H588.9V699.4H571.3zM571.3 692.1H606.6V695.7H571.3zM571.3 688.4H606.6V692.1H571.3zM571.3 684.7H606.6V688.4H571.3zM571.3 681.1H606.6V684.7H571.3zM618.3 681.1H624.2V684.7H618.3zM571.3 677.4H618.3V681.1H571.3zM624.2 677.4H630.1V681.1H624.2zM577.1 673.7H583V677.4H577.1zM588.9 673.7H618.3V677.4H588.9zM588.9 670.1H636V673.7H588.9zM588.9 666.4H636V670.1H588.9zM594.8 662.8H600.7V666.4H594.8zM606.6 662.8H636V666.4H606.6zM606.6 659.1H636V662.8H606.6z"/><path fill="#89ffaf" d="M406.5 831.2H412.4V834.9H406.5zM418.2 827.6H430V831.2H418.2zM435.9 827.6H441.8V831.2H435.9zM435.9 823.9H453.6V827.6H435.9zM447.7 820.2H453.6V823.9H447.7zM447.7 816.6H453.6V820.2H447.7zM453.6 812.9H465.3V816.6H453.6zM453.6 809.2H459.4V812.9H453.6zM453.6 805.6H471.2V809.2H453.6zM459.4 801.9H477.1V805.6H459.4zM465.3 798.3H477.1V801.9H465.3zM465.3 794.6H477.1V798.3H465.3zM471.2 790.9H488.9V794.6H471.2zM477.1 787.3H483V790.9H477.1zM477.1 783.6H494.8V787.3H477.1zM483 779.9H494.8V783.6H483zM483 776.3H488.9V779.9H483zM483 772.6H494.8V776.3H483zM500.6 772.6H506.5V776.3H500.6zM488.9 769H500.6V772.6H488.9zM488.9 765.3H512.4V769H488.9zM488.9 761.6H500.6V765.3H488.9zM506.5 761.6H512.4V765.3H506.5zM494.8 758H506.5V761.6H494.8zM512.4 758H518.3V761.6H512.4zM494.8 754.3H512.4V758H494.8zM500.6 750.7H518.3V754.3H500.6zM494.8 747H500.6V750.7H494.8zM506.5 747H524.2V750.7H506.5zM500.6 743.3H506.5V747H500.6zM512.4 743.3H518.3V747H512.4zM506.5 739.7H530.1V743.3H506.5zM512.4 736H530.1V739.7H512.4zM512.4 732.3H541.8V736H512.4zM518.3 728.7H541.8V732.3H518.3zM524.2 725H541.8V728.7H524.2zM524.2 721.4H541.8V725H524.2zM547.7 721.4H553.6V725H547.7zM530.1 717.7H553.6V721.4H530.1zM559.5 717.7H565.4V721.4H559.5zM535.9 714H571.3V717.7H535.9zM535.9 710.4H565.4V714H535.9zM541.8 706.7H571.3V710.4H541.8zM547.7 703H571.3V706.7H547.7zM547.7 699.4H571.3V703H547.7zM547.7 695.7H559.5V699.4H547.7zM565.4 695.7H571.3V699.4H565.4zM559.5 692.1H565.4V695.7H559.5zM559.5 688.4H571.3V692.1H559.5zM565.4 684.7H571.3V688.4H565.4zM571.3 673.7H577.1V677.4H571.3zM583 673.7H588.9V677.4H583zM571.3 670.1H588.9V673.7H571.3zM571.3 666.4H588.9V670.1H571.3zM571.3 662.8H594.8V666.4H571.3zM600.7 662.8H606.6V666.4H600.7zM571.3 659.1H606.6V662.8H571.3z"/><path fill="#92fdaa" d="M388.8 834.9H394.7V838.5H388.8zM400.6 831.2H406.5V834.9H400.6zM406.5 827.6H418.2V831.2H406.5zM418.2 823.9H435.9V827.6H418.2zM435.9 820.2H447.7V823.9H435.9zM441.8 816.6H447.7V820.2H441.8zM441.8 812.9H453.6V816.6H441.8zM447.7 809.2H453.6V812.9H447.7zM453.6 801.9H459.4V805.6H453.6zM453.6 798.3H465.3V801.9H453.6zM453.6 794.6H465.3V798.3H453.6zM459.4 790.9H471.2V794.6H459.4zM465.3 787.3H477.1V790.9H465.3zM465.3 783.6H477.1V787.3H465.3zM471.2 779.9H483V783.6H471.2zM465.3 776.3H483V779.9H465.3zM471.2 772.6H483V776.3H471.2zM471.2 769H488.9V772.6H471.2zM471.2 765.3H477.1V769H471.2zM483 765.3H488.9V769H483zM483 761.6H488.9V765.3H483zM483 758H494.8V761.6H483zM488.9 754.3H494.8V758H488.9zM483 750.7H500.6V754.3H483zM483 747H494.8V750.7H483zM500.6 747H506.5V750.7H500.6zM494.8 743.3H500.6V747H494.8zM506.5 743.3H512.4V747H506.5zM488.9 739.7H506.5V743.3H488.9zM494.8 736H512.4V739.7H494.8zM494.8 732.3H512.4V736H494.8zM494.8 728.7H518.3V732.3H494.8zM494.8 725H524.2V728.7H494.8zM494.8 721.4H524.2V725H494.8zM506.5 717.7H530.1V721.4H506.5zM512.4 714H535.9V717.7H512.4zM518.3 710.4H535.9V714H518.3zM512.4 706.7H541.8V710.4H512.4zM524.2 703H547.7V706.7H524.2zM518.3 699.4H547.7V703H518.3zM530.1 695.7H547.7V699.4H530.1zM559.5 695.7H565.4V699.4H559.5zM535.9 692.1H559.5V695.7H535.9zM565.4 692.1H571.3V695.7H565.4zM541.8 688.4H559.5V692.1H541.8zM530.1 684.7H535.9V688.4H530.1zM541.8 684.7H565.4V688.4H541.8zM541.8 681.1H571.3V684.7H541.8zM541.8 677.4H571.3V681.1H541.8zM553.6 673.7H571.3V677.4H553.6zM559.5 670.1H571.3V673.7H559.5zM559.5 666.4H571.3V670.1H559.5z"/><path fill="#9bfba5" d="M382.9 834.9H388.8V838.5H382.9zM394.7 831.2H400.6V834.9H394.7zM412.4 823.9H418.2V827.6H412.4zM424.1 820.2H435.9V823.9H424.1zM430 816.6H441.8V820.2H430zM435.9 812.9H441.8V816.6H435.9zM441.8 809.2H447.7V812.9H441.8zM441.8 805.6H453.6V809.2H441.8zM447.7 801.9H453.6V805.6H447.7zM447.7 798.3H453.6V801.9H447.7zM447.7 790.9H459.4V794.6H447.7zM459.4 787.3H465.3V790.9H459.4zM459.4 783.6H465.3V787.3H459.4zM459.4 779.9H471.2V783.6H459.4zM459.4 776.3H465.3V779.9H459.4zM459.4 772.6H471.2V776.3H459.4zM465.3 769H471.2V772.6H465.3zM465.3 765.3H471.2V769H465.3zM477.1 765.3H483V769H477.1zM465.3 761.6H483V765.3H465.3zM465.3 758H483V761.6H465.3zM471.2 754.3H488.9V758H471.2zM471.2 750.7H483V754.3H471.2zM477.1 747H483V750.7H477.1zM477.1 743.3H494.8V747H477.1zM477.1 739.7H488.9V743.3H477.1zM483 736H494.8V739.7H483zM483 732.3H494.8V736H483zM483 728.7H494.8V732.3H483zM488.9 725H494.8V728.7H488.9zM488.9 717.7H506.5V721.4H488.9zM488.9 714H512.4V717.7H488.9zM494.8 710.4H518.3V714H494.8zM494.8 706.7H512.4V710.4H494.8zM500.6 703H524.2V706.7H500.6zM500.6 699.4H518.3V703H500.6zM512.4 695.7H530.1V699.4H512.4zM512.4 692.1H535.9V695.7H512.4zM518.3 688.4H541.8V692.1H518.3zM518.3 684.7H530.1V688.4H518.3zM535.9 684.7H541.8V688.4H535.9zM524.2 681.1H541.8V684.7H524.2zM524.2 677.4H541.8V681.1H524.2zM518.3 673.7H553.6V677.4H518.3zM524.2 670.1H559.5V673.7H524.2zM524.2 666.4H530.1V670.1H524.2zM535.9 666.4H559.5V670.1H535.9zM547.7 662.8H571.3V666.4H547.7zM535.9 659.1H571.3V662.8H535.9z"/><path fill="#a4f99f" d="M388.8 831.2H394.7V834.9H388.8zM400.6 827.6H406.5V831.2H400.6zM406.5 823.9H412.4V827.6H406.5zM418.2 820.2H424.1V823.9H418.2zM418.2 816.6H430V820.2H418.2zM424.1 812.9H435.9V816.6H424.1zM430 809.2H441.8V812.9H430zM435.9 805.6H441.8V809.2H435.9zM435.9 801.9H447.7V805.6H435.9zM435.9 798.3H447.7V801.9H435.9zM441.8 794.6H453.6V798.3H441.8zM447.7 787.3H459.4V790.9H447.7zM453.6 783.6H459.4V787.3H453.6zM447.7 779.9H459.4V783.6H447.7zM453.6 776.3H459.4V779.9H453.6zM453.6 772.6H459.4V776.3H453.6zM453.6 769H465.3V772.6H453.6zM453.6 765.3H465.3V769H453.6zM459.4 761.6H465.3V765.3H459.4zM459.4 758H465.3V761.6H459.4zM459.4 754.3H471.2V758H459.4zM465.3 750.7H471.2V754.3H465.3zM465.3 747H477.1V750.7H465.3zM459.4 743.3H477.1V747H459.4zM465.3 739.7H477.1V743.3H465.3zM471.2 736H483V739.7H471.2zM465.3 732.3H483V736H465.3zM471.2 728.7H483V732.3H471.2zM477.1 725H488.9V728.7H477.1zM477.1 721.4H494.8V725H477.1zM477.1 717.7H488.9V721.4H477.1zM483 714H488.9V717.7H483zM483 710.4H494.8V714H483zM477.1 706.7H494.8V710.4H477.1zM483 703H500.6V706.7H483zM483 699.4H500.6V703H483zM488.9 695.7H512.4V699.4H488.9zM488.9 692.1H512.4V695.7H488.9zM494.8 688.4H518.3V692.1H494.8zM494.8 684.7H518.3V688.4H494.8zM500.6 681.1H524.2V684.7H500.6zM500.6 677.4H524.2V681.1H500.6zM500.6 673.7H518.3V677.4H500.6zM506.5 670.1H524.2V673.7H506.5zM518.3 666.4H524.2V670.1H518.3zM530.1 666.4H535.9V670.1H530.1zM512.4 662.8H547.7V666.4H512.4zM512.4 659.1H518.3V662.8H512.4zM524.2 659.1H535.9V662.8H524.2z"/><path fill="#adf599" d="M371.2 834.9H382.9V838.5H371.2zM382.9 831.2H388.8V834.9H382.9zM394.7 827.6H400.6V831.2H394.7zM400.6 823.9H406.5V827.6H400.6zM406.5 820.2H418.2V823.9H406.5zM412.4 816.6H418.2V820.2H412.4zM418.2 812.9H424.1V816.6H418.2zM418.2 809.2H430V812.9H418.2zM424.1 805.6H435.9V809.2H424.1zM424.1 801.9H435.9V805.6H424.1zM430 798.3H435.9V801.9H430zM430 794.6H441.8V798.3H430zM435.9 790.9H447.7V794.6H435.9zM435.9 787.3H447.7V790.9H435.9zM441.8 783.6H453.6V787.3H441.8zM441.8 779.9H447.7V783.6H441.8zM447.7 776.3H453.6V779.9H447.7zM447.7 772.6H453.6V776.3H447.7zM447.7 769H453.6V772.6H447.7zM447.7 765.3H453.6V769H447.7zM447.7 761.6H459.4V765.3H447.7zM447.7 758H459.4V761.6H447.7zM453.6 754.3H459.4V758H453.6zM453.6 750.7H465.3V754.3H453.6zM453.6 747H465.3V750.7H453.6zM453.6 743.3H459.4V747H453.6zM459.4 739.7H465.3V743.3H459.4zM453.6 736H471.2V739.7H453.6zM459.4 732.3H465.3V736H459.4zM459.4 728.7H471.2V732.3H459.4zM459.4 725H477.1V728.7H459.4zM459.4 721.4H477.1V725H459.4zM465.3 717.7H477.1V721.4H465.3zM471.2 714H483V717.7H471.2zM465.3 710.4H483V714H465.3zM465.3 706.7H477.1V710.4H465.3zM471.2 703H483V706.7H471.2zM477.1 699.4H483V703H477.1zM477.1 695.7H488.9V699.4H477.1zM477.1 692.1H488.9V695.7H477.1zM483 688.4H494.8V692.1H483zM483 684.7H494.8V688.4H483zM483 681.1H500.6V684.7H483zM483 677.4H500.6V681.1H483zM483 673.7H500.6V677.4H483zM488.9 670.1H506.5V673.7H488.9zM494.8 666.4H518.3V670.1H494.8zM494.8 662.8H512.4V666.4H494.8zM494.8 659.1H512.4V662.8H494.8zM518.3 659.1H524.2V662.8H518.3z"/><path fill="#b6f194" d="M359.4 834.9H371.2V838.5H359.4zM388.8 827.6H394.7V831.2H388.8zM394.7 823.9H400.6V827.6H394.7zM400.6 820.2H406.5V823.9H400.6zM406.5 816.6H412.4V820.2H406.5zM406.5 812.9H418.2V816.6H406.5zM412.4 809.2H418.2V812.9H412.4zM412.4 805.6H424.1V809.2H412.4zM418.2 801.9H424.1V805.6H418.2zM418.2 798.3H430V801.9H418.2zM424.1 794.6H430V798.3H424.1zM430 790.9H435.9V794.6H430zM430 787.3H435.9V790.9H430zM435.9 783.6H441.8V787.3H435.9zM435.9 779.9H441.8V783.6H435.9zM435.9 776.3H447.7V779.9H435.9zM441.8 772.6H447.7V776.3H441.8zM435.9 769H447.7V772.6H435.9zM441.8 765.3H447.7V769H441.8zM441.8 761.6H447.7V765.3H441.8zM441.8 758H447.7V761.6H441.8zM441.8 754.3H453.6V758H441.8zM447.7 750.7H453.6V754.3H447.7zM447.7 747H453.6V750.7H447.7zM447.7 743.3H453.6V747H447.7zM447.7 739.7H459.4V743.3H447.7zM447.7 736H453.6V739.7H447.7zM453.6 732.3H459.4V736H453.6zM453.6 728.7H459.4V732.3H453.6zM453.6 725H459.4V728.7H453.6zM453.6 721.4H459.4V725H453.6zM453.6 717.7H465.3V721.4H453.6zM459.4 714H471.2V717.7H459.4zM459.4 710.4H465.3V714H459.4zM459.4 706.7H465.3V710.4H459.4zM465.3 703H471.2V706.7H465.3zM465.3 699.4H477.1V703H465.3zM465.3 695.7H477.1V699.4H465.3zM465.3 692.1H477.1V695.7H465.3zM465.3 688.4H483V692.1H465.3zM471.2 684.7H483V688.4H471.2zM477.1 681.1H483V684.7H477.1zM477.1 677.4H483V681.1H477.1zM477.1 673.7H483V677.4H477.1zM477.1 670.1H488.9V673.7H477.1zM483 666.4H494.8V670.1H483zM477.1 662.8H494.8V666.4H477.1zM483 659.1H494.8V662.8H483z"/><path fill="#bfec8e" d="M377.1 831.2H382.9V834.9H377.1zM388.8 823.9H394.7V827.6H388.8zM400.6 816.6H406.5V820.2H400.6zM400.6 812.9H406.5V816.6H400.6zM406.5 809.2H412.4V812.9H406.5zM412.4 801.9H418.2V805.6H412.4zM418.2 794.6H424.1V798.3H418.2zM418.2 790.9H430V794.6H418.2zM424.1 787.3H430V790.9H424.1zM424.1 783.6H435.9V787.3H424.1zM430 779.9H435.9V783.6H430zM424.1 776.3H435.9V779.9H424.1zM430 772.6H441.8V776.3H430zM430 769H435.9V772.6H430zM430 765.3H441.8V769H430zM435.9 761.6H441.8V765.3H435.9zM435.9 758H441.8V761.6H435.9zM435.9 754.3H441.8V758H435.9zM435.9 750.7H447.7V754.3H435.9zM435.9 747H447.7V750.7H435.9zM441.8 743.3H447.7V747H441.8zM441.8 739.7H447.7V743.3H441.8zM441.8 736H447.7V739.7H441.8zM447.7 732.3H453.6V736H447.7zM447.7 728.7H453.6V732.3H447.7zM447.7 725H453.6V728.7H447.7zM447.7 721.4H453.6V725H447.7zM447.7 717.7H453.6V721.4H447.7zM453.6 714H459.4V717.7H453.6zM453.6 710.4H459.4V714H453.6zM453.6 706.7H459.4V710.4H453.6zM453.6 703H465.3V706.7H453.6zM453.6 699.4H465.3V703H453.6zM453.6 695.7H465.3V699.4H453.6zM459.4 692.1H465.3V695.7H459.4zM453.6 688.4H465.3V692.1H453.6zM459.4 684.7H471.2V688.4H459.4zM459.4 681.1H477.1V684.7H459.4zM459.4 677.4H477.1V681.1H459.4zM459.4 673.7H477.1V677.4H459.4zM465.3 670.1H477.1V673.7H465.3zM471.2 666.4H483V670.1H471.2zM471.2 662.8H477.1V666.4H471.2zM465.3 659.1H483V662.8H465.3z"/><path fill="#c8e688" d="M359.4 831.2H377.1V834.9H359.4zM382.9 827.6H388.8V831.2H382.9zM394.7 820.2H400.6V823.9H394.7zM394.7 816.6H400.6V820.2H394.7zM400.6 809.2H406.5V812.9H400.6zM406.5 805.6H412.4V809.2H406.5zM406.5 801.9H412.4V805.6H406.5zM412.4 798.3H418.2V801.9H412.4zM412.4 794.6H418.2V798.3H412.4zM418.2 787.3H424.1V790.9H418.2zM418.2 783.6H424.1V787.3H418.2zM418.2 779.9H430V783.6H418.2zM424.1 772.6H430V776.3H424.1zM424.1 769H430V772.6H424.1zM424.1 765.3H430V769H424.1zM424.1 761.6H435.9V765.3H424.1zM424.1 758H435.9V761.6H424.1zM430 754.3H435.9V758H430zM430 750.7H435.9V754.3H430zM430 747H435.9V750.7H430zM430 743.3H441.8V747H430zM430 739.7H441.8V743.3H430zM435.9 736H441.8V739.7H435.9zM435.9 732.3H447.7V736H435.9zM435.9 728.7H447.7V732.3H435.9zM441.8 725H447.7V728.7H441.8zM441.8 721.4H447.7V725H441.8zM441.8 717.7H447.7V721.4H441.8zM441.8 714H453.6V717.7H441.8zM441.8 710.4H453.6V714H441.8zM441.8 706.7H453.6V710.4H441.8zM441.8 703H453.6V706.7H441.8zM447.7 699.4H453.6V703H447.7zM447.7 695.7H453.6V699.4H447.7zM447.7 692.1H459.4V695.7H447.7zM447.7 688.4H453.6V692.1H447.7zM453.6 684.7H459.4V688.4H453.6zM453.6 681.1H459.4V684.7H453.6zM453.6 677.4H459.4V681.1H453.6zM453.6 673.7H459.4V677.4H453.6zM453.6 670.1H465.3V673.7H453.6zM453.6 666.4H471.2V670.1H453.6zM459.4 662.8H471.2V666.4H459.4zM459.4 659.1H465.3V662.8H459.4z"/><path fill="#d1df82" d="M371.2 827.6H382.9V831.2H371.2zM382.9 823.9H388.8V827.6H382.9zM388.8 820.2H394.7V823.9H388.8zM394.7 812.9H400.6V816.6H394.7zM400.6 805.6H406.5V809.2H400.6zM400.6 801.9H406.5V805.6H400.6zM406.5 798.3H412.4V801.9H406.5zM406.5 794.6H412.4V798.3H406.5zM412.4 790.9H418.2V794.6H412.4zM412.4 787.3H418.2V790.9H412.4zM412.4 783.6H418.2V787.3H412.4zM418.2 776.3H424.1V779.9H418.2zM418.2 772.6H424.1V776.3H418.2zM418.2 769H424.1V772.6H418.2zM424.1 754.3H430V758H424.1zM424.1 750.7H430V754.3H424.1zM424.1 747H430V750.7H424.1zM424.1 743.3H430V747H424.1zM424.1 739.7H430V743.3H424.1zM424.1 736H435.9V739.7H424.1zM430 732.3H435.9V736H430zM430 728.7H435.9V732.3H430zM430 725H441.8V728.7H430zM430 721.4H441.8V725H430zM430 717.7H441.8V721.4H430zM435.9 714H441.8V717.7H435.9zM435.9 710.4H441.8V714H435.9zM435.9 706.7H441.8V710.4H435.9zM435.9 699.4H447.7V703H435.9zM441.8 695.7H447.7V699.4H441.8zM441.8 692.1H447.7V695.7H441.8zM441.8 688.4H447.7V692.1H441.8zM441.8 684.7H453.6V688.4H441.8zM441.8 681.1H453.6V684.7H441.8zM447.7 677.4H453.6V681.1H447.7zM447.7 673.7H453.6V677.4H447.7zM447.7 670.1H453.6V673.7H447.7zM453.6 662.8H459.4V666.4H453.6zM453.6 659.1H459.4V662.8H453.6z"/><path fill="#dbd87b" d="M359.4 827.6H371.2V831.2H359.4zM382.9 820.2H388.8V823.9H382.9zM388.8 816.6H394.7V820.2H388.8zM394.7 809.2H400.6V812.9H394.7zM400.6 798.3H406.5V801.9H400.6zM406.5 790.9H412.4V794.6H406.5zM406.5 787.3H412.4V790.9H406.5zM406.5 783.6H412.4V787.3H406.5zM412.4 779.9H418.2V783.6H412.4zM412.4 776.3H418.2V779.9H412.4zM412.4 772.6H418.2V776.3H412.4zM412.4 765.3H424.1V769H412.4zM418.2 761.6H424.1V765.3H418.2zM418.2 758H424.1V761.6H418.2zM418.2 754.3H424.1V758H418.2zM418.2 750.7H424.1V754.3H418.2zM418.2 747H424.1V750.7H418.2zM418.2 743.3H424.1V747H418.2zM418.2 739.7H424.1V743.3H418.2zM424.1 732.3H430V736H424.1zM424.1 728.7H430V732.3H424.1zM424.1 725H430V728.7H424.1zM424.1 721.4H430V725H424.1zM424.1 717.7H430V721.4H424.1zM424.1 714H435.9V717.7H424.1zM430 710.4H435.9V714H430zM430 706.7H435.9V710.4H430zM430 703H441.8V706.7H430zM430 699.4H435.9V703H430zM435.9 695.7H441.8V699.4H435.9zM430 692.1H441.8V695.7H430zM435.9 688.4H441.8V692.1H435.9zM435.9 684.7H441.8V688.4H435.9zM435.9 681.1H441.8V684.7H435.9zM441.8 677.4H447.7V681.1H441.8zM435.9 673.7H447.7V677.4H435.9zM441.8 670.1H447.7V673.7H441.8zM441.8 666.4H453.6V670.1H441.8zM447.7 662.8H453.6V666.4H447.7zM447.7 659.1H453.6V662.8H447.7z"/><path fill="#e4d075" d="M365.3 823.9H382.9V827.6H365.3zM388.8 812.9H394.7V816.6H388.8zM388.8 809.2H394.7V812.9H388.8zM394.7 805.6H400.6V809.2H394.7zM394.7 801.9H400.6V805.6H394.7zM400.6 794.6H406.5V798.3H400.6zM400.6 790.9H406.5V794.6H400.6zM406.5 779.9H412.4V783.6H406.5zM406.5 776.3H412.4V779.9H406.5zM406.5 772.6H412.4V776.3H406.5zM406.5 769H418.2V772.6H406.5zM412.4 761.6H418.2V765.3H412.4zM412.4 758H418.2V761.6H412.4zM412.4 754.3H418.2V758H412.4zM418.2 736H424.1V739.7H418.2zM418.2 732.3H424.1V736H418.2zM418.2 728.7H424.1V732.3H418.2zM418.2 725H424.1V728.7H418.2zM418.2 721.4H424.1V725H418.2zM424.1 710.4H430V714H424.1zM424.1 706.7H430V710.4H424.1zM424.1 703H430V706.7H424.1zM424.1 699.4H430V703H424.1zM430 695.7H435.9V699.4H430zM424.1 692.1H430V695.7H424.1zM430 688.4H435.9V692.1H430zM430 684.7H435.9V688.4H430zM430 681.1H435.9V684.7H430zM435.9 677.4H441.8V681.1H435.9zM430 673.7H435.9V677.4H430zM435.9 670.1H441.8V673.7H435.9zM435.9 666.4H441.8V670.1H435.9zM435.9 662.8H447.7V666.4H435.9zM435.9 659.1H447.7V662.8H435.9z"/><path fill="#edc76f" d="M359.4 823.9H365.3V827.6H359.4zM377.1 820.2H382.9V823.9H377.1zM382.9 816.6H388.8V820.2H382.9zM388.8 805.6H394.7V809.2H388.8zM394.7 798.3H400.6V801.9H394.7zM394.7 794.6H400.6V798.3H394.7zM400.6 787.3H406.5V790.9H400.6zM400.6 783.6H406.5V787.3H400.6zM400.6 779.9H406.5V783.6H400.6zM400.6 776.3H406.5V779.9H400.6zM406.5 765.3H412.4V769H406.5zM406.5 761.6H412.4V765.3H406.5zM406.5 758H412.4V761.6H406.5zM412.4 750.7H418.2V754.3H412.4zM412.4 747H418.2V750.7H412.4zM412.4 743.3H418.2V747H412.4zM412.4 739.7H418.2V743.3H412.4zM412.4 736H418.2V739.7H412.4zM412.4 732.3H418.2V736H412.4zM412.4 728.7H418.2V732.3H412.4zM418.2 717.7H424.1V721.4H418.2zM418.2 714H424.1V717.7H418.2zM418.2 710.4H424.1V714H418.2zM418.2 706.7H424.1V710.4H418.2zM418.2 703H424.1V706.7H418.2zM418.2 699.4H424.1V703H418.2zM418.2 695.7H430V699.4H418.2zM418.2 692.1H424.1V695.7H418.2zM424.1 688.4H430V692.1H424.1zM424.1 684.7H430V688.4H424.1zM424.1 681.1H430V684.7H424.1zM424.1 677.4H435.9V681.1H424.1zM424.1 670.1H435.9V673.7H424.1zM430 666.4H435.9V670.1H430zM430 662.8H435.9V666.4H430zM430 659.1H435.9V662.8H430z"/><path fill="#f6be68" d="M365.3 820.2H377.1V823.9H365.3zM377.1 816.6H382.9V820.2H377.1zM382.9 812.9H388.8V816.6H382.9zM388.8 801.9H394.7V805.6H388.8zM394.7 790.9H400.6V794.6H394.7zM394.7 787.3H400.6V790.9H394.7zM394.7 783.6H400.6V787.3H394.7zM400.6 772.6H406.5V776.3H400.6zM400.6 769H406.5V772.6H400.6zM400.6 765.3H406.5V769H400.6zM400.6 761.6H406.5V765.3H400.6zM406.5 754.3H412.4V758H406.5zM406.5 750.7H412.4V754.3H406.5zM406.5 747H412.4V750.7H406.5zM406.5 743.3H412.4V747H406.5zM406.5 739.7H412.4V743.3H406.5zM406.5 736H412.4V739.7H406.5zM406.5 728.7H412.4V732.3H406.5zM412.4 725H418.2V728.7H412.4zM412.4 721.4H418.2V725H412.4zM412.4 717.7H418.2V721.4H412.4zM412.4 714H418.2V717.7H412.4zM412.4 710.4H418.2V714H412.4zM412.4 706.7H418.2V710.4H412.4zM412.4 703H418.2V706.7H412.4zM418.2 688.4H424.1V692.1H418.2zM418.2 684.7H424.1V688.4H418.2zM418.2 681.1H424.1V684.7H418.2zM418.2 677.4H424.1V681.1H418.2zM418.2 673.7H430V677.4H418.2zM424.1 666.4H430V670.1H424.1zM424.1 662.8H430V666.4H424.1zM424.1 659.1H430V662.8H424.1z"/><path fill="#ffb462" d="M359.4 820.2H365.3V823.9H359.4zM371.2 816.6H377.1V820.2H371.2zM377.1 812.9H382.9V816.6H377.1zM382.9 809.2H388.8V812.9H382.9zM388.8 798.3H394.7V801.9H388.8zM388.8 794.6H394.7V798.3H388.8zM394.7 779.9H400.6V783.6H394.7zM394.7 776.3H400.6V779.9H394.7zM400.6 758H406.5V761.6H400.6zM400.6 754.3H406.5V758H400.6zM400.6 750.7H406.5V754.3H400.6zM400.6 747H406.5V750.7H400.6zM400.6 743.3H406.5V747H400.6zM406.5 732.3H412.4V736H406.5zM406.5 725H412.4V728.7H406.5zM406.5 721.4H412.4V725H406.5zM406.5 717.7H412.4V721.4H406.5zM406.5 714H412.4V717.7H406.5zM406.5 710.4H412.4V714H406.5zM406.5 706.7H412.4V710.4H406.5zM406.5 703H412.4V706.7H406.5zM412.4 699.4H418.2V703H412.4zM412.4 695.7H418.2V699.4H412.4zM412.4 692.1H418.2V695.7H412.4zM412.4 688.4H418.2V692.1H412.4zM412.4 684.7H418.2V688.4H412.4zM412.4 681.1H418.2V684.7H412.4zM412.4 670.1H424.1V673.7H412.4zM418.2 666.4H424.1V670.1H418.2zM418.2 662.8H424.1V666.4H418.2zM418.2 659.1H424.1V662.8H418.2z"/><path fill="#ffaa5b" d="M365.3 816.6H371.2V820.2H365.3zM371.2 812.9H377.1V816.6H371.2zM377.1 809.2H382.9V812.9H377.1zM382.9 805.6H388.8V809.2H382.9zM382.9 801.9H388.8V805.6H382.9zM388.8 790.9H394.7V794.6H388.8zM388.8 787.3H394.7V790.9H388.8zM394.7 772.6H400.6V776.3H394.7zM394.7 769H400.6V772.6H394.7zM394.7 765.3H400.6V769H394.7zM394.7 761.6H400.6V765.3H394.7zM394.7 758H400.6V761.6H394.7zM400.6 739.7H406.5V743.3H400.6zM400.6 736H406.5V739.7H400.6zM400.6 732.3H406.5V736H400.6zM400.6 728.7H406.5V732.3H400.6zM400.6 725H406.5V728.7H400.6zM400.6 721.4H406.5V725H400.6zM400.6 717.7H406.5V721.4H400.6zM400.6 714H406.5V717.7H400.6zM406.5 699.4H412.4V703H406.5zM406.5 695.7H412.4V699.4H406.5zM406.5 692.1H412.4V695.7H406.5zM406.5 688.4H412.4V692.1H406.5zM406.5 681.1H412.4V684.7H406.5zM406.5 677.4H418.2V681.1H406.5zM412.4 673.7H418.2V677.4H412.4zM412.4 666.4H418.2V670.1H412.4zM412.4 662.8H418.2V666.4H412.4zM412.4 659.1H418.2V662.8H412.4z"/><path fill="#ff9f54" d="M359.4 816.6H365.3V820.2H359.4zM359.4 812.9H371.2V816.6H359.4zM371.2 809.2H377.1V812.9H371.2zM377.1 805.6H382.9V809.2H377.1zM382.9 798.3H388.8V801.9H382.9zM382.9 794.6H388.8V798.3H382.9zM388.8 783.6H394.7V787.3H388.8zM388.8 779.9H394.7V783.6H388.8zM388.8 776.3H394.7V779.9H388.8zM394.7 754.3H400.6V758H394.7zM394.7 750.7H400.6V754.3H394.7zM394.7 743.3H400.6V747H394.7zM394.7 736H400.6V739.7H394.7zM400.6 710.4H406.5V714H400.6zM400.6 706.7H406.5V710.4H400.6zM400.6 703H406.5V706.7H400.6zM400.6 695.7H406.5V699.4H400.6zM406.5 684.7H412.4V688.4H406.5zM406.5 673.7H412.4V677.4H406.5zM406.5 670.1H412.4V673.7H406.5zM406.5 666.4H412.4V670.1H406.5zM406.5 662.8H412.4V666.4H406.5zM406.5 659.1H412.4V662.8H406.5z"/><path fill="#ff944d" d="M359.4 809.2H371.2V812.9H359.4zM371.2 805.6H377.1V809.2H371.2zM377.1 801.9H382.9V805.6H377.1zM377.1 798.3H382.9V801.9H377.1zM382.9 790.9H388.8V794.6H382.9zM382.9 787.3H388.8V790.9H382.9zM388.8 772.6H394.7V776.3H388.8zM388.8 769H394.7V772.6H388.8zM394.7 747H400.6V750.7H394.7zM394.7 739.7H400.6V743.3H394.7zM394.7 732.3H400.6V736H394.7zM394.7 728.7H400.6V732.3H394.7zM394.7 721.4H400.6V725H394.7zM394.7 717.7H400.6V721.4H394.7zM400.6 699.4H406.5V703H400.6zM400.6 692.1H406.5V695.7H400.6zM400.6 688.4H406.5V692.1H400.6zM400.6 684.7H406.5V688.4H400.6zM400.6 681.1H406.5V684.7H400.6zM400.6 677.4H406.5V681.1H400.6zM400.6 673.7H406.5V677.4H400.6zM400.6 670.1H406.5V673.7H400.6z"/><path fill="#ff8847" d="M365.3 805.6H371.2V809.2H365.3zM371.2 801.9H377.1V805.6H371.2zM371.2 798.3H377.1V801.9H371.2zM377.1 794.6H382.9V798.3H377.1zM377.1 790.9H382.9V794.6H377.1zM382.9 783.6H388.8V787.3H382.9zM382.9 779.9H388.8V783.6H382.9zM382.9 776.3H388.8V779.9H382.9zM382.9 772.6H388.8V776.3H382.9zM388.8 765.3H394.7V769H388.8zM388.8 761.6H394.7V765.3H388.8zM388.8 758H394.7V761.6H388.8zM388.8 754.3H394.7V758H388.8zM388.8 750.7H394.7V754.3H388.8zM388.8 747H394.7V750.7H388.8zM388.8 743.3H394.7V747H388.8zM394.7 725H400.6V728.7H394.7zM394.7 714H400.6V717.7H394.7zM394.7 710.4H400.6V714H394.7zM394.7 706.7H400.6V710.4H394.7zM394.7 703H400.6V706.7H394.7zM394.7 699.4H400.6V703H394.7zM394.7 695.7H400.6V699.4H394.7zM394.7 692.1H400.6V695.7H394.7zM400.6 666.4H406.5V670.1H400.6zM400.6 662.8H406.5V666.4H400.6zM400.6 659.1H406.5V662.8H400.6z"/><path fill="#ff7b40" d="M359.4 805.6H365.3V809.2H359.4zM365.3 801.9H371.2V805.6H365.3zM365.3 798.3H371.2V801.9H365.3zM371.2 794.6H377.1V798.3H371.2zM377.1 787.3H382.9V790.9H377.1zM382.9 769H388.8V772.6H382.9zM388.8 739.7H394.7V743.3H388.8zM388.8 736H394.7V739.7H388.8zM388.8 732.3H394.7V736H388.8zM388.8 728.7H394.7V732.3H388.8zM388.8 725H394.7V728.7H388.8zM388.8 721.4H394.7V725H388.8zM394.7 688.4H400.6V692.1H394.7zM394.7 684.7H400.6V688.4H394.7zM394.7 681.1H400.6V684.7H394.7zM394.7 677.4H400.6V681.1H394.7zM394.7 673.7H400.6V677.4H394.7zM394.7 670.1H400.6V673.7H394.7zM394.7 666.4H400.6V670.1H394.7z"/><path fill="#ff6f39" d="M359.4 801.9H365.3V805.6H359.4zM359.4 798.3H365.3V801.9H359.4zM365.3 794.6H371.2V798.3H365.3zM371.2 790.9H377.1V794.6H371.2zM371.2 787.3H377.1V790.9H371.2zM377.1 783.6H382.9V787.3H377.1zM377.1 779.9H382.9V783.6H377.1zM377.1 776.3H382.9V779.9H377.1zM377.1 772.6H382.9V776.3H377.1zM382.9 765.3H388.8V769H382.9zM382.9 761.6H388.8V765.3H382.9zM382.9 758H388.8V761.6H382.9zM382.9 754.3H388.8V758H382.9zM382.9 750.7H388.8V754.3H382.9zM382.9 747H388.8V750.7H382.9zM382.9 743.3H388.8V747H382.9zM382.9 739.7H388.8V743.3H382.9zM388.8 717.7H394.7V721.4H388.8zM388.8 714H394.7V717.7H388.8zM388.8 710.4H394.7V714H388.8zM388.8 706.7H394.7V710.4H388.8zM388.8 703H394.7V706.7H388.8zM388.8 695.7H394.7V699.4H388.8zM394.7 662.8H400.6V666.4H394.7zM394.7 659.1H400.6V662.8H394.7z"/><path fill="#ff6232" d="M359.4 794.6H365.3V798.3H359.4zM359.4 790.9H371.2V794.6H359.4zM365.3 787.3H371.2V790.9H365.3zM365.3 783.6H377.1V787.3H365.3zM371.2 779.9H377.1V783.6H371.2zM377.1 769H382.9V772.6H377.1zM377.1 765.3H382.9V769H377.1zM377.1 758H382.9V761.6H377.1zM382.9 736H388.8V739.7H382.9zM382.9 732.3H388.8V736H382.9zM382.9 728.7H388.8V732.3H382.9zM382.9 721.4H388.8V725H382.9zM388.8 699.4H394.7V703H388.8zM388.8 692.1H394.7V695.7H388.8zM388.8 688.4H394.7V692.1H388.8zM388.8 684.7H394.7V688.4H388.8zM388.8 681.1H394.7V684.7H388.8zM388.8 677.4H394.7V681.1H388.8zM388.8 673.7H394.7V677.4H388.8zM388.8 670.1H394.7V673.7H388.8zM388.8 662.8H394.7V666.4H388.8z"/><path fill="#ff542b" d="M359.4 787.3H365.3V790.9H359.4zM365.3 779.9H371.2V783.6H365.3zM365.3 776.3H377.1V779.9H365.3zM371.2 772.6H377.1V776.3H371.2zM377.1 761.6H382.9V765.3H377.1zM377.1 754.3H382.9V758H377.1zM377.1 750.7H382.9V754.3H377.1zM377.1 747H382.9V750.7H377.1zM377.1 739.7H382.9V743.3H377.1zM382.9 725H388.8V728.7H382.9zM382.9 717.7H388.8V721.4H382.9zM382.9 714H388.8V717.7H382.9zM382.9 710.4H388.8V714H382.9zM382.9 706.7H388.8V710.4H382.9zM382.9 703H388.8V706.7H382.9zM388.8 666.4H394.7V670.1H388.8zM388.8 659.1H394.7V662.8H388.8z"/><path fill="#ff4724" d="M359.4 783.6H365.3V787.3H359.4zM359.4 779.9H365.3V783.6H359.4zM359.4 776.3H365.3V779.9H359.4zM365.3 772.6H371.2V776.3H365.3zM365.3 769H377.1V772.6H365.3zM371.2 765.3H377.1V769H371.2zM371.2 761.6H377.1V765.3H371.2zM371.2 758H377.1V761.6H371.2zM371.2 754.3H377.1V758H371.2zM371.2 750.7H377.1V754.3H371.2zM377.1 743.3H382.9V747H377.1zM377.1 736H382.9V739.7H377.1zM377.1 732.3H382.9V736H377.1zM377.1 728.7H382.9V732.3H377.1zM377.1 725H382.9V728.7H377.1zM377.1 721.4H382.9V725H377.1zM382.9 699.4H388.8V703H382.9zM382.9 695.7H388.8V699.4H382.9zM382.9 692.1H388.8V695.7H382.9zM382.9 688.4H388.8V692.1H382.9zM382.9 684.7H388.8V688.4H382.9zM382.9 681.1H388.8V684.7H382.9zM382.9 677.4H388.8V681.1H382.9zM382.9 670.1H388.8V673.7H382.9zM382.9 666.4H388.8V670.1H382.9z"/><path fill="#ff391d" d="M359.4 772.6H365.3V776.3H359.4zM359.4 769H365.3V772.6H359.4zM365.3 765.3H371.2V769H365.3zM365.3 761.6H371.2V765.3H365.3zM365.3 758H371.2V761.6H365.3zM365.3 754.3H371.2V758H365.3zM371.2 747H377.1V750.7H371.2zM371.2 743.3H377.1V747H371.2zM371.2 739.7H377.1V743.3H371.2zM371.2 736H377.1V739.7H371.2zM371.2 732.3H377.1V736H371.2zM377.1 717.7H382.9V721.4H377.1zM377.1 714H382.9V717.7H377.1zM377.1 710.4H382.9V714H377.1zM377.1 706.7H382.9V710.4H377.1zM377.1 703H382.9V706.7H377.1zM382.9 673.7H388.8V677.4H382.9zM382.9 662.8H388.8V666.4H382.9zM382.9 659.1H388.8V662.8H382.9z"/><path fill="#ff2b15" d="M359.4 765.3H365.3V769H359.4zM359.4 761.6H365.3V765.3H359.4zM359.4 758H365.3V761.6H359.4zM359.4 754.3H365.3V758H359.4zM359.4 750.7H371.2V754.3H359.4zM365.3 747H371.2V750.7H365.3zM365.3 743.3H371.2V747H365.3zM365.3 739.7H371.2V743.3H365.3zM365.3 736H371.2V739.7H365.3zM365.3 732.3H371.2V736H365.3zM365.3 728.7H377.1V732.3H365.3zM371.2 725H377.1V728.7H371.2zM371.2 721.4H377.1V725H371.2zM371.2 717.7H377.1V721.4H371.2zM371.2 714H377.1V717.7H371.2zM371.2 706.7H377.1V710.4H371.2zM377.1 699.4H382.9V703H377.1zM377.1 695.7H382.9V699.4H377.1zM377.1 692.1H382.9V695.7H377.1zM377.1 688.4H382.9V692.1H377.1zM377.1 684.7H382.9V688.4H377.1zM377.1 681.1H382.9V684.7H377.1zM377.1 677.4H382.9V681.1H377.1zM377.1 673.7H382.9V677.4H377.1zM377.1 670.1H382.9V673.7H377.1zM377.1 666.4H382.9V670.1H377.1zM377.1 662.8H382.9V666.4H377.1zM377.1 659.1H382.9V662.8H377.1z"/><path fill="#ff1d0e" d="M359.4 747H365.3V750.7H359.4zM359.4 743.3H365.3V747H359.4zM359.4 739.7H365.3V743.3H359.4zM359.4 736H365.3V739.7H359.4zM365.3 725H371.2V728.7H365.3zM365.3 721.4H371.2V725H365.3zM365.3 717.7H371.2V721.4H365.3zM365.3 714H371.2V717.7H365.3zM371.2 710.4H377.1V714H371.2zM371.2 703H377.1V706.7H371.2zM371.2 699.4H377.1V703H371.2zM371.2 695.7H377.1V699.4H371.2zM371.2 692.1H377.1V695.7H371.2zM371.2 688.4H377.1V692.1H371.2zM371.2 684.7H377.1V688.4H371.2zM371.2 677.4H377.1V681.1H371.2zM371.2 673.7H377.1V677.4H371.2z"/><path fill="#ff0e07" d="M359.4 732.3H365.3V736H359.4zM359.4 728.7H365.3V732.3H359.4zM359.4 725H365.3V728.7H359.4zM359.4 721.4H365.3V725H359.4zM359.4 717.7H365.3V721.4H359.4zM359.4 714H365.3V717.7H359.4zM359.4 710.4H371.2V714H359.4zM365.3 706.7H371.2V710.4H365.3zM365.3 703H371.2V706.7H365.3zM365.3 699.4H371.2V703H365.3zM365.3 695.7H371.2V699.4H365.3zM365.3 692.1H371.2V695.7H365.3zM365.3 688.4H371.2V692.1H365.3zM365.3 684.7H371.2V688.4H365.3zM365.3 681.1H377.1V684.7H365.3zM365.3 677.4H371.2V681.1H365.3zM371.2 670.1H377.1V673.7H371.2zM371.2 666.4H377.1V670.1H371.2zM371.2 662.8H377.1V666.4H371.2zM371.2 659.1H377.1V662.8H371.2z"/><path fill="#ff0000" d="M359.4 706.7H365.3V710.4H359.4zM359.4 703H365.3V706.7H359.4zM359.4 699.4H365.3V703H359.4zM359.4 695.7H365.3V699.4H359.4zM359.4 692.1H365.3V695.7H359.4zM359.4 688.4H365.3V692.1H359.4zM359.4 684.7H365.3V688.4H359.4zM359.4 681.1H365.3V684.7H359.4zM359.4 677.4H365.3V681.1H359.4zM359.4 673.7H371.2V677.4H359.4zM359.4 670.1H371.2V673.7H359.4zM359.4 666.4H371.2V670.1H359.4zM359.4 662.8H371.2V666.4H359.4zM359.4 659.1H371.2V662.8H359.4z"/></g>
<g clip-path="url(#c32)" shape-rendering="crispEdges"><path fill="#8000ff" d="M703.1 783.6H713.5V787.3H703.1zM703.1 779.9H713.5V783.6H703.1z"/><path fill="#4062fa" d="M816.6 838.5H826.9V842.2H816.6zM703.1 776.3H713.5V779.9H703.1z"/><path fill="#2488f5" d="M837.2 801.9H847.5V805.6H837.2z"/><path fill="#1b94f3" d="M837.2 798.3H847.5V801.9H837.2z"/><path fill="#129ff1" d="M703.1 772.6H713.5V776.3H703.1z"/><path fill="#09aaee" d="M713.5 838.5H723.8V842.2H713.5zM816.6 834.9H826.9V838.5H816.6zM837.2 794.6H847.5V798.3H837.2zM847.5 769H857.8V772.6H847.5z"/><path fill="#00b4ec" d="M713.5 834.9H723.8V838.5H713.5zM826.9 820.2H837.2V823.9H826.9zM857.8 747H868.1V750.7H857.8z"/><path fill="#09bee9" d="M703.1 769H713.5V772.6H703.1z"/><path fill="#12c7e6" d="M806.2 838.5H816.6V842.2H806.2zM826.9 816.6H837.2V820.2H826.9zM837.2 790.9H847.5V794.6H837.2zM857.8 743.3H868.1V747H857.8z"/><path fill="#1bd0e3" d="M837.2 787.3H847.5V790.9H837.2zM703.1 765.3H713.5V769H703.1z"/><path fill="#24d8df" d="M816.6 831.2H826.9V834.9H816.6zM826.9 812.9H837.2V816.6H826.9zM847.5 761.6H857.8V765.3H847.5zM857.8 739.7H868.1V743.3H857.8zM868.1 721.4H878.4V725H868.1zM909.4 681.1H919.7V684.7H909.4z"/><path fill="#2edfdc" d="M837.2 783.6H847.5V787.3H837.2zM703.1 761.6H713.5V765.3H703.1zM888.7 695.7H899V699.4H888.7z"/><path fill="#37e6d8" d="M826.9 809.2H837.2V812.9H826.9zM703.1 758H713.5V761.6H703.1zM878.4 706.7H888.7V710.4H878.4zM940.3 666.4H950.6V670.1H940.3z"/><path fill="#40ecd4" d="M713.5 831.2H723.8V834.9H713.5zM816.6 827.6H826.9V831.2H816.6zM826.9 805.6H837.2V809.2H826.9zM837.2 779.9H847.5V783.6H837.2zM703.1 754.3H713.5V758H703.1zM857.8 736H868.1V739.7H857.8z"/><path fill="#49f1d0" d="M806.2 834.9H816.6V838.5H806.2zM847.5 754.3H857.8V758H847.5z"/><path fill="#52f5cc" d="M723.8 838.5H734.1V842.2H723.8zM795.9 838.5H806.2V842.2H795.9zM713.5 827.6H723.8V831.2H713.5zM816.6 823.9H826.9V827.6H816.6zM826.9 801.9H837.2V805.6H826.9zM837.2 776.3H847.5V779.9H837.2zM703.1 750.7H713.5V754.3H703.1zM703.1 747H713.5V750.7H703.1zM703.1 743.3H713.5V747H703.1z"/><path fill="#5bf9c7" d="M826.9 798.3H837.2V801.9H826.9zM703.1 739.7H713.5V743.3H703.1zM703.1 736H713.5V739.7H703.1zM703.1 732.3H713.5V736H703.1zM857.8 732.3H868.1V736H857.8zM703.1 728.7H713.5V732.3H703.1zM703.1 725H713.5V728.7H703.1zM703.1 714H713.5V717.7H703.1zM703.1 710.4H713.5V714H703.1zM703.1 699.4H713.5V703H703.1z"/><path fill="#64fbc3" d="M713.5 823.9H723.8V827.6H713.5zM816.6 820.2H826.9V823.9H816.6zM826.9 794.6H837.2V798.3H826.9zM837.2 772.6H847.5V776.3H837.2zM847.5 750.7H857.8V754.3H847.5zM703.1 721.4H713.5V725H703.1zM703.1 717.7H713.5V721.4H703.1zM703.1 706.7H713.5V710.4H703.1zM703.1 703H713.5V706.7H703.1zM703.1 695.7H713.5V699.4H703.1zM703.1 692.1H713.5V695.7H703.1zM703.1 688.4H713.5V692.1H703.1zM703.1 684.7H713.5V688.4H703.1zM703.1 681.1H713.5V684.7H703.1zM703.1 677.4H713.5V681.1H703.1zM703.1 670.1H713.5V673.7H703.1zM703.1 666.4H713.5V670.1H703.1zM703.1 662.8H713.5V666.4H703.1z"/><path fill="#6dfdbe" d="M806.2 831.2H816.6V834.9H806.2zM857.8 728.7H868.1V732.3H857.8zM868.1 714H878.4V717.7H868.1zM888.7 692.1H899V695.7H888.7zM703.1 673.7H713.5V677.4H703.1zM703.1 659.1H713.5V662.8H703.1z"/><path fill="#76ffb9" d="M713.5 820.2H723.8V823.9H713.5zM816.6 816.6H826.9V820.2H816.6zM826.9 790.9H837.2V794.6H826.9zM837.2 769H847.5V772.6H837.2zM847.5 747H857.8V750.7H847.5zM909.4 677.4H919.7V681.1H909.4z"/><path fill="#80ffb4" d="M734.1 838.5H744.4V842.2H734.1zM713.5 816.6H723.8V820.2H713.5zM816.6 812.9H826.9V816.6H816.6zM837.2 765.3H847.5V769H837.2zM857.8 725H868.1V728.7H857.8zM878.4 699.4H888.7V703H878.4zM950.6 662.8H960.9V666.4H950.6z"/><path fill="#89ffaf" d="M723.8 834.9H734.1V838.5H723.8zM795.9 834.9H806.2V838.5H795.9zM806.2 827.6H816.6V831.2H806.2zM713.5 812.9H723.8V816.6H713.5zM713.5 809.2H723.8V812.9H713.5zM826.9 787.3H837.2V790.9H826.9zM847.5 743.3H857.8V747H847.5zM868.1 710.4H878.4V714H868.1z"/><path fill="#92fdaa" d="M785.6 838.5H795.9V842.2H785.6zM806.2 823.9H816.6V827.6H806.2zM816.6 809.2H826.9V812.9H816.6zM713.5 805.6H723.8V809.2H713.5zM826.9 783.6H837.2V787.3H826.9zM837.2 761.6H847.5V765.3H837.2z"/><path fill="#9bfba5" d="M816.6 805.6H826.9V809.2H816.6zM713.5 801.9H723.8V805.6H713.5zM713.5 798.3H723.8V801.9H713.5zM826.9 779.9H837.2V783.6H826.9zM847.5 739.7H857.8V743.3H847.5zM857.8 721.4H868.1V725H857.8zM868.1 706.7H878.4V710.4H868.1zM888.7 688.4H899V692.1H888.7z"/><path fill="#a4f99f" d="M816.6 801.9H826.9V805.6H816.6zM713.5 794.6H723.8V798.3H713.5zM826.9 776.3H837.2V779.9H826.9zM837.2 758H847.5V761.6H837.2zM878.4 695.7H888.7V699.4H878.4zM899 681.1H909.4V684.7H899z"/><path fill="#adf599" d="M744.4 838.5H754.7V842.2H744.4zM723.8 831.2H734.1V834.9H723.8zM806.2 820.2H816.6V823.9H806.2zM816.6 798.3H826.9V801.9H816.6zM713.5 790.9H723.8V794.6H713.5zM713.5 787.3H723.8V790.9H713.5zM847.5 736H857.8V739.7H847.5z"/><path fill="#b6f194" d="M795.9 831.2H806.2V834.9H795.9zM723.8 827.6H734.1V831.2H723.8zM806.2 816.6H816.6V820.2H806.2zM816.6 794.6H826.9V798.3H816.6zM713.5 783.6H723.8V787.3H713.5zM713.5 779.9H723.8V783.6H713.5zM713.5 776.3H723.8V779.9H713.5zM826.9 772.6H837.2V776.3H826.9zM837.2 754.3H847.5V758H837.2zM857.8 717.7H868.1V721.4H857.8zM919.7 670.1H930V673.7H919.7z"/><path fill="#bfec8e" d="M754.7 838.5H765V842.2H754.7zM734.1 834.9H744.4V838.5H734.1zM816.6 790.9H826.9V794.6H816.6zM816.6 787.3H826.9V790.9H816.6zM713.5 772.6H723.8V776.3H713.5zM713.5 769H723.8V772.6H713.5zM826.9 769H837.2V772.6H826.9zM713.5 765.3H723.8V769H713.5zM713.5 761.6H723.8V765.3H713.5zM713.5 758H723.8V761.6H713.5zM837.2 750.7H847.5V754.3H837.2zM847.5 732.3H857.8V736H847.5zM868.1 703H878.4V706.7H868.1zM909.4 673.7H919.7V677.4H909.4zM713.5 666.4H723.8V670.1H713.5zM930 666.4H940.3V670.1H930zM713.5 659.1H723.8V662.8H713.5z"/><path fill="#c8e688" d="M775.3 838.5H785.6V842.2H775.3zM785.6 834.9H795.9V838.5H785.6zM795.9 827.6H806.2V831.2H795.9zM723.8 823.9H734.1V827.6H723.8zM806.2 812.9H816.6V816.6H806.2zM806.2 809.2H816.6V812.9H806.2zM713.5 754.3H723.8V758H713.5zM713.5 750.7H723.8V754.3H713.5zM713.5 747H723.8V750.7H713.5zM713.5 743.3H723.8V747H713.5zM713.5 739.7H723.8V743.3H713.5zM713.5 736H723.8V739.7H713.5zM713.5 732.3H723.8V736H713.5zM713.5 728.7H723.8V732.3H713.5zM847.5 728.7H857.8V732.3H847.5zM713.5 721.4H723.8V725H713.5zM713.5 717.7H723.8V721.4H713.5zM713.5 714H723.8V717.7H713.5zM857.8 714H868.1V717.7H857.8zM713.5 710.4H723.8V714H713.5zM713.5 706.7H723.8V710.4H713.5zM713.5 703H723.8V706.7H713.5zM713.5 699.4H723.8V703H713.5zM713.5 695.7H723.8V699.4H713.5zM713.5 692.1H723.8V695.7H713.5zM878.4 692.1H888.7V695.7H878.4zM713.5 688.4H723.8V692.1H713.5zM713.5 684.7H723.8V688.4H713.5zM888.7 684.7H899V688.4H888.7zM713.5 681.1H723.8V684.7H713.5zM713.5 677.4H723.8V681.1H713.5zM713.5 673.7H723.8V677.4H713.5zM713.5 670.1H723.8V673.7H713.5zM713.5 662.8H723.8V666.4H713.5z"/><path fill="#d1df82" d="M765 838.5H775.3V842.2H765zM723.8 820.2H734.1V823.9H723.8zM723.8 816.6H734.1V820.2H723.8zM806.2 805.6H816.6V809.2H806.2zM816.6 783.6H826.9V787.3H816.6zM816.6 779.9H826.9V783.6H816.6zM826.9 765.3H837.2V769H826.9zM837.2 747H847.5V750.7H837.2zM713.5 725H723.8V728.7H713.5zM899 677.4H909.4V681.1H899zM940.3 662.8H950.6V666.4H940.3z"/><path fill="#dbd87b" d="M734.1 831.2H744.4V834.9H734.1zM795.9 823.9H806.2V827.6H795.9zM723.8 812.9H734.1V816.6H723.8zM723.8 809.2H734.1V812.9H723.8zM806.2 801.9H816.6V805.6H806.2zM826.9 761.6H837.2V765.3H826.9zM837.2 743.3H847.5V747H837.2zM837.2 739.7H847.5V743.3H837.2zM847.5 725H857.8V728.7H847.5zM857.8 710.4H868.1V714H857.8zM868.1 699.4H878.4V703H868.1z"/><path fill="#e4d075" d="M744.4 834.9H754.7V838.5H744.4zM734.1 827.6H744.4V831.2H734.1zM795.9 820.2H806.2V823.9H795.9zM723.8 805.6H734.1V809.2H723.8zM723.8 801.9H734.1V805.6H723.8zM806.2 798.3H816.6V801.9H806.2zM816.6 776.3H826.9V779.9H816.6zM826.9 758H837.2V761.6H826.9zM847.5 721.4H857.8V725H847.5zM878.4 688.4H888.7V692.1H878.4z"/><path fill="#edc76f" d="M785.6 831.2H795.9V834.9H785.6zM795.9 816.6H806.2V820.2H795.9zM723.8 798.3H734.1V801.9H723.8zM723.8 794.6H734.1V798.3H723.8zM806.2 794.6H816.6V798.3H806.2zM723.8 790.9H734.1V794.6H723.8zM723.8 787.3H734.1V790.9H723.8zM723.8 779.9H734.1V783.6H723.8zM723.8 776.3H734.1V779.9H723.8zM816.6 772.6H826.9V776.3H816.6zM826.9 754.3H837.2V758H826.9zM837.2 736H847.5V739.7H837.2zM847.5 717.7H857.8V721.4H847.5zM857.8 706.7H868.1V710.4H857.8zM868.1 695.7H878.4V699.4H868.1zM888.7 681.1H899V684.7H888.7z"/><path fill="#f6be68" d="M754.7 834.9H765V838.5H754.7zM775.3 834.9H785.6V838.5H775.3zM734.1 823.9H744.4V827.6H734.1zM806.2 790.9H816.6V794.6H806.2zM723.8 783.6H734.1V787.3H723.8zM723.8 772.6H734.1V776.3H723.8zM723.8 769H734.1V772.6H723.8zM816.6 769H826.9V772.6H816.6zM723.8 765.3H734.1V769H723.8zM723.8 761.6H734.1V765.3H723.8zM723.8 758H734.1V761.6H723.8zM723.8 754.3H734.1V758H723.8zM826.9 750.7H837.2V754.3H826.9zM723.8 747H734.1V750.7H723.8zM723.8 743.3H734.1V747H723.8zM723.8 739.7H734.1V743.3H723.8zM837.2 732.3H847.5V736H837.2z"/><path fill="#ffb462" d="M744.4 831.2H754.7V834.9H744.4zM785.6 827.6H795.9V831.2H785.6zM795.9 812.9H806.2V816.6H795.9zM795.9 809.2H806.2V812.9H795.9zM806.2 787.3H816.6V790.9H806.2zM806.2 783.6H816.6V787.3H806.2zM816.6 765.3H826.9V769H816.6zM723.8 750.7H734.1V754.3H723.8zM723.8 736H734.1V739.7H723.8zM723.8 732.3H734.1V736H723.8zM723.8 728.7H734.1V732.3H723.8zM723.8 725H734.1V728.7H723.8zM723.8 721.4H734.1V725H723.8zM723.8 717.7H734.1V721.4H723.8zM723.8 714H734.1V717.7H723.8zM847.5 714H857.8V717.7H847.5zM723.8 710.4H734.1V714H723.8zM723.8 706.7H734.1V710.4H723.8zM723.8 703H734.1V706.7H723.8zM857.8 703H868.1V706.7H857.8zM723.8 699.4H734.1V703H723.8zM723.8 695.7H734.1V699.4H723.8zM723.8 692.1H734.1V695.7H723.8zM723.8 681.1H734.1V684.7H723.8zM723.8 677.4H734.1V681.1H723.8zM723.8 673.7H734.1V677.4H723.8zM909.4 670.1H919.7V673.7H909.4zM950.6 659.1H960.9V662.8H950.6z"/><path fill="#ffaa5b" d="M765 834.9H775.3V838.5H765zM734.1 820.2H744.4V823.9H734.1zM734.1 816.6H744.4V820.2H734.1zM795.9 805.6H806.2V809.2H795.9zM795.9 801.9H806.2V805.6H795.9zM806.2 779.9H816.6V783.6H806.2zM816.6 761.6H826.9V765.3H816.6zM826.9 747H837.2V750.7H826.9zM826.9 743.3H837.2V747H826.9zM837.2 728.7H847.5V732.3H837.2zM868.1 692.1H878.4V695.7H868.1zM723.8 688.4H734.1V692.1H723.8zM723.8 684.7H734.1V688.4H723.8zM878.4 684.7H888.7V688.4H878.4zM888.7 677.4H899V681.1H888.7zM899 673.7H909.4V677.4H899zM723.8 670.1H734.1V673.7H723.8zM723.8 666.4H734.1V670.1H723.8zM723.8 662.8H734.1V666.4H723.8zM723.8 659.1H734.1V662.8H723.8z"/><path fill="#ff9f54" d="M744.4 827.6H754.7V831.2H744.4zM785.6 823.9H795.9V827.6H785.6zM734.1 812.9H744.4V816.6H734.1zM734.1 809.2H744.4V812.9H734.1zM795.9 798.3H806.2V801.9H795.9zM806.2 776.3H816.6V779.9H806.2zM816.6 758H826.9V761.6H816.6zM837.2 725H847.5V728.7H837.2zM847.5 710.4H857.8V714H847.5zM857.8 699.4H868.1V703H857.8zM919.7 666.4H930V670.1H919.7z"/><path fill="#ff944d" d="M754.7 831.2H765V834.9H754.7zM785.6 820.2H795.9V823.9H785.6zM734.1 805.6H744.4V809.2H734.1zM734.1 801.9H744.4V805.6H734.1zM734.1 798.3H744.4V801.9H734.1zM734.1 794.6H744.4V798.3H734.1zM795.9 794.6H806.2V798.3H795.9zM806.2 772.6H816.6V776.3H806.2zM806.2 769H816.6V772.6H806.2zM826.9 739.7H837.2V743.3H826.9zM837.2 721.4H847.5V725H837.2zM868.1 688.4H878.4V692.1H868.1zM878.4 681.1H888.7V684.7H878.4zM940.3 659.1H950.6V662.8H940.3z"/><path fill="#ff8847" d="M765 831.2H785.6V834.9H765zM754.7 827.6H765V831.2H754.7zM744.4 823.9H754.7V827.6H744.4zM744.4 820.2H754.7V823.9H744.4zM734.1 790.9H744.4V794.6H734.1zM795.9 790.9H806.2V794.6H795.9zM734.1 787.3H744.4V790.9H734.1zM734.1 783.6H744.4V787.3H734.1zM734.1 779.9H744.4V783.6H734.1zM734.1 772.6H744.4V776.3H734.1zM816.6 754.3H826.9V758H816.6zM826.9 736H837.2V739.7H826.9zM837.2 717.7H847.5V721.4H837.2zM847.5 706.7H857.8V710.4H847.5zM857.8 695.7H868.1V699.4H857.8z"/><path fill="#ff7b40" d="M775.3 827.6H785.6V831.2H775.3zM744.4 816.6H754.7V820.2H744.4zM785.6 816.6H795.9V820.2H785.6zM785.6 812.9H795.9V816.6H785.6zM795.9 787.3H806.2V790.9H795.9zM795.9 783.6H806.2V787.3H795.9zM734.1 776.3H744.4V779.9H734.1zM734.1 769H744.4V772.6H734.1zM734.1 765.3H744.4V769H734.1zM806.2 765.3H816.6V769H806.2zM734.1 761.6H744.4V765.3H734.1zM806.2 761.6H816.6V765.3H806.2zM734.1 758H744.4V761.6H734.1zM734.1 754.3H744.4V758H734.1zM734.1 750.7H744.4V754.3H734.1zM816.6 750.7H826.9V754.3H816.6zM734.1 747H744.4V750.7H734.1zM816.6 747H826.9V750.7H816.6zM734.1 743.3H744.4V747H734.1zM816.6 743.3H826.9V747H816.6zM734.1 739.7H744.4V743.3H734.1zM734.1 736H744.4V739.7H734.1zM734.1 732.3H744.4V736H734.1zM826.9 732.3H837.2V736H826.9zM826.9 728.7H837.2V732.3H826.9zM826.9 725H837.2V728.7H826.9zM837.2 714H847.5V717.7H837.2zM734.1 706.7H744.4V710.4H734.1zM734.1 703H744.4V706.7H734.1zM930 662.8H940.3V666.4H930z"/><path fill="#ff6f39" d="M765 827.6H775.3V831.2H765zM754.7 823.9H765V827.6H754.7zM744.4 812.9H754.7V816.6H744.4zM744.4 809.2H754.7V812.9H744.4zM785.6 809.2H795.9V812.9H785.6zM795.9 779.9H806.2V783.6H795.9zM806.2 758H816.6V761.6H806.2zM816.6 739.7H826.9V743.3H816.6zM816.6 736H826.9V739.7H816.6zM734.1 728.7H744.4V732.3H734.1zM734.1 725H744.4V728.7H734.1zM734.1 721.4H744.4V725H734.1zM734.1 717.7H744.4V721.4H734.1zM734.1 714H744.4V717.7H734.1zM734.1 710.4H744.4V714H734.1zM847.5 703H857.8V706.7H847.5zM734.1 699.4H744.4V703H734.1zM734.1 695.7H744.4V699.4H734.1zM734.1 692.1H744.4V695.7H734.1zM857.8 692.1H868.1V695.7H857.8zM734.1 688.4H744.4V692.1H734.1zM734.1 684.7H744.4V688.4H734.1zM868.1 684.7H878.4V688.4H868.1zM734.1 681.1H744.4V684.7H734.1zM734.1 677.4H744.4V681.1H734.1zM734.1 670.1H744.4V673.7H734.1zM899 670.1H909.4V673.7H899zM734.1 666.4H744.4V670.1H734.1zM734.1 659.1H744.4V662.8H734.1z"/><path fill="#ff6232" d="M775.3 823.9H785.6V827.6H775.3zM754.7 820.2H765V823.9H754.7zM754.7 816.6H765V820.2H754.7zM744.4 805.6H754.7V809.2H744.4zM785.6 805.6H795.9V809.2H785.6zM744.4 801.9H754.7V805.6H744.4zM744.4 798.3H754.7V801.9H744.4zM795.9 776.3H806.2V779.9H795.9zM795.9 772.6H806.2V776.3H795.9zM806.2 754.3H816.6V758H806.2zM806.2 750.7H816.6V754.3H806.2zM816.6 732.3H826.9V736H816.6zM826.9 721.4H837.2V725H826.9zM826.9 717.7H837.2V721.4H826.9zM837.2 710.4H847.5V714H837.2zM847.5 699.4H857.8V703H847.5zM857.8 688.4H868.1V692.1H857.8zM878.4 677.4H888.7V681.1H878.4zM734.1 673.7H744.4V677.4H734.1zM888.7 673.7H899V677.4H888.7zM909.4 666.4H919.7V670.1H909.4zM734.1 662.8H744.4V666.4H734.1z"/><path fill="#ff542b" d="M765 823.9H775.3V827.6H765zM775.3 820.2H785.6V823.9H775.3zM754.7 812.9H765V816.6H754.7zM785.6 801.9H795.9V805.6H785.6zM785.6 798.3H795.9V801.9H785.6zM744.4 794.6H754.7V798.3H744.4zM785.6 794.6H795.9V798.3H785.6zM744.4 790.9H754.7V794.6H744.4zM785.6 790.9H795.9V794.6H785.6zM744.4 787.3H754.7V790.9H744.4zM744.4 783.6H754.7V787.3H744.4zM795.9 769H806.2V772.6H795.9zM795.9 765.3H806.2V769H795.9zM806.2 747H816.6V750.7H806.2zM816.6 728.7H826.9V732.3H816.6zM816.6 725H826.9V728.7H816.6zM826.9 714H837.2V717.7H826.9zM837.2 706.7H847.5V710.4H837.2zM837.2 703H847.5V706.7H837.2zM847.5 695.7H857.8V699.4H847.5zM868.1 681.1H878.4V684.7H868.1zM930 659.1H940.3V662.8H930z"/><path fill="#ff4724" d="M765 820.2H775.3V823.9H765zM765 816.6H785.6V820.2H765zM754.7 809.2H765V812.9H754.7zM775.3 809.2H785.6V812.9H775.3zM785.6 787.3H795.9V790.9H785.6zM744.4 779.9H754.7V783.6H744.4zM744.4 776.3H754.7V779.9H744.4zM744.4 772.6H754.7V776.3H744.4zM744.4 769H754.7V772.6H744.4zM795.9 761.6H806.2V765.3H795.9zM795.9 758H806.2V761.6H795.9zM795.9 754.3H806.2V758H795.9zM806.2 743.3H816.6V747H806.2zM806.2 739.7H816.6V743.3H806.2zM806.2 736H816.6V739.7H806.2zM806.2 732.3H816.6V736H806.2zM806.2 728.7H816.6V732.3H806.2zM806.2 725H816.6V728.7H806.2zM806.2 721.4H826.9V725H806.2zM806.2 717.7H826.9V721.4H806.2zM806.2 714H826.9V717.7H806.2zM816.6 710.4H837.2V714H816.6zM816.6 706.7H837.2V710.4H816.6zM837.2 699.4H847.5V703H837.2zM847.5 692.1H857.8V695.7H847.5zM857.8 684.7H868.1V688.4H857.8zM878.4 673.7H888.7V677.4H878.4zM888.7 670.1H899V673.7H888.7zM919.7 662.8H930V666.4H919.7z"/><path fill="#ff391d" d="M765 812.9H785.6V816.6H765zM754.7 805.6H765V809.2H754.7zM754.7 801.9H765V805.6H754.7zM754.7 798.3H765V801.9H754.7zM785.6 783.6H795.9V787.3H785.6zM785.6 779.9H795.9V783.6H785.6zM785.6 776.3H795.9V779.9H785.6zM785.6 772.6H795.9V776.3H785.6zM744.4 765.3H754.7V769H744.4zM744.4 761.6H754.7V765.3H744.4zM744.4 758H754.7V761.6H744.4zM744.4 754.3H754.7V758H744.4zM744.4 750.7H754.7V754.3H744.4zM795.9 750.7H806.2V754.3H795.9zM744.4 747H754.7V750.7H744.4zM744.4 743.3H754.7V747H744.4zM744.4 739.7H754.7V743.3H744.4zM795.9 739.7H806.2V743.3H795.9zM744.4 736H754.7V739.7H744.4zM744.4 732.3H754.7V736H744.4zM744.4 728.7H754.7V732.3H744.4zM744.4 725H754.7V728.7H744.4zM744.4 721.4H754.7V725H744.4zM744.4 710.4H754.7V714H744.4zM806.2 710.4H816.6V714H806.2zM806.2 706.7H816.6V710.4H806.2zM806.2 703H837.2V706.7H806.2zM806.2 699.4H837.2V703H806.2zM816.6 695.7H847.5V699.4H816.6zM806.2 692.1H847.5V695.7H806.2zM816.6 688.4H857.8V692.1H816.6zM806.2 684.7H857.8V688.4H806.2zM847.5 681.1H868.1V684.7H847.5zM826.9 677.4H857.8V681.1H826.9zM868.1 677.4H878.4V681.1H868.1zM816.6 673.7H826.9V677.4H816.6zM837.2 673.7H847.5V677.4H837.2zM816.6 670.1H826.9V673.7H816.6zM826.9 662.8H837.2V666.4H826.9zM919.7 659.1H930V662.8H919.7z"/><path fill="#ff2b15" d="M765 809.2H775.3V812.9H765zM775.3 805.6H785.6V809.2H775.3zM775.3 801.9H785.6V805.6H775.3zM775.3 798.3H785.6V801.9H775.3zM754.7 794.6H765V798.3H754.7zM775.3 794.6H785.6V798.3H775.3zM754.7 790.9H765V794.6H754.7zM754.7 787.3H765V790.9H754.7zM754.7 779.9H765V783.6H754.7zM785.6 769H795.9V772.6H785.6zM785.6 765.3H795.9V769H785.6zM795.9 747H806.2V750.7H795.9zM795.9 743.3H806.2V747H795.9zM795.9 736H806.2V739.7H795.9zM795.9 732.3H806.2V736H795.9zM795.9 728.7H806.2V732.3H795.9zM795.9 725H806.2V728.7H795.9zM795.9 721.4H806.2V725H795.9zM744.4 717.7H754.7V721.4H744.4zM795.9 717.7H806.2V721.4H795.9zM744.4 714H754.7V717.7H744.4zM795.9 710.4H806.2V714H795.9zM744.4 706.7H754.7V710.4H744.4zM795.9 706.7H806.2V710.4H795.9zM744.4 703H754.7V706.7H744.4zM744.4 699.4H754.7V703H744.4zM795.9 699.4H806.2V703H795.9zM744.4 695.7H754.7V699.4H744.4zM806.2 695.7H816.6V699.4H806.2zM744.4 692.1H754.7V695.7H744.4zM744.4 688.4H754.7V692.1H744.4zM806.2 688.4H816.6V692.1H806.2zM744.4 684.7H754.7V688.4H744.4zM744.4 681.1H754.7V684.7H744.4zM806.2 681.1H847.5V684.7H806.2zM744.4 677.4H754.7V681.1H744.4zM806.2 677.4H826.9V681.1H806.2zM857.8 677.4H868.1V681.1H857.8zM744.4 673.7H754.7V677.4H744.4zM806.2 673.7H816.6V677.4H806.2zM826.9 673.7H837.2V677.4H826.9zM847.5 673.7H878.4V677.4H847.5zM744.4 670.1H754.7V673.7H744.4zM806.2 670.1H816.6V673.7H806.2zM826.9 670.1H888.7V673.7H826.9zM744.4 666.4H754.7V670.1H744.4zM806.2 666.4H909.4V670.1H806.2zM806.2 662.8H826.9V666.4H806.2zM837.2 662.8H919.7V666.4H837.2zM744.4 659.1H754.7V662.8H744.4zM806.2 659.1H919.7V662.8H806.2z"/><path fill="#ff1d0e" d="M765 805.6H775.3V809.2H765zM765 801.9H775.3V805.6H765zM765 798.3H775.3V801.9H765zM765 794.6H775.3V798.3H765zM765 790.9H785.6V794.6H765zM775.3 787.3H785.6V790.9H775.3zM754.7 783.6H765V787.3H754.7zM775.3 783.6H785.6V787.3H775.3zM775.3 779.9H785.6V783.6H775.3zM754.7 776.3H765V779.9H754.7zM754.7 772.6H765V776.3H754.7zM754.7 769H765V772.6H754.7zM754.7 765.3H765V769H754.7zM785.6 761.6H795.9V765.3H785.6zM785.6 758H795.9V761.6H785.6zM785.6 754.3H795.9V758H785.6zM785.6 750.7H795.9V754.3H785.6zM785.6 743.3H795.9V747H785.6zM795.9 714H806.2V717.7H795.9zM795.9 703H806.2V706.7H795.9zM795.9 695.7H806.2V699.4H795.9zM795.9 692.1H806.2V695.7H795.9zM795.9 688.4H806.2V692.1H795.9zM795.9 684.7H806.2V688.4H795.9zM795.9 681.1H806.2V684.7H795.9zM795.9 677.4H806.2V681.1H795.9zM795.9 673.7H806.2V677.4H795.9zM795.9 670.1H806.2V673.7H795.9zM795.9 666.4H806.2V670.1H795.9zM744.4 662.8H754.7V666.4H744.4z"/><path fill="#ff0e07" d="M765 787.3H775.3V790.9H765zM765 783.6H775.3V787.3H765zM775.3 776.3H785.6V779.9H775.3zM775.3 772.6H785.6V776.3H775.3zM754.7 761.6H765V765.3H754.7zM754.7 758H765V761.6H754.7zM754.7 754.3H765V758H754.7zM754.7 750.7H765V754.3H754.7zM785.6 747H795.9V750.7H785.6zM754.7 739.7H765V743.3H754.7zM785.6 739.7H795.9V743.3H785.6zM754.7 736H765V739.7H754.7zM785.6 736H795.9V739.7H785.6zM754.7 732.3H765V736H754.7zM785.6 732.3H795.9V736H785.6zM754.7 728.7H765V732.3H754.7zM785.6 728.7H795.9V732.3H785.6zM785.6 725H795.9V728.7H785.6zM785.6 714H795.9V717.7H785.6zM795.9 662.8H806.2V666.4H795.9zM795.9 659.1H806.2V662.8H795.9z"/><path fill="#ff0000" d="M765 779.9H775.3V783.6H765zM765 776.3H775.3V779.9H765zM765 772.6H775.3V776.3H765zM765 769H785.6V772.6H765zM765 765.3H785.6V769H765zM765 761.6H785.6V765.3H765zM765 758H785.6V761.6H765zM765 754.3H785.6V758H765zM765 750.7H785.6V754.3H765zM754.7 747H785.6V750.7H754.7zM754.7 743.3H785.6V747H754.7zM765 739.7H785.6V743.3H765zM765 736H785.6V739.7H765zM765 732.3H785.6V736H765zM765 728.7H785.6V732.3H765zM754.7 725H785.6V728.7H754.7zM754.7 721.4H795.9V725H754.7zM754.7 717.7H795.9V721.4H754.7zM754.7 714H785.6V717.7H754.7zM754.7 710.4H795.9V714H754.7zM754.7 706.7H795.9V710.4H754.7zM754.7 703H795.9V706.7H754.7zM754.7 699.4H795.9V703H754.7zM754.7 695.7H795.9V699.4H754.7zM754.7 692.1H795.9V695.7H754.7zM754.7 688.4H795.9V692.1H754.7zM754.7 684.7H795.9V688.4H754.7zM754.7 681.1H795.9V684.7H754.7zM754.7 677.4H795.9V681.1H754.7zM754.7 673.7H795.9V677.4H754.7zM754.7 670.1H795.9V673.7H754.7zM754.7 666.4H795.9V670.1H754.7zM754.7 662.8H795.9V666.4H754.7zM754.7 659.1H795.9V662.8H754.7z"/></g>
<g fill="#1f77b4">
<path d="M63.90 246.90V243.55H69.67V235.59H75.45V233.49H81.22V232.24H87.00V230.56H92.78V228.88H98.55V225.53H104.33V227.21H110.10V228.88H115.88V225.95H121.65V223.02H127.43V221.76H133.20V215.48H138.97V206.26H144.75V209.19H150.53V205.00H156.30V199.55H162.08V186.98H167.85V194.11H173.62V181.54H179.40V175.67H185.18V186.98H190.95V192.43H196.73V197.46H202.50V203.74H208.28V209.61H214.05V209.61H219.83V215.89H225.60V211.28H231.38V61.28H237.15V152.21H242.93V233.49H248.70V238.10H254.48V243.55H260.25V241.45H266.02V240.20H271.80V242.29H277.57V245.22H283.35V244.39H289.12V239.36H294.90V246.65H300.68V246.40H306.45V246.90H312.23V246.90H318.00V246.90H323.77V246.90H329.55V246.90H335.32V246.90H341.10V245.64H346.88V246.90Z"/>
<path d="M666.50 246.90V245.64H671.95V242.74H677.40V238.46H682.86V235.18H688.31V232.16H693.76V228.25H699.21V223.97H704.66V221.45H710.12V217.16H715.57V214.14H721.02V210.36H726.47V207.84H731.92V203.68H737.38V200.66H742.83V196.12H748.28V192.72H753.73V191.21H759.18V188.18H764.64V184.28H770.09V182.14H775.54V177.98H780.99V176.09H786.44V171.30H791.90V169.54H797.35V166.76H802.80V165.50H808.25V162.10H813.70V158.57H819.16V155.68H824.61V153.91H830.06V149.12H835.51V146.86H840.96V145.47H846.42V142.70H851.87V139.17H857.32V135.64H862.77V134.51H868.22V131.86H873.68V128.59H879.13V124.68H884.58V121.66H890.03V120.65H895.48V116.74H900.94V109.94H906.39V108.30H911.84V105.53H917.29V98.47H922.74V90.03H928.20V83.10H933.65V59.66H939.10V246.90Z"/>
<path d="M359.40 448.30V258.66H365.28V267.41H371.17V322.30H377.05V345.82H382.94V372.81H388.82V386.12H394.71V399.90H400.59V408.33H406.48V415.11H412.36V419.56H418.25V422.81H424.13V424.96H430.02V425.87H435.90V430.06H441.79V429.34H447.67V432.40H453.56V434.26H459.44V435.68H465.33V437.36H471.21V438.09H477.10V438.09H482.98V439.40H488.87V439.66H494.75V440.35H500.64V441.37H506.52V441.52H512.41V441.92H518.29V442.28H524.18V442.65H530.06V443.01H535.95V443.38H541.84V443.74H547.72V444.11H553.61V444.47H559.49V444.84H565.38V445.20H571.26V445.75H577.14V446.29H583.03V446.48H588.91V446.66H594.80V446.84H600.68V447.02H606.57V447.13H612.45V447.21H618.34V447.28H624.22V447.39H630.11V447.46H635.99V447.57H641.88V448.30Z"/>
<path d="M703.15 649.75V649.41H713.46V645.22H723.77V632.97H734.08V591.44H744.39V522.22H754.70V476.50H765.01V467.85H775.32V480.27H785.63V499.99H795.94V527.68H806.25V557.46H816.56V580.11H826.87V599.16H837.18V613.67H847.49V623.91H857.80V631.12H868.11V636.45H878.42V639.89H888.73V642.83H899.04V644.97H909.35V646.56H919.66V647.65H929.97V648.41H940.28V648.91H950.59V649.25H952.70V649.75Z"/>
</g>
<rect x="953.30" y="649.75" width="15.00" height="201.45" fill="url(#cb)" stroke="#000" stroke-width="0.9"/>
<path d="M968.3 851.2h-4.2M968.3 836.0h-2.3M968.3 827.2h-2.3M968.3 820.9h-2.3M968.3 816.0h-2.3M968.3 812.0h-2.3M968.3 808.6h-2.3M968.3 805.7h-2.3M968.3 803.1h-2.3M968.3 800.8h-4.2M968.3 785.7h-2.3M968.3 776.8h-2.3M968.3 770.5h-2.3M968.3 765.6h-2.3M968.3 761.6h-2.3M968.3 758.3h-2.3M968.3 755.4h-2.3M968.3 752.8h-2.3M968.3 750.5h-4.2M968.3 735.3h-2.3M968.3 726.4h-2.3M968.3 720.2h-2.3M968.3 715.3h-2.3M968.3 711.3h-2.3M968.3 707.9h-2.3M968.3 705.0h-2.3M968.3 702.4h-2.3M968.3 700.1h-4.2M968.3 685.0h-2.3M968.3 676.1h-2.3M968.3 669.8h-2.3M968.3 664.9h-2.3M968.3 660.9h-2.3M968.3 657.6h-2.3M968.3 654.6h-2.3M968.3 652.1h-2.3M968.3 649.8h-4.2" stroke="#000" stroke-width="0.8" fill="none"/>
<g stroke="#000" fill="none">
<path stroke-width="0.8" d="M75.5 45.5v3.6M75.5 246.9v-3.6M87.0 45.5v3.6M87.0 246.9v-3.6M98.6 45.5v3.6M98.6 246.9v-3.6M110.1 45.5v3.6M110.1 246.9v-3.6M133.2 45.5v3.6M133.2 246.9v-3.6M144.8 45.5v3.6M144.8 246.9v-3.6M156.3 45.5v3.6M156.3 246.9v-3.6M167.8 45.5v3.6M167.8 246.9v-3.6M191.0 45.5v3.6M191.0 246.9v-3.6M202.5 45.5v3.6M202.5 246.9v-3.6M214.1 45.5v3.6M214.1 246.9v-3.6M225.6 45.5v3.6M225.6 246.9v-3.6M248.7 45.5v3.6M248.7 246.9v-3.6M260.2 45.5v3.6M260.2 246.9v-3.6M271.8 45.5v3.6M271.8 246.9v-3.6M283.4 45.5v3.6M283.4 246.9v-3.6M306.4 45.5v3.6M306.4 246.9v-3.6M318.0 45.5v3.6M318.0 246.9v-3.6M329.6 45.5v3.6M329.6 246.9v-3.6M341.1 45.5v3.6M341.1 246.9v-3.6M52.7 238.5h3.6M352.7 238.5h-3.6M52.7 230.1h3.6M352.7 230.1h-3.6M52.7 221.8h3.6M352.7 221.8h-3.6M52.7 213.4h3.6M352.7 213.4h-3.6M52.7 196.6h3.6M352.7 196.6h-3.6M52.7 188.2h3.6M352.7 188.2h-3.6M52.7 179.9h3.6M352.7 179.9h-3.6M52.7 171.5h3.6M352.7 171.5h-3.6M52.7 154.7h3.6M352.7 154.7h-3.6M52.7 146.3h3.6M352.7 146.3h-3.6M52.7 138.0h3.6M352.7 138.0h-3.6M52.7 129.6h3.6M352.7 129.6h-3.6M52.7 112.8h3.6M352.7 112.8h-3.6M52.7 104.4h3.6M352.7 104.4h-3.6M52.7 96.1h3.6M352.7 96.1h-3.6M52.7 87.7h3.6M352.7 87.7h-3.6M52.7 70.9h3.6M352.7 70.9h-3.6M52.7 62.5h3.6M352.7 62.5h-3.6M52.7 54.2h3.6M352.7 54.2h-3.6M655.6 45.5v3.6M655.6 246.9v-3.6M677.4 45.5v3.6M677.4 246.9v-3.6M688.3 45.5v3.6M688.3 246.9v-3.6M699.2 45.5v3.6M699.2 246.9v-3.6M710.1 45.5v3.6M710.1 246.9v-3.6M731.9 45.5v3.6M731.9 246.9v-3.6M742.8 45.5v3.6M742.8 246.9v-3.6M753.7 45.5v3.6M753.7 246.9v-3.6M764.6 45.5v3.6M764.6 246.9v-3.6M786.4 45.5v3.6M786.4 246.9v-3.6M797.3 45.5v3.6M797.3 246.9v-3.6M808.3 45.5v3.6M808.3 246.9v-3.6M819.2 45.5v3.6M819.2 246.9v-3.6M841.0 45.5v3.6M841.0 246.9v-3.6M851.9 45.5v3.6M851.9 246.9v-3.6M862.8 45.5v3.6M862.8 246.9v-3.6M873.7 45.5v3.6M873.7 246.9v-3.6M895.5 45.5v3.6M895.5 246.9v-3.6M906.4 45.5v3.6M906.4 246.9v-3.6M917.3 45.5v3.6M917.3 246.9v-3.6M928.2 45.5v3.6M928.2 246.9v-3.6M950.0 45.5v3.6M950.0 246.9v-3.6M652.7 241.9h3.6M952.7 241.9h-3.6M652.7 236.8h3.6M952.7 236.8h-3.6M652.7 231.8h3.6M952.7 231.8h-3.6M652.7 226.7h3.6M952.7 226.7h-3.6M652.7 216.7h3.6M952.7 216.7h-3.6M652.7 211.6h3.6M952.7 211.6h-3.6M652.7 206.6h3.6M952.7 206.6h-3.6M652.7 201.5h3.6M952.7 201.5h-3.6M652.7 191.5h3.6M952.7 191.5h-3.6M652.7 186.4h3.6M952.7 186.4h-3.6M652.7 181.4h3.6M952.7 181.4h-3.6M652.7 176.3h3.6M952.7 176.3h-3.6M652.7 166.3h3.6M952.7 166.3h-3.6M652.7 161.2h3.6M952.7 161.2h-3.6M652.7 156.2h3.6M952.7 156.2h-3.6M652.7 151.1h3.6M952.7 151.1h-3.6M652.7 141.1h3.6M952.7 141.1h-3.6M652.7 136.0h3.6M952.7 136.0h-3.6M652.7 131.0h3.6M952.7 131.0h-3.6M652.7 125.9h3.6M952.7 125.9h-3.6M652.7 115.9h3.6M952.7 115.9h-3.6M652.7 110.8h3.6M952.7 110.8h-3.6M652.7 105.8h3.6M952.7 105.8h-3.6M652.7 100.7h3.6M952.7 100.7h-3.6M652.7 90.7h3.6M952.7 90.7h-3.6M652.7 85.6h3.6M952.7 85.6h-3.6M652.7 80.6h3.6M952.7 80.6h-3.6M652.7 75.5h3.6M952.7 75.5h-3.6M652.7 65.5h3.6M952.7 65.5h-3.6M652.7 60.4h3.6M952.7 60.4h-3.6M652.7 55.4h3.6M952.7 55.4h-3.6M652.7 50.3h3.6M952.7 50.3h-3.6M75.5 246.9v3.6M75.5 448.3v-3.6M87.0 246.9v3.6M87.0 448.3v-3.6M98.6 246.9v3.6M98.6 448.3v-3.6M110.1 246.9v3.6M110.1 448.3v-3.6M133.2 246.9v3.6M133.2 448.3v-3.6M144.8 246.9v3.6M144.8 448.3v-3.6M156.3 246.9v3.6M156.3 448.3v-3.6M167.8 246.9v3.6M167.8 448.3v-3.6M191.0 246.9v3.6M191.0 448.3v-3.6M202.5 246.9v3.6M202.5 448.3v-3.6M214.1 246.9v3.6M214.1 448.3v-3.6M225.6 246.9v3.6M225.6 448.3v-3.6M248.7 246.9v3.6M248.7 448.3v-3.6M260.2 246.9v3.6M260.2 448.3v-3.6M271.8 246.9v3.6M271.8 448.3v-3.6M283.4 246.9v3.6M283.4 448.3v-3.6M306.4 246.9v3.6M306.4 448.3v-3.6M318.0 246.9v3.6M318.0 448.3v-3.6M329.6 246.9v3.6M329.6 448.3v-3.6M341.1 246.9v3.6M341.1 448.3v-3.6M52.7 438.6h3.6M352.7 438.6h-3.6M52.7 429.4h3.6M352.7 429.4h-3.6M52.7 411.0h3.6M352.7 411.0h-3.6M52.7 401.8h3.6M352.7 401.8h-3.6M52.7 392.6h3.6M352.7 392.6h-3.6M52.7 383.4h3.6M352.7 383.4h-3.6M52.7 365.1h3.6M352.7 365.1h-3.6M52.7 355.9h3.6M352.7 355.9h-3.6M52.7 346.7h3.6M352.7 346.7h-3.6M52.7 337.5h3.6M352.7 337.5h-3.6M52.7 319.1h3.6M352.7 319.1h-3.6M52.7 309.9h3.6M352.7 309.9h-3.6M52.7 300.7h3.6M352.7 300.7h-3.6M52.7 291.5h3.6M352.7 291.5h-3.6M52.7 273.2h3.6M352.7 273.2h-3.6M52.7 264.0h3.6M352.7 264.0h-3.6M52.7 254.8h3.6M352.7 254.8h-3.6M365.6 246.9v3.6M365.6 448.3v-3.6M379.3 246.9v3.6M379.3 448.3v-3.6M406.7 246.9v3.6M406.7 448.3v-3.6M420.4 246.9v3.6M420.4 448.3v-3.6M434.2 246.9v3.6M434.2 448.3v-3.6M447.9 246.9v3.6M447.9 448.3v-3.6M475.3 246.9v3.6M475.3 448.3v-3.6M489.0 246.9v3.6M489.0 448.3v-3.6M502.8 246.9v3.6M502.8 448.3v-3.6M516.5 246.9v3.6M516.5 448.3v-3.6M543.9 246.9v3.6M543.9 448.3v-3.6M557.6 246.9v3.6M557.6 448.3v-3.6M571.4 246.9v3.6M571.4 448.3v-3.6M585.1 246.9v3.6M585.1 448.3v-3.6M612.5 246.9v3.6M612.5 448.3v-3.6M626.2 246.9v3.6M626.2 448.3v-3.6M640.0 246.9v3.6M640.0 448.3v-3.6M352.7 441.0h3.6M652.7 441.0h-3.6M352.7 433.7h3.6M652.7 433.7h-3.6M352.7 426.4h3.6M652.7 426.4h-3.6M352.7 419.1h3.6M652.7 419.1h-3.6M352.7 404.5h3.6M652.7 404.5h-3.6M352.7 397.2h3.6M652.7 397.2h-3.6M352.7 389.9h3.6M652.7 389.9h-3.6M352.7 382.7h3.6M652.7 382.7h-3.6M352.7 368.1h3.6M652.7 368.1h-3.6M352.7 360.8h3.6M652.7 360.8h-3.6M352.7 353.5h3.6M652.7 353.5h-3.6M352.7 346.2h3.6M652.7 346.2h-3.6M352.7 331.6h3.6M652.7 331.6h-3.6M352.7 324.3h3.6M652.7 324.3h-3.6M352.7 317.0h3.6M652.7 317.0h-3.6M352.7 309.7h3.6M652.7 309.7h-3.6M352.7 295.1h3.6M652.7 295.1h-3.6M352.7 287.8h3.6M652.7 287.8h-3.6M352.7 280.5h3.6M652.7 280.5h-3.6M352.7 273.2h3.6M652.7 273.2h-3.6M352.7 258.7h3.6M652.7 258.7h-3.6M352.7 251.4h3.6M652.7 251.4h-3.6M75.5 448.3v3.6M75.5 649.8v-3.6M87.0 448.3v3.6M87.0 649.8v-3.6M98.6 448.3v3.6M98.6 649.8v-3.6M110.1 448.3v3.6M110.1 649.8v-3.6M133.2 448.3v3.6M133.2 649.8v-3.6M144.8 448.3v3.6M144.8 649.8v-3.6M156.3 448.3v3.6M156.3 649.8v-3.6M167.8 448.3v3.6M167.8 649.8v-3.6M191.0 448.3v3.6M191.0 649.8v-3.6M202.5 448.3v3.6M202.5 649.8v-3.6M214.1 448.3v3.6M214.1 649.8v-3.6M225.6 448.3v3.6M225.6 649.8v-3.6M248.7 448.3v3.6M248.7 649.8v-3.6M260.2 448.3v3.6M260.2 649.8v-3.6M271.8 448.3v3.6M271.8 649.8v-3.6M283.4 448.3v3.6M283.4 649.8v-3.6M306.4 448.3v3.6M306.4 649.8v-3.6M318.0 448.3v3.6M318.0 649.8v-3.6M329.6 448.3v3.6M329.6 649.8v-3.6M341.1 448.3v3.6M341.1 649.8v-3.6M52.7 624.2h3.6M352.7 624.2h-3.6M52.7 611.4h3.6M352.7 611.4h-3.6M52.7 598.6h3.6M352.7 598.6h-3.6M52.7 585.8h3.6M352.7 585.8h-3.6M52.7 560.3h3.6M352.7 560.3h-3.6M52.7 547.5h3.6M352.7 547.5h-3.6M52.7 534.7h3.6M352.7 534.7h-3.6M52.7 521.9h3.6M352.7 521.9h-3.6M52.7 496.3h3.6M352.7 496.3h-3.6M52.7 483.5h3.6M352.7 483.5h-3.6M52.7 470.8h3.6M352.7 470.8h-3.6M52.7 458.0h3.6M352.7 458.0h-3.6M365.6 448.3v3.6M365.6 649.8v-3.6M379.3 448.3v3.6M379.3 649.8v-3.6M406.7 448.3v3.6M406.7 649.8v-3.6M420.4 448.3v3.6M420.4 649.8v-3.6M434.2 448.3v3.6M434.2 649.8v-3.6M447.9 448.3v3.6M447.9 649.8v-3.6M475.3 448.3v3.6M475.3 649.8v-3.6M489.0 448.3v3.6M489.0 649.8v-3.6M502.8 448.3v3.6M502.8 649.8v-3.6M516.5 448.3v3.6M516.5 649.8v-3.6M543.9 448.3v3.6M543.9 649.8v-3.6M557.6 448.3v3.6M557.6 649.8v-3.6M571.4 448.3v3.6M571.4 649.8v-3.6M585.1 448.3v3.6M585.1 649.8v-3.6M612.5 448.3v3.6M612.5 649.8v-3.6M626.2 448.3v3.6M626.2 649.8v-3.6M640.0 448.3v3.6M640.0 649.8v-3.6M352.7 624.2h3.6M652.7 624.2h-3.6M352.7 611.4h3.6M652.7 611.4h-3.6M352.7 598.6h3.6M652.7 598.6h-3.6M352.7 585.8h3.6M652.7 585.8h-3.6M352.7 560.3h3.6M652.7 560.3h-3.6M352.7 547.5h3.6M652.7 547.5h-3.6M352.7 534.7h3.6M652.7 534.7h-3.6M352.7 521.9h3.6M652.7 521.9h-3.6M352.7 496.3h3.6M652.7 496.3h-3.6M352.7 483.5h3.6M652.7 483.5h-3.6M352.7 470.8h3.6M652.7 470.8h-3.6M352.7 458.0h3.6M652.7 458.0h-3.6M690.7 448.3v3.6M690.7 649.8v-3.6M709.8 448.3v3.6M709.8 649.8v-3.6M728.8 448.3v3.6M728.8 649.8v-3.6M747.9 448.3v3.6M747.9 649.8v-3.6M785.9 448.3v3.6M785.9 649.8v-3.6M805.0 448.3v3.6M805.0 649.8v-3.6M824.0 448.3v3.6M824.0 649.8v-3.6M843.1 448.3v3.6M843.1 649.8v-3.6M881.1 448.3v3.6M881.1 649.8v-3.6M900.2 448.3v3.6M900.2 649.8v-3.6M919.2 448.3v3.6M919.2 649.8v-3.6M938.3 448.3v3.6M938.3 649.8v-3.6M652.7 641.4h3.6M952.7 641.4h-3.6M652.7 633.0h3.6M952.7 633.0h-3.6M652.7 624.6h3.6M952.7 624.6h-3.6M652.7 616.2h3.6M952.7 616.2h-3.6M652.7 599.4h3.6M952.7 599.4h-3.6M652.7 591.0h3.6M952.7 591.0h-3.6M652.7 582.6h3.6M952.7 582.6h-3.6M652.7 574.2h3.6M952.7 574.2h-3.6M652.7 557.5h3.6M952.7 557.5h-3.6M652.7 549.1h3.6M952.7 549.1h-3.6M652.7 540.7h3.6M952.7 540.7h-3.6M652.7 532.3h3.6M952.7 532.3h-3.6M652.7 515.5h3.6M952.7 515.5h-3.6M652.7 507.1h3.6M952.7 507.1h-3.6M652.7 498.7h3.6M952.7 498.7h-3.6M652.7 490.3h3.6M952.7 490.3h-3.6M652.7 473.6h3.6M952.7 473.6h-3.6M652.7 465.2h3.6M952.7 465.2h-3.6M652.7 456.8h3.6M952.7 456.8h-3.6M75.5 649.8v3.6M75.5 851.2v-3.6M87.0 649.8v3.6M87.0 851.2v-3.6M98.6 649.8v3.6M98.6 851.2v-3.6M110.1 649.8v3.6M110.1 851.2v-3.6M133.2 649.8v3.6M133.2 851.2v-3.6M144.8 649.8v3.6M144.8 851.2v-3.6M156.3 649.8v3.6M156.3 851.2v-3.6M167.8 649.8v3.6M167.8 851.2v-3.6M191.0 649.8v3.6M191.0 851.2v-3.6M202.5 649.8v3.6M202.5 851.2v-3.6M214.1 649.8v3.6M214.1 851.2v-3.6M225.6 649.8v3.6M225.6 851.2v-3.6M248.7 649.8v3.6M248.7 851.2v-3.6M260.2 649.8v3.6M260.2 851.2v-3.6M271.8 649.8v3.6M271.8 851.2v-3.6M283.4 649.8v3.6M283.4 851.2v-3.6M306.4 649.8v3.6M306.4 851.2v-3.6M318.0 649.8v3.6M318.0 851.2v-3.6M329.6 649.8v3.6M329.6 851.2v-3.6M341.1 649.8v3.6M341.1 851.2v-3.6M52.7 849.5h3.6M352.7 849.5h-3.6M52.7 834.9h3.6M352.7 834.9h-3.6M52.7 827.6h3.6M352.7 827.6h-3.6M52.7 820.2h3.6M352.7 820.2h-3.6M52.7 812.9h3.6M352.7 812.9h-3.6M52.7 798.3h3.6M352.7 798.3h-3.6M52.7 790.9h3.6M352.7 790.9h-3.6M52.7 783.6h3.6M352.7 783.6h-3.6M52.7 776.3h3.6M352.7 776.3h-3.6M52.7 761.6h3.6M352.7 761.6h-3.6M52.7 754.3h3.6M352.7 754.3h-3.6M52.7 747.0h3.6M352.7 747.0h-3.6M52.7 739.7h3.6M352.7 739.7h-3.6M52.7 725.0h3.6M352.7 725.0h-3.6M52.7 717.7h3.6M352.7 717.7h-3.6M52.7 710.4h3.6M352.7 710.4h-3.6M52.7 703.0h3.6M352.7 703.0h-3.6M52.7 688.4h3.6M352.7 688.4h-3.6M52.7 681.1h3.6M352.7 681.1h-3.6M52.7 673.7h3.6M352.7 673.7h-3.6M52.7 666.4h3.6M352.7 666.4h-3.6M52.7 651.8h3.6M352.7 651.8h-3.6M365.6 649.8v3.6M365.6 851.2v-3.6M379.3 649.8v3.6M379.3 851.2v-3.6M406.7 649.8v3.6M406.7 851.2v-3.6M420.4 649.8v3.6M420.4 851.2v-3.6M434.2 649.8v3.6M434.2 851.2v-3.6M447.9 649.8v3.6M447.9 851.2v-3.6M475.3 649.8v3.6M475.3 851.2v-3.6M489.0 649.8v3.6M489.0 851.2v-3.6M502.8 649.8v3.6M502.8 851.2v-3.6M516.5 649.8v3.6M516.5 851.2v-3.6M543.9 649.8v3.6M543.9 851.2v-3.6M557.6 649.8v3.6M557.6 851.2v-3.6M571.4 649.8v3.6M571.4 851.2v-3.6M585.1 649.8v3.6M585.1 851.2v-3.6M612.5 649.8v3.6M612.5 851.2v-3.6M626.2 649.8v3.6M626.2 851.2v-3.6M640.0 649.8v3.6M640.0 851.2v-3.6M352.7 849.5h3.6M652.7 849.5h-3.6M352.7 834.9h3.6M652.7 834.9h-3.6M352.7 827.6h3.6M652.7 827.6h-3.6M352.7 820.2h3.6M652.7 820.2h-3.6M352.7 812.9h3.6M652.7 812.9h-3.6M352.7 798.3h3.6M652.7 798.3h-3.6M352.7 790.9h3.6M652.7 790.9h-3.6M352.7 783.6h3.6M652.7 783.6h-3.6M352.7 776.3h3.6M652.7 776.3h-3.6M352.7 761.6h3.6M652.7 761.6h-3.6M352.7 754.3h3.6M652.7 754.3h-3.6M352.7 747.0h3.6M652.7 747.0h-3.6M352.7 739.7h3.6M652.7 739.7h-3.6M352.7 725.0h3.6M652.7 725.0h-3.6M352.7 717.7h3.6M652.7 717.7h-3.6M352.7 710.4h3.6M652.7 710.4h-3.6M352.7 703.0h3.6M652.7 703.0h-3.6M352.7 688.4h3.6M652.7 688.4h-3.6M352.7 681.1h3.6M652.7 681.1h-3.6M352.7 673.7h3.6M652.7 673.7h-3.6M352.7 666.4h3.6M652.7 666.4h-3.6M352.7 651.8h3.6M652.7 651.8h-3.6M690.7 649.8v3.6M690.7 851.2v-3.6M709.8 649.8v3.6M709.8 851.2v-3.6M728.8 649.8v3.6M728.8 851.2v-3.6M747.9 649.8v3.6M747.9 851.2v-3.6M785.9 649.8v3.6M785.9 851.2v-3.6M805.0 649.8v3.6M805.0 851.2v-3.6M824.0 649.8v3.6M824.0 851.2v-3.6M843.1 649.8v3.6M843.1 851.2v-3.6M881.1 649.8v3.6M881.1 851.2v-3.6M900.2 649.8v3.6M900.2 851.2v-3.6M919.2 649.8v3.6M919.2 851.2v-3.6M938.3 649.8v3.6M938.3 851.2v-3.6M652.7 849.5h3.6M952.7 849.5h-3.6M652.7 834.9h3.6M952.7 834.9h-3.6M652.7 827.6h3.6M952.7 827.6h-3.6M652.7 820.2h3.6M952.7 820.2h-3.6M652.7 812.9h3.6M952.7 812.9h-3.6M652.7 798.3h3.6M952.7 798.3h-3.6M652.7 790.9h3.6M952.7 790.9h-3.6M652.7 783.6h3.6M952.7 783.6h-3.6M652.7 776.3h3.6M952.7 776.3h-3.6M652.7 761.6h3.6M952.7 761.6h-3.6M652.7 754.3h3.6M952.7 754.3h-3.6M652.7 747.0h3.6M952.7 747.0h-3.6M652.7 739.7h3.6M952.7 739.7h-3.6M652.7 725.0h3.6M952.7 725.0h-3.6M652.7 717.7h3.6M952.7 717.7h-3.6M652.7 710.4h3.6M952.7 710.4h-3.6M652.7 703.0h3.6M952.7 703.0h-3.6M652.7 688.4h3.6M952.7 688.4h-3.6M652.7 681.1h3.6M952.7 681.1h-3.6M652.7 673.7h3.6M952.7 673.7h-3.6M652.7 666.4h3.6M952.7 666.4h-3.6M652.7 651.8h3.6M952.7 651.8h-3.6"/>
<path stroke-width="1.2" d="M63.9 45.5v7.0M63.9 246.9v-7.0M121.7 45.5v7.0M121.7 246.9v-7.0M179.4 45.5v7.0M179.4 246.9v-7.0M237.2 45.5v7.0M237.2 246.9v-7.0M294.9 45.5v7.0M294.9 246.9v-7.0M52.7 246.9h7.0M352.7 246.9h-7.0M52.7 205.0h7.0M352.7 205.0h-7.0M52.7 163.1h7.0M352.7 163.1h-7.0M52.7 121.2h7.0M352.7 121.2h-7.0M52.7 79.3h7.0M352.7 79.3h-7.0M666.5 45.5v7.0M666.5 246.9v-7.0M721.0 45.5v7.0M721.0 246.9v-7.0M775.5 45.5v7.0M775.5 246.9v-7.0M830.1 45.5v7.0M830.1 246.9v-7.0M884.6 45.5v7.0M884.6 246.9v-7.0M939.1 45.5v7.0M939.1 246.9v-7.0M652.7 246.9h7.0M952.7 246.9h-7.0M652.7 221.7h7.0M952.7 221.7h-7.0M652.7 196.5h7.0M952.7 196.5h-7.0M652.7 171.3h7.0M952.7 171.3h-7.0M652.7 146.1h7.0M952.7 146.1h-7.0M652.7 120.9h7.0M952.7 120.9h-7.0M652.7 95.7h7.0M952.7 95.7h-7.0M652.7 70.5h7.0M952.7 70.5h-7.0M63.9 246.9v7.0M63.9 448.3v-7.0M121.7 246.9v7.0M121.7 448.3v-7.0M179.4 246.9v7.0M179.4 448.3v-7.0M237.2 246.9v7.0M237.2 448.3v-7.0M294.9 246.9v7.0M294.9 448.3v-7.0M52.7 420.2h7.0M352.7 420.2h-7.0M52.7 374.2h7.0M352.7 374.2h-7.0M52.7 328.3h7.0M352.7 328.3h-7.0M52.7 282.4h7.0M352.7 282.4h-7.0M393.0 246.9v7.0M393.0 448.3v-7.0M461.6 246.9v7.0M461.6 448.3v-7.0M530.2 246.9v7.0M530.2 448.3v-7.0M598.8 246.9v7.0M598.8 448.3v-7.0M352.7 448.3h7.0M652.7 448.3h-7.0M352.7 411.8h7.0M652.7 411.8h-7.0M352.7 375.4h7.0M652.7 375.4h-7.0M352.7 338.9h7.0M652.7 338.9h-7.0M352.7 302.4h7.0M652.7 302.4h-7.0M352.7 265.9h7.0M652.7 265.9h-7.0M63.9 448.3v7.0M63.9 649.8v-7.0M121.7 448.3v7.0M121.7 649.8v-7.0M179.4 448.3v7.0M179.4 649.8v-7.0M237.2 448.3v7.0M237.2 649.8v-7.0M294.9 448.3v7.0M294.9 649.8v-7.0M52.7 637.0h7.0M352.7 637.0h-7.0M52.7 573.1h7.0M352.7 573.1h-7.0M52.7 509.1h7.0M352.7 509.1h-7.0M393.0 448.3v7.0M393.0 649.8v-7.0M461.6 448.3v7.0M461.6 649.8v-7.0M530.2 448.3v7.0M530.2 649.8v-7.0M598.8 448.3v7.0M598.8 649.8v-7.0M352.7 637.0h7.0M652.7 637.0h-7.0M352.7 573.1h7.0M652.7 573.1h-7.0M352.7 509.1h7.0M652.7 509.1h-7.0M671.7 448.3v7.0M671.7 649.8v-7.0M766.9 448.3v7.0M766.9 649.8v-7.0M862.1 448.3v7.0M862.1 649.8v-7.0M652.7 649.8h7.0M952.7 649.8h-7.0M652.7 607.8h7.0M952.7 607.8h-7.0M652.7 565.9h7.0M952.7 565.9h-7.0M652.7 523.9h7.0M952.7 523.9h-7.0M652.7 482.0h7.0M952.7 482.0h-7.0M63.9 649.8v7.0M63.9 851.2v-7.0M121.7 649.8v7.0M121.7 851.2v-7.0M179.4 649.8v7.0M179.4 851.2v-7.0M237.2 649.8v7.0M237.2 851.2v-7.0M294.9 649.8v7.0M294.9 851.2v-7.0M52.7 842.2h7.0M352.7 842.2h-7.0M52.7 805.6h7.0M352.7 805.6h-7.0M52.7 769.0h7.0M352.7 769.0h-7.0M52.7 732.3h7.0M352.7 732.3h-7.0M52.7 695.7h7.0M352.7 695.7h-7.0M52.7 659.1h7.0M352.7 659.1h-7.0M393.0 649.8v7.0M393.0 851.2v-7.0M461.6 649.8v7.0M461.6 851.2v-7.0M530.2 649.8v7.0M530.2 851.2v-7.0M598.8 649.8v7.0M598.8 851.2v-7.0M352.7 842.2h7.0M652.7 842.2h-7.0M352.7 805.6h7.0M652.7 805.6h-7.0M352.7 769.0h7.0M652.7 769.0h-7.0M352.7 732.3h7.0M652.7 732.3h-7.0M352.7 695.7h7.0M652.7 695.7h-7.0M352.7 659.1h7.0M652.7 659.1h-7.0M671.7 649.8v7.0M671.7 851.2v-7.0M766.9 649.8v7.0M766.9 851.2v-7.0M862.1 649.8v7.0M862.1 851.2v-7.0M652.7 842.2h7.0M952.7 842.2h-7.0M652.7 805.6h7.0M952.7 805.6h-7.0M652.7 769.0h7.0M952.7 769.0h-7.0M652.7 732.3h7.0M952.7 732.3h-7.0M652.7 695.7h7.0M952.7 695.7h-7.0M652.7 659.1h7.0M952.7 659.1h-7.0"/>
<path stroke-width="0.9" stroke-linecap="square" d="M52.70 45.50H352.70M652.70 45.50H952.70M52.70 246.90H952.70M52.70 448.30H952.70M52.70 649.75H952.70M52.70 851.20H952.70M52.70 45.50V851.20M352.70 45.50V851.20M652.70 45.50V851.20M952.70 45.50V246.90M952.70 448.30V851.20"/>
</g>
<g font-family="'DejaVu Sans','Liberation Sans',sans-serif" fill="#000" font-size="12.9">
<text x="63.9" y="38.1" text-anchor="middle">5</text>
<text x="121.7" y="38.1" text-anchor="middle">10</text>
<text x="179.4" y="38.1" text-anchor="middle">15</text>
<text x="237.2" y="38.1" text-anchor="middle">20</text>
<text x="294.9" y="38.1" text-anchor="middle">25</text>
<text x="666.5" y="38.1" text-anchor="middle">0.0</text>
<text x="721.0" y="38.1" text-anchor="middle">0.2</text>
<text x="775.5" y="38.1" text-anchor="middle">0.4</text>
<text x="830.1" y="38.1" text-anchor="middle">0.6</text>
<text x="884.6" y="38.1" text-anchor="middle">0.8</text>
<text x="939.1" y="38.1" text-anchor="middle">1.0</text>
<text x="393.0" y="239.7" text-anchor="middle">5</text>
<text x="461.6" y="239.7" text-anchor="middle">10</text>
<text x="530.2" y="239.7" text-anchor="middle">15</text>
<text x="598.8" y="239.7" text-anchor="middle">20</text>
<text x="671.7" y="441.5" text-anchor="middle">2</text>
<text x="766.9" y="441.5" text-anchor="middle">4</text>
<text x="862.1" y="441.5" text-anchor="middle">6</text>
<text x="63.9" y="865.3" text-anchor="middle">5</text>
<text x="121.7" y="865.3" text-anchor="middle">10</text>
<text x="179.4" y="865.3" text-anchor="middle">15</text>
<text x="237.2" y="865.3" text-anchor="middle">20</text>
<text x="294.9" y="865.3" text-anchor="middle">25</text>
<text x="393.0" y="865.3" text-anchor="middle">5</text>
<text x="461.6" y="865.3" text-anchor="middle">10</text>
<text x="530.2" y="865.3" text-anchor="middle">15</text>
<text x="598.8" y="865.3" text-anchor="middle">20</text>
<text x="671.7" y="865.3" text-anchor="middle">2</text>
<text x="766.9" y="865.3" text-anchor="middle">4</text>
<text x="862.1" y="865.3" text-anchor="middle">6</text>
<text x="47.9" y="251.7" text-anchor="end">0</text>
<text x="47.9" y="209.8" text-anchor="end">100</text>
<text x="47.9" y="167.9" text-anchor="end">200</text>
<text x="47.9" y="126.0" text-anchor="end">300</text>
<text x="47.9" y="84.1" text-anchor="end">400</text>
<text x="47.9" y="425.0" text-anchor="end">5</text>
<text x="47.9" y="379.1" text-anchor="end">10</text>
<text x="47.9" y="333.1" text-anchor="end">15</text>
<text x="47.9" y="287.2" text-anchor="end">20</text>
<text x="47.9" y="641.8" text-anchor="end">2</text>
<text x="47.9" y="577.9" text-anchor="end">4</text>
<text x="47.9" y="513.9" text-anchor="end">6</text>
<text x="47.9" y="847.0" text-anchor="end">0.0</text>
<text x="47.9" y="810.4" text-anchor="end">0.2</text>
<text x="47.9" y="773.8" text-anchor="end">0.4</text>
<text x="47.9" y="737.1" text-anchor="end">0.6</text>
<text x="47.9" y="700.5" text-anchor="end">0.8</text>
<text x="47.9" y="663.9" text-anchor="end">1.0</text>
<text x="957.5" y="251.7" text-anchor="start">0</text>
<text x="957.5" y="226.5" text-anchor="start">20</text>
<text x="957.5" y="201.3" text-anchor="start">40</text>
<text x="957.5" y="176.1" text-anchor="start">60</text>
<text x="957.5" y="150.9" text-anchor="start">80</text>
<text x="957.5" y="125.7" text-anchor="start">100</text>
<text x="957.5" y="100.5" text-anchor="start">120</text>
<text x="957.5" y="75.3" text-anchor="start">140</text>
<text x="657.5" y="416.6" text-anchor="start">100</text>
<text x="657.5" y="380.2" text-anchor="start">200</text>
<text x="657.5" y="343.7" text-anchor="start">300</text>
<text x="657.5" y="307.2" text-anchor="start">400</text>
<text x="657.5" y="270.8" text-anchor="start">500</text>
<text x="957.5" y="612.6" text-anchor="start">100</text>
<text x="957.5" y="570.6" text-anchor="start">200</text>
<text x="957.5" y="528.7" text-anchor="start">300</text>
<text x="957.5" y="486.8" text-anchor="start">400</text>
<text x="972.4" y="855.3" font-size="11.7">10<tspan dy="-4.6" font-size="7.9">−3</tspan></text>
<text x="972.4" y="804.9" font-size="11.7">10<tspan dy="-4.6" font-size="7.9">−2</tspan></text>
<text x="972.4" y="754.6" font-size="11.7">10<tspan dy="-4.6" font-size="7.9">−1</tspan></text>
<text x="972.4" y="704.2" font-size="11.7">10<tspan dy="-4.6" font-size="7.9">0</tspan></text>
<text x="972.4" y="653.9" font-size="11.7">10<tspan dy="-4.6" font-size="7.9">1</tspan></text>
</g>
<g font-family="'DejaVu Sans','Liberation Sans',sans-serif" fill="#000" font-size="16.6" text-anchor="middle">
<text x="202.7" y="23.1" font-size="18.7">BH mass (<tspan font-style="italic">M</tspan><tspan dy="3.2" font-size="13.0"> ⊙</tspan><tspan dy="-3.2"> )</tspan></text>
<text x="802.7" y="24.0"><tspan font-style="italic">e</tspan></text>
<text x="502.7" y="225.4">Be star mass (<tspan font-style="italic">M</tspan><tspan dy="3.2" font-size="10.9"> ⊙</tspan><tspan dy="-3.2"> )</tspan></text>
<text x="802.7" y="425.8">log <tspan font-style="italic">P</tspan><tspan dy="3.2" font-size="10.9">orb</tspan><tspan dy="-3.2">(d)</tspan></text>
<text x="202.7" y="885.8">BH mass (<tspan font-style="italic">M</tspan><tspan dy="3.2" font-size="10.9"> ⊙</tspan><tspan dy="-3.2"> )</tspan></text>
<text x="502.7" y="885.8">Be star mass (<tspan font-style="italic">M</tspan><tspan dy="3.2" font-size="10.9"> ⊙</tspan><tspan dy="-3.2"> )</tspan></text>
<text x="802.7" y="885.8">log <tspan font-style="italic">P</tspan><tspan dy="3.2" font-size="10.9">orb</tspan><tspan dy="-3.2">(d)</tspan></text>
<text transform="translate(16.0 147.7) rotate(-90)">Number</text>
<text transform="translate(23.4 347.6) rotate(-90)">Be star mass (<tspan font-style="italic">M</tspan><tspan dy="3.2" font-size="10.9"> ⊙</tspan><tspan dy="-3.2"> )</tspan></text>
<text transform="translate(30.5 549.0) rotate(-90)">log <tspan font-style="italic">P</tspan><tspan dy="3.2" font-size="10.9">orb</tspan><tspan dy="-3.2">(d)</tspan></text>
<text transform="translate(18.9 750.5) rotate(-90)"><tspan font-style="italic">e</tspan></text>
<text transform="translate(1000.2 147.7) rotate(-90)">Number</text>
<text transform="translate(701.4 349.1) rotate(-90)">Number</text>
<text transform="translate(1000.2 550.5) rotate(-90)">Number</text>
</g>
</svg>
</body></html>
